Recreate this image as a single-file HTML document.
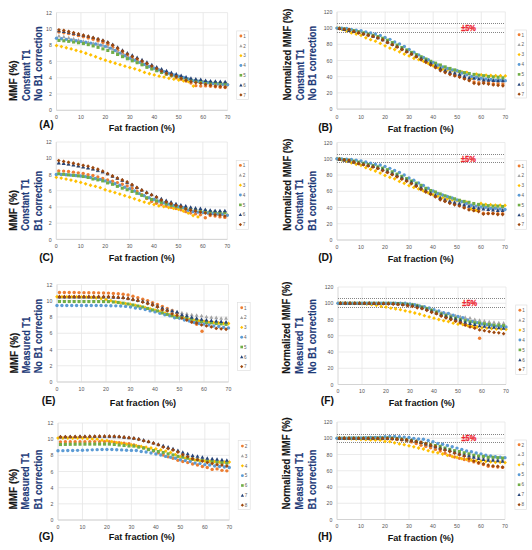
<!DOCTYPE html>
<html><head><meta charset="utf-8"><style>
html,body{margin:0;padding:0;background:#fff;}
body{width:532px;height:550px;position:relative;overflow:hidden;font-family:"Liberation Sans",sans-serif;}
svg{position:absolute;left:0;top:0;}
svg text{font-family:"Liberation Sans",sans-serif;}
.yt,.lab,.ff{position:absolute;left:0;top:0;white-space:nowrap;font-weight:bold;transform-origin:0 0;}
.yt{font-size:10.2px;line-height:10.2px;-webkit-text-stroke:0.15px currentColor;}
.lab{font-size:10.9px;line-height:10.9px;color:#111;}
.ff{font-size:9.4px;line-height:9.4px;color:#111;}
</style></head><body>
<svg width="532" height="550" viewBox="0 0 532 550"><g stroke="#e6e6e6" stroke-width="0.8"><line x1="56.50" y1="12.60" x2="56.50" y2="110.30"/><line x1="80.94" y1="12.60" x2="80.94" y2="110.30"/><line x1="105.39" y1="12.60" x2="105.39" y2="110.30"/><line x1="129.83" y1="12.60" x2="129.83" y2="110.30"/><line x1="154.27" y1="12.60" x2="154.27" y2="110.30"/><line x1="178.71" y1="12.60" x2="178.71" y2="110.30"/><line x1="203.16" y1="12.60" x2="203.16" y2="110.30"/><line x1="227.60" y1="12.60" x2="227.60" y2="110.30"/><line x1="56.50" y1="110.30" x2="227.60" y2="110.30"/><line x1="56.50" y1="94.02" x2="227.60" y2="94.02"/><line x1="56.50" y1="77.73" x2="227.60" y2="77.73"/><line x1="56.50" y1="61.45" x2="227.60" y2="61.45"/><line x1="56.50" y1="45.17" x2="227.60" y2="45.17"/><line x1="56.50" y1="28.88" x2="227.60" y2="28.88"/><line x1="56.50" y1="12.60" x2="227.60" y2="12.60"/></g><line x1="56.50" y1="110.30" x2="227.60" y2="110.30" stroke="#d0d0d0" stroke-width="0.9"/><line x1="56.50" y1="12.60" x2="56.50" y2="110.30" stroke="#dadada" stroke-width="0.8"/><g font-size="5.2" fill="#555"><text x="51.90" y="112.40" text-anchor="end">0</text><text x="51.90" y="96.12" text-anchor="end">2</text><text x="51.90" y="79.83" text-anchor="end">4</text><text x="51.90" y="63.55" text-anchor="end">6</text><text x="51.90" y="47.27" text-anchor="end">8</text><text x="51.90" y="30.98" text-anchor="end">10</text><text x="51.90" y="14.70" text-anchor="end">12</text><text x="56.50" y="118.80" text-anchor="middle">0</text><text x="80.94" y="118.80" text-anchor="middle">10</text><text x="105.39" y="118.80" text-anchor="middle">20</text><text x="129.83" y="118.80" text-anchor="middle">30</text><text x="154.27" y="118.80" text-anchor="middle">40</text><text x="178.71" y="118.80" text-anchor="middle">50</text><text x="203.16" y="118.80" text-anchor="middle">60</text><text x="227.60" y="118.80" text-anchor="middle">70</text></g><g><circle cx="58.94" cy="32.06" r="1.70" fill="#ED7D31"/><circle cx="63.83" cy="32.80" r="1.70" fill="#ED7D31"/><circle cx="68.72" cy="33.66" r="1.70" fill="#ED7D31"/><circle cx="73.61" cy="34.62" r="1.70" fill="#ED7D31"/><circle cx="78.50" cy="35.66" r="1.70" fill="#ED7D31"/><circle cx="83.39" cy="36.78" r="1.70" fill="#ED7D31"/><circle cx="88.28" cy="38.01" r="1.70" fill="#ED7D31"/><circle cx="93.16" cy="39.37" r="1.70" fill="#ED7D31"/><circle cx="98.05" cy="40.90" r="1.70" fill="#ED7D31"/><circle cx="102.94" cy="42.61" r="1.70" fill="#ED7D31"/><circle cx="107.83" cy="44.60" r="1.70" fill="#ED7D31"/><circle cx="112.72" cy="47.19" r="1.70" fill="#ED7D31"/><circle cx="117.61" cy="50.18" r="1.70" fill="#ED7D31"/><circle cx="122.50" cy="53.26" r="1.70" fill="#ED7D31"/><circle cx="127.38" cy="56.12" r="1.70" fill="#ED7D31"/><circle cx="132.27" cy="58.50" r="1.70" fill="#ED7D31"/><circle cx="137.16" cy="60.56" r="1.70" fill="#ED7D31"/><circle cx="142.05" cy="62.67" r="1.70" fill="#ED7D31"/><circle cx="146.94" cy="65.07" r="1.70" fill="#ED7D31"/><circle cx="151.83" cy="67.56" r="1.70" fill="#ED7D31"/><circle cx="156.72" cy="70.09" r="1.70" fill="#ED7D31"/><circle cx="161.60" cy="72.44" r="1.70" fill="#ED7D31"/><circle cx="166.49" cy="74.37" r="1.70" fill="#ED7D31"/><circle cx="171.38" cy="76.10" r="1.70" fill="#ED7D31"/><circle cx="176.27" cy="77.73" r="1.70" fill="#ED7D31"/><circle cx="181.16" cy="79.36" r="1.70" fill="#ED7D31"/><circle cx="186.05" cy="81.08" r="1.70" fill="#ED7D31"/><circle cx="190.94" cy="83.03" r="1.70" fill="#ED7D31"/><circle cx="195.82" cy="85.63" r="1.70" fill="#ED7D31"/><circle cx="200.71" cy="86.12" r="1.70" fill="#ED7D31"/><circle cx="205.60" cy="85.88" r="1.70" fill="#ED7D31"/><circle cx="210.49" cy="86.18" r="1.70" fill="#ED7D31"/><circle cx="215.38" cy="86.69" r="1.70" fill="#ED7D31"/><circle cx="220.27" cy="87.20" r="1.70" fill="#ED7D31"/><circle cx="225.16" cy="87.50" r="1.70" fill="#ED7D31"/><path d="M58.94 34.11L60.89 37.62L56.99 37.62Z" fill="#A5A5A5"/><path d="M63.83 34.80L65.78 38.31L61.88 38.31Z" fill="#A5A5A5"/><path d="M68.72 35.69L70.67 39.20L66.77 39.20Z" fill="#A5A5A5"/><path d="M73.61 36.70L75.56 40.21L71.66 40.21Z" fill="#A5A5A5"/><path d="M78.50 38.06L80.45 41.57L76.55 41.57Z" fill="#A5A5A5"/><path d="M83.39 39.31L85.34 42.82L81.44 42.82Z" fill="#A5A5A5"/><path d="M88.28 40.32L90.23 43.83L86.33 43.83Z" fill="#A5A5A5"/><path d="M93.16 41.23L95.11 44.74L91.21 44.74Z" fill="#A5A5A5"/><path d="M98.05 42.20L100.00 45.71L96.10 45.71Z" fill="#A5A5A5"/><path d="M102.94 43.35L104.89 46.86L100.99 46.86Z" fill="#A5A5A5"/><path d="M107.83 44.85L109.78 48.36L105.88 48.36Z" fill="#A5A5A5"/><path d="M112.72 46.92L114.67 50.43L110.77 50.43Z" fill="#A5A5A5"/><path d="M117.61 49.39L119.56 52.90L115.66 52.90Z" fill="#A5A5A5"/><path d="M122.50 52.03L124.45 55.54L120.55 55.54Z" fill="#A5A5A5"/><path d="M127.38 54.63L129.33 58.14L125.43 58.14Z" fill="#A5A5A5"/><path d="M132.27 57.01L134.22 60.52L130.32 60.52Z" fill="#A5A5A5"/><path d="M137.16 59.36L139.11 62.87L135.21 62.87Z" fill="#A5A5A5"/><path d="M142.05 61.66L144.00 65.17L140.10 65.17Z" fill="#A5A5A5"/><path d="M146.94 63.83L148.89 67.34L144.99 67.34Z" fill="#A5A5A5"/><path d="M151.83 65.88L153.78 69.39L149.88 69.39Z" fill="#A5A5A5"/><path d="M156.72 67.70L158.67 71.21L154.77 71.21Z" fill="#A5A5A5"/><path d="M161.60 69.31L163.55 72.82L159.65 72.82Z" fill="#A5A5A5"/><path d="M166.49 70.85L168.44 74.36L164.54 74.36Z" fill="#A5A5A5"/><path d="M171.38 72.35L173.33 75.86L169.43 75.86Z" fill="#A5A5A5"/><path d="M176.27 73.82L178.22 77.33L174.32 77.33Z" fill="#A5A5A5"/><path d="M181.16 75.35L183.11 78.86L179.21 78.86Z" fill="#A5A5A5"/><path d="M186.05 77.04L188.00 80.55L184.10 80.55Z" fill="#A5A5A5"/><path d="M190.94 78.52L192.89 82.03L188.99 82.03Z" fill="#A5A5A5"/><path d="M195.82 79.42L197.77 82.93L193.87 82.93Z" fill="#A5A5A5"/><path d="M200.71 79.99L202.66 83.50L198.76 83.50Z" fill="#A5A5A5"/><path d="M205.60 80.53L207.55 84.04L203.65 84.04Z" fill="#A5A5A5"/><path d="M210.49 81.07L212.44 84.58L208.54 84.58Z" fill="#A5A5A5"/><path d="M215.38 81.58L217.33 85.09L213.43 85.09Z" fill="#A5A5A5"/><path d="M220.27 82.05L222.22 85.56L218.32 85.56Z" fill="#A5A5A5"/><path d="M225.16 82.50L227.11 86.01L223.21 86.01Z" fill="#A5A5A5"/><path d="M56.50 43.67L58.40 45.57L56.50 47.47L54.60 45.57Z" fill="#FFC000"/><path d="M61.39 44.71L63.29 46.61L61.39 48.51L59.49 46.61Z" fill="#FFC000"/><path d="M66.28 45.84L68.18 47.74L66.28 49.64L64.38 47.74Z" fill="#FFC000"/><path d="M71.17 47.07L73.07 48.97L71.17 50.87L69.27 48.97Z" fill="#FFC000"/><path d="M76.05 48.39L77.95 50.29L76.05 52.19L74.15 50.29Z" fill="#FFC000"/><path d="M80.94 49.78L82.84 51.68L80.94 53.58L79.04 51.68Z" fill="#FFC000"/><path d="M85.83 51.33L87.73 53.23L85.83 55.13L83.93 53.23Z" fill="#FFC000"/><path d="M90.72 53.06L92.62 54.96L90.72 56.86L88.82 54.96Z" fill="#FFC000"/><path d="M95.61 54.87L97.51 56.77L95.61 58.67L93.71 56.77Z" fill="#FFC000"/><path d="M100.50 56.66L102.40 58.56L100.50 60.46L98.60 58.56Z" fill="#FFC000"/><path d="M105.39 58.33L107.29 60.23L105.39 62.13L103.49 60.23Z" fill="#FFC000"/><path d="M110.27 59.87L112.17 61.77L110.27 63.67L108.37 61.77Z" fill="#FFC000"/><path d="M115.16 61.36L117.06 63.26L115.16 65.16L113.26 63.26Z" fill="#FFC000"/><path d="M120.05 62.81L121.95 64.71L120.05 66.61L118.15 64.71Z" fill="#FFC000"/><path d="M124.94 64.24L126.84 66.14L124.94 68.04L123.04 66.14Z" fill="#FFC000"/><path d="M129.83 65.66L131.73 67.56L129.83 69.46L127.93 67.56Z" fill="#FFC000"/><path d="M134.72 66.97L136.62 68.87L134.72 70.77L132.82 68.87Z" fill="#FFC000"/><path d="M139.61 68.42L141.51 70.32L139.61 72.22L137.71 70.32Z" fill="#FFC000"/><path d="M144.49 70.54L146.39 72.44L144.49 74.34L142.59 72.44Z" fill="#FFC000"/><path d="M149.38 71.84L151.28 73.74L149.38 75.64L147.48 73.74Z" fill="#FFC000"/><path d="M154.27 73.07L156.17 74.97L154.27 76.87L152.37 74.97Z" fill="#FFC000"/><path d="M159.16 74.29L161.06 76.19L159.16 78.09L157.26 76.19Z" fill="#FFC000"/><path d="M164.05 75.18L165.95 77.08L164.05 78.98L162.15 77.08Z" fill="#FFC000"/><path d="M168.94 76.40L170.84 78.30L168.94 80.20L167.04 78.30Z" fill="#FFC000"/><path d="M173.83 77.30L175.73 79.20L173.83 81.10L171.93 79.20Z" fill="#FFC000"/><path d="M178.71 78.11L180.61 80.01L178.71 81.91L176.81 80.01Z" fill="#FFC000"/><path d="M183.60 79.01L185.50 80.91L183.60 82.81L181.70 80.91Z" fill="#FFC000"/><path d="M188.49 79.74L190.39 81.64L188.49 83.54L186.59 81.64Z" fill="#FFC000"/><path d="M193.38 84.22L195.28 86.12L193.38 88.02L191.48 86.12Z" fill="#FFC000"/><path d="M198.27 79.90L200.17 81.80L198.27 83.70L196.37 81.80Z" fill="#FFC000"/><path d="M203.16 80.31L205.06 82.21L203.16 84.11L201.26 82.21Z" fill="#FFC000"/><path d="M208.05 80.91L209.95 82.81L208.05 84.71L206.15 82.81Z" fill="#FFC000"/><path d="M212.93 81.53L214.83 83.43L212.93 85.33L211.03 83.43Z" fill="#FFC000"/><path d="M217.82 82.03L219.72 83.93L217.82 85.83L215.92 83.93Z" fill="#FFC000"/><path d="M222.71 82.47L224.61 84.37L222.71 86.27L220.81 84.37Z" fill="#FFC000"/><path d="M227.60 82.84L229.50 84.74L227.60 86.64L225.70 84.74Z" fill="#FFC000"/><circle cx="56.50" cy="38.25" r="1.70" fill="#5B9BD5"/><circle cx="61.39" cy="38.77" r="1.70" fill="#5B9BD5"/><circle cx="66.28" cy="39.37" r="1.70" fill="#5B9BD5"/><circle cx="71.17" cy="40.03" r="1.70" fill="#5B9BD5"/><circle cx="76.05" cy="40.74" r="1.70" fill="#5B9BD5"/><circle cx="80.94" cy="41.50" r="1.70" fill="#5B9BD5"/><circle cx="85.83" cy="42.29" r="1.70" fill="#5B9BD5"/><circle cx="90.72" cy="43.12" r="1.70" fill="#5B9BD5"/><circle cx="95.61" cy="44.05" r="1.70" fill="#5B9BD5"/><circle cx="100.50" cy="45.12" r="1.70" fill="#5B9BD5"/><circle cx="105.39" cy="46.39" r="1.70" fill="#5B9BD5"/><circle cx="110.27" cy="48.15" r="1.70" fill="#5B9BD5"/><circle cx="115.16" cy="50.49" r="1.70" fill="#5B9BD5"/><circle cx="120.05" cy="53.12" r="1.70" fill="#5B9BD5"/><circle cx="124.94" cy="55.79" r="1.70" fill="#5B9BD5"/><circle cx="129.83" cy="58.19" r="1.70" fill="#5B9BD5"/><circle cx="134.72" cy="60.31" r="1.70" fill="#5B9BD5"/><circle cx="139.61" cy="62.33" r="1.70" fill="#5B9BD5"/><circle cx="144.49" cy="64.38" r="1.70" fill="#5B9BD5"/><circle cx="149.38" cy="66.50" r="1.70" fill="#5B9BD5"/><circle cx="154.27" cy="68.21" r="1.70" fill="#5B9BD5"/><circle cx="159.16" cy="69.92" r="1.70" fill="#5B9BD5"/><circle cx="164.05" cy="71.63" r="1.70" fill="#5B9BD5"/><circle cx="168.94" cy="73.34" r="1.70" fill="#5B9BD5"/><circle cx="173.83" cy="74.97" r="1.70" fill="#5B9BD5"/><circle cx="178.71" cy="76.19" r="1.70" fill="#5B9BD5"/><circle cx="183.60" cy="77.49" r="1.70" fill="#5B9BD5"/><circle cx="188.49" cy="79.04" r="1.70" fill="#5B9BD5"/><circle cx="193.38" cy="80.83" r="1.70" fill="#5B9BD5"/><circle cx="198.27" cy="81.23" r="1.70" fill="#5B9BD5"/><circle cx="203.16" cy="82.13" r="1.70" fill="#5B9BD5"/><circle cx="208.05" cy="82.54" r="1.70" fill="#5B9BD5"/><circle cx="212.93" cy="83.43" r="1.70" fill="#5B9BD5"/><circle cx="217.82" cy="83.92" r="1.70" fill="#5B9BD5"/><circle cx="222.71" cy="84.33" r="1.70" fill="#5B9BD5"/><circle cx="227.60" cy="84.74" r="1.70" fill="#5B9BD5"/><rect x="57.39" y="38.86" width="3.10" height="3.10" fill="#70AD47"/><rect x="62.28" y="39.25" width="3.10" height="3.10" fill="#70AD47"/><rect x="67.17" y="39.79" width="3.10" height="3.10" fill="#70AD47"/><rect x="72.06" y="40.45" width="3.10" height="3.10" fill="#70AD47"/><rect x="76.95" y="41.19" width="3.10" height="3.10" fill="#70AD47"/><rect x="81.84" y="42.01" width="3.10" height="3.10" fill="#70AD47"/><rect x="86.73" y="43.07" width="3.10" height="3.10" fill="#70AD47"/><rect x="91.61" y="44.34" width="3.10" height="3.10" fill="#70AD47"/><rect x="96.50" y="45.77" width="3.10" height="3.10" fill="#70AD47"/><rect x="101.39" y="47.30" width="3.10" height="3.10" fill="#70AD47"/><rect x="106.28" y="48.93" width="3.10" height="3.10" fill="#70AD47"/><rect x="111.17" y="50.83" width="3.10" height="3.10" fill="#70AD47"/><rect x="116.06" y="52.92" width="3.10" height="3.10" fill="#70AD47"/><rect x="120.95" y="55.10" width="3.10" height="3.10" fill="#70AD47"/><rect x="125.83" y="57.24" width="3.10" height="3.10" fill="#70AD47"/><rect x="130.72" y="59.25" width="3.10" height="3.10" fill="#70AD47"/><rect x="135.61" y="61.16" width="3.10" height="3.10" fill="#70AD47"/><rect x="140.50" y="63.24" width="3.10" height="3.10" fill="#70AD47"/><rect x="145.39" y="65.76" width="3.10" height="3.10" fill="#70AD47"/><rect x="150.28" y="67.47" width="3.10" height="3.10" fill="#70AD47"/><rect x="155.17" y="69.18" width="3.10" height="3.10" fill="#70AD47"/><rect x="160.05" y="70.89" width="3.10" height="3.10" fill="#70AD47"/><rect x="164.94" y="72.52" width="3.10" height="3.10" fill="#70AD47"/><rect x="169.83" y="73.82" width="3.10" height="3.10" fill="#70AD47"/><rect x="174.72" y="75.04" width="3.10" height="3.10" fill="#70AD47"/><rect x="179.61" y="76.35" width="3.10" height="3.10" fill="#70AD47"/><rect x="184.50" y="77.59" width="3.10" height="3.10" fill="#70AD47"/><rect x="189.39" y="78.63" width="3.10" height="3.10" fill="#70AD47"/><rect x="194.27" y="79.29" width="3.10" height="3.10" fill="#70AD47"/><rect x="199.16" y="79.85" width="3.10" height="3.10" fill="#70AD47"/><rect x="204.05" y="80.43" width="3.10" height="3.10" fill="#70AD47"/><rect x="208.94" y="80.91" width="3.10" height="3.10" fill="#70AD47"/><rect x="213.83" y="81.21" width="3.10" height="3.10" fill="#70AD47"/><rect x="218.72" y="81.48" width="3.10" height="3.10" fill="#70AD47"/><rect x="223.61" y="81.75" width="3.10" height="3.10" fill="#70AD47"/><path d="M58.94 28.86L60.89 32.37L56.99 32.37Z" fill="#264478"/><path d="M63.83 29.54L65.78 33.05L61.88 33.05Z" fill="#264478"/><path d="M68.72 30.33L70.67 33.84L66.77 33.84Z" fill="#264478"/><path d="M73.61 31.20L75.56 34.71L71.66 34.71Z" fill="#264478"/><path d="M78.50 32.14L80.45 35.65L76.55 35.65Z" fill="#264478"/><path d="M83.39 33.14L85.34 36.65L81.44 36.65Z" fill="#264478"/><path d="M88.28 34.23L90.23 37.74L86.33 37.74Z" fill="#264478"/><path d="M93.16 35.43L95.11 38.94L91.21 38.94Z" fill="#264478"/><path d="M98.05 36.78L100.00 40.29L96.10 40.29Z" fill="#264478"/><path d="M102.94 38.31L104.89 41.82L100.99 41.82Z" fill="#264478"/><path d="M107.83 40.11L109.78 43.62L105.88 43.62Z" fill="#264478"/><path d="M112.72 42.48L114.67 45.99L110.77 45.99Z" fill="#264478"/><path d="M117.61 45.24L119.56 48.75L115.66 48.75Z" fill="#264478"/><path d="M122.50 48.13L124.45 51.64L120.55 51.64Z" fill="#264478"/><path d="M127.38 50.91L129.33 54.42L125.43 54.42Z" fill="#264478"/><path d="M132.27 53.35L134.22 56.86L130.32 56.86Z" fill="#264478"/><path d="M137.16 55.59L139.11 59.10L135.21 59.10Z" fill="#264478"/><path d="M142.05 57.87L144.00 61.38L140.10 61.38Z" fill="#264478"/><path d="M146.94 60.33L148.89 63.84L144.99 63.84Z" fill="#264478"/><path d="M151.83 62.76L153.78 66.27L149.88 66.27Z" fill="#264478"/><path d="M156.72 65.01L158.67 68.52L154.77 68.52Z" fill="#264478"/><path d="M161.60 67.07L163.55 70.58L159.65 70.58Z" fill="#264478"/><path d="M166.49 68.86L168.44 72.37L164.54 72.37Z" fill="#264478"/><path d="M171.38 70.49L173.33 74.00L169.43 74.00Z" fill="#264478"/><path d="M176.27 71.98L178.22 75.49L174.32 75.49Z" fill="#264478"/><path d="M181.16 73.42L183.11 76.93L179.21 76.93Z" fill="#264478"/><path d="M186.05 74.89L188.00 78.40L184.10 78.40Z" fill="#264478"/><path d="M190.94 76.19L192.89 79.70L188.99 79.70Z" fill="#264478"/><path d="M195.82 77.09L197.77 80.60L193.87 80.60Z" fill="#264478"/><path d="M200.71 77.49L202.66 81.00L198.76 81.00Z" fill="#264478"/><path d="M205.60 78.39L207.55 81.90L203.65 81.90Z" fill="#264478"/><path d="M210.49 78.88L212.44 82.39L208.54 82.39Z" fill="#264478"/><path d="M215.38 79.28L217.33 82.79L213.43 82.79Z" fill="#264478"/><path d="M220.27 79.45L222.22 82.96L218.32 82.96Z" fill="#264478"/><path d="M225.16 79.69L227.11 83.20L223.21 83.20Z" fill="#264478"/><path d="M58.94 27.96L60.84 29.86L58.94 31.76L57.04 29.86Z" fill="#9E480E"/><path d="M63.83 28.61L65.73 30.51L63.83 32.41L61.93 30.51Z" fill="#9E480E"/><path d="M68.72 29.61L70.62 31.51L68.72 33.41L66.82 31.51Z" fill="#9E480E"/><path d="M73.61 30.81L75.51 32.71L73.61 34.61L71.71 32.71Z" fill="#9E480E"/><path d="M78.50 32.07L80.40 33.97L78.50 35.87L76.60 33.97Z" fill="#9E480E"/><path d="M83.39 33.28L85.29 35.18L83.39 37.08L81.49 35.18Z" fill="#9E480E"/><path d="M88.28 34.47L90.18 36.37L88.28 38.27L86.38 36.37Z" fill="#9E480E"/><path d="M93.16 35.73L95.06 37.63L93.16 39.53L91.26 37.63Z" fill="#9E480E"/><path d="M98.05 37.13L99.95 39.03L98.05 40.93L96.15 39.03Z" fill="#9E480E"/><path d="M102.94 38.72L104.84 40.62L102.94 42.52L101.04 40.62Z" fill="#9E480E"/><path d="M107.83 40.63L109.73 42.53L107.83 44.43L105.93 42.53Z" fill="#9E480E"/><path d="M112.72 43.17L114.62 45.07L112.72 46.97L110.82 45.07Z" fill="#9E480E"/><path d="M117.61 46.13L119.51 48.03L117.61 49.93L115.71 48.03Z" fill="#9E480E"/><path d="M122.50 49.22L124.40 51.12L122.50 53.02L120.60 51.12Z" fill="#9E480E"/><path d="M127.38 52.14L129.28 54.04L127.38 55.94L125.48 54.04Z" fill="#9E480E"/><path d="M132.27 54.64L134.17 56.54L132.27 58.44L130.37 56.54Z" fill="#9E480E"/><path d="M137.16 56.88L139.06 58.78L137.16 60.68L135.26 58.78Z" fill="#9E480E"/><path d="M142.05 59.14L143.95 61.04L142.05 62.94L140.15 61.04Z" fill="#9E480E"/><path d="M146.94 61.59L148.84 63.49L146.94 65.39L145.04 63.49Z" fill="#9E480E"/><path d="M151.83 64.19L153.73 66.09L151.83 67.99L149.93 66.09Z" fill="#9E480E"/><path d="M156.72 66.71L158.62 68.61L156.72 70.51L154.82 68.61Z" fill="#9E480E"/><path d="M161.60 69.32L163.50 71.22L161.60 73.12L159.70 71.22Z" fill="#9E480E"/><path d="M166.49 71.44L168.39 73.34L166.49 75.24L164.59 73.34Z" fill="#9E480E"/><path d="M171.38 73.07L173.28 74.97L171.38 76.87L169.48 74.97Z" fill="#9E480E"/><path d="M176.27 74.69L178.17 76.59L176.27 78.49L174.37 76.59Z" fill="#9E480E"/><path d="M181.16 76.40L183.06 78.30L181.16 80.20L179.26 78.30Z" fill="#9E480E"/><path d="M186.05 78.44L187.95 80.34L186.05 82.24L184.15 80.34Z" fill="#9E480E"/><path d="M190.94 79.74L192.84 81.64L190.94 83.54L189.04 81.64Z" fill="#9E480E"/><path d="M195.82 80.64L197.72 82.54L195.82 84.44L193.92 82.54Z" fill="#9E480E"/><path d="M200.71 81.53L202.61 83.43L200.71 85.33L198.81 83.43Z" fill="#9E480E"/><path d="M205.60 82.43L207.50 84.33L205.60 86.23L203.70 84.33Z" fill="#9E480E"/><path d="M210.49 83.32L212.39 85.22L210.49 87.12L208.59 85.22Z" fill="#9E480E"/><path d="M215.38 84.22L217.28 86.12L215.38 88.02L213.48 86.12Z" fill="#9E480E"/><path d="M220.27 84.38L222.17 86.28L220.27 88.18L218.37 86.28Z" fill="#9E480E"/><path d="M225.16 85.11L227.06 87.01L225.16 88.91L223.26 87.01Z" fill="#9E480E"/></g><rect x="236.70" y="30.90" width="11.70" height="68.50" fill="none" stroke="#e0e0e0" stroke-width="0.7"/><circle cx="240.90" cy="36.00" r="1.44" fill="#ED7D31"/><text x="243.20" y="37.70" font-size="4.6" fill="#5e5e5e">1</text><path d="M240.90 44.16L242.56 47.14L239.24 47.14Z" fill="#A5A5A5"/><text x="243.20" y="47.52" font-size="4.6" fill="#5e5e5e">2</text><path d="M240.90 54.02L242.51 55.63L240.90 57.25L239.28 55.63Z" fill="#FFC000"/><text x="243.20" y="57.33" font-size="4.6" fill="#5e5e5e">3</text><circle cx="240.90" cy="65.45" r="1.44" fill="#5B9BD5"/><text x="243.20" y="67.15" font-size="4.6" fill="#5e5e5e">4</text><rect x="239.58" y="73.95" width="2.63" height="2.63" fill="#70AD47"/><text x="243.20" y="76.97" font-size="4.6" fill="#5e5e5e">5</text><path d="M240.90 83.43L242.56 86.41L239.24 86.41Z" fill="#264478"/><text x="243.20" y="86.78" font-size="4.6" fill="#5e5e5e">6</text><path d="M240.90 93.29L242.51 94.90L240.90 96.52L239.28 94.90Z" fill="#9E480E"/><text x="243.20" y="96.60" font-size="4.6" fill="#5e5e5e">7</text><g stroke="#e6e6e6" stroke-width="0.8"><line x1="56.30" y1="142.00" x2="56.30" y2="239.40"/><line x1="80.73" y1="142.00" x2="80.73" y2="239.40"/><line x1="105.16" y1="142.00" x2="105.16" y2="239.40"/><line x1="129.59" y1="142.00" x2="129.59" y2="239.40"/><line x1="154.01" y1="142.00" x2="154.01" y2="239.40"/><line x1="178.44" y1="142.00" x2="178.44" y2="239.40"/><line x1="202.87" y1="142.00" x2="202.87" y2="239.40"/><line x1="227.30" y1="142.00" x2="227.30" y2="239.40"/><line x1="56.30" y1="239.40" x2="227.30" y2="239.40"/><line x1="56.30" y1="223.17" x2="227.30" y2="223.17"/><line x1="56.30" y1="206.93" x2="227.30" y2="206.93"/><line x1="56.30" y1="190.70" x2="227.30" y2="190.70"/><line x1="56.30" y1="174.47" x2="227.30" y2="174.47"/><line x1="56.30" y1="158.23" x2="227.30" y2="158.23"/><line x1="56.30" y1="142.00" x2="227.30" y2="142.00"/></g><line x1="56.30" y1="239.40" x2="227.30" y2="239.40" stroke="#d0d0d0" stroke-width="0.9"/><line x1="56.30" y1="142.00" x2="56.30" y2="239.40" stroke="#dadada" stroke-width="0.8"/><g font-size="5.2" fill="#555"><text x="51.70" y="241.50" text-anchor="end">0</text><text x="51.70" y="225.27" text-anchor="end">2</text><text x="51.70" y="209.03" text-anchor="end">4</text><text x="51.70" y="192.80" text-anchor="end">6</text><text x="51.70" y="176.57" text-anchor="end">8</text><text x="51.70" y="160.33" text-anchor="end">10</text><text x="51.70" y="144.10" text-anchor="end">12</text><text x="56.30" y="248.00" text-anchor="middle">0</text><text x="80.73" y="248.00" text-anchor="middle">10</text><text x="105.16" y="248.00" text-anchor="middle">20</text><text x="129.59" y="248.00" text-anchor="middle">30</text><text x="154.01" y="248.00" text-anchor="middle">40</text><text x="178.44" y="248.00" text-anchor="middle">50</text><text x="202.87" y="248.00" text-anchor="middle">60</text><text x="227.30" y="248.00" text-anchor="middle">70</text></g><g><circle cx="58.74" cy="170.86" r="1.70" fill="#ED7D31"/><circle cx="63.63" cy="171.12" r="1.70" fill="#ED7D31"/><circle cx="68.51" cy="171.57" r="1.70" fill="#ED7D31"/><circle cx="73.40" cy="172.16" r="1.70" fill="#ED7D31"/><circle cx="78.29" cy="172.84" r="1.70" fill="#ED7D31"/><circle cx="83.17" cy="173.57" r="1.70" fill="#ED7D31"/><circle cx="88.06" cy="174.63" r="1.70" fill="#ED7D31"/><circle cx="92.94" cy="175.52" r="1.70" fill="#ED7D31"/><circle cx="97.83" cy="176.98" r="1.70" fill="#ED7D31"/><circle cx="102.71" cy="178.53" r="1.70" fill="#ED7D31"/><circle cx="107.60" cy="179.90" r="1.70" fill="#ED7D31"/><circle cx="112.49" cy="181.20" r="1.70" fill="#ED7D31"/><circle cx="117.37" cy="182.58" r="1.70" fill="#ED7D31"/><circle cx="122.26" cy="184.20" r="1.70" fill="#ED7D31"/><circle cx="127.14" cy="186.05" r="1.70" fill="#ED7D31"/><circle cx="132.03" cy="188.27" r="1.70" fill="#ED7D31"/><circle cx="136.91" cy="191.29" r="1.70" fill="#ED7D31"/><circle cx="141.80" cy="194.76" r="1.70" fill="#ED7D31"/><circle cx="146.69" cy="198.48" r="1.70" fill="#ED7D31"/><circle cx="151.57" cy="201.58" r="1.70" fill="#ED7D31"/><circle cx="156.46" cy="203.24" r="1.70" fill="#ED7D31"/><circle cx="161.34" cy="204.58" r="1.70" fill="#ED7D31"/><circle cx="166.23" cy="206.00" r="1.70" fill="#ED7D31"/><circle cx="171.11" cy="207.34" r="1.70" fill="#ED7D31"/><circle cx="176.00" cy="208.50" r="1.70" fill="#ED7D31"/><circle cx="180.89" cy="209.77" r="1.70" fill="#ED7D31"/><circle cx="185.77" cy="211.64" r="1.70" fill="#ED7D31"/><circle cx="190.66" cy="213.02" r="1.70" fill="#ED7D31"/><circle cx="195.54" cy="213.91" r="1.70" fill="#ED7D31"/><circle cx="200.43" cy="214.73" r="1.70" fill="#ED7D31"/><circle cx="205.31" cy="217.81" r="1.70" fill="#ED7D31"/><circle cx="210.20" cy="215.62" r="1.70" fill="#ED7D31"/><circle cx="215.09" cy="216.11" r="1.70" fill="#ED7D31"/><circle cx="219.97" cy="216.92" r="1.70" fill="#ED7D31"/><circle cx="224.86" cy="217.40" r="1.70" fill="#ED7D31"/><path d="M58.74 160.70L60.69 164.21L56.79 164.21Z" fill="#A5A5A5"/><path d="M63.63 161.47L65.58 164.98L61.68 164.98Z" fill="#A5A5A5"/><path d="M68.51 162.32L70.46 165.83L66.56 165.83Z" fill="#A5A5A5"/><path d="M73.40 163.23L75.35 166.74L71.45 166.74Z" fill="#A5A5A5"/><path d="M78.29 164.20L80.24 167.71L76.34 167.71Z" fill="#A5A5A5"/><path d="M83.17 165.21L85.12 168.72L81.22 168.72Z" fill="#A5A5A5"/><path d="M88.06 166.27L90.01 169.78L86.11 169.78Z" fill="#A5A5A5"/><path d="M92.94 167.40L94.89 170.91L90.99 170.91Z" fill="#A5A5A5"/><path d="M97.83 168.65L99.78 172.16L95.88 172.16Z" fill="#A5A5A5"/><path d="M102.71 170.08L104.66 173.59L100.76 173.59Z" fill="#A5A5A5"/><path d="M107.60 171.80L109.55 175.31L105.65 175.31Z" fill="#A5A5A5"/><path d="M112.49 173.81L114.44 177.32L110.54 177.32Z" fill="#A5A5A5"/><path d="M117.37 176.03L119.32 179.54L115.42 179.54Z" fill="#A5A5A5"/><path d="M122.26 178.33L124.21 181.84L120.31 181.84Z" fill="#A5A5A5"/><path d="M127.14 180.63L129.09 184.14L125.19 184.14Z" fill="#A5A5A5"/><path d="M132.03 182.99L133.98 186.50L130.08 186.50Z" fill="#A5A5A5"/><path d="M136.91 185.49L138.86 189.00L134.96 189.00Z" fill="#A5A5A5"/><path d="M141.80 188.02L143.75 191.53L139.85 191.53Z" fill="#A5A5A5"/><path d="M146.69 190.49L148.64 194.00L144.74 194.00Z" fill="#A5A5A5"/><path d="M151.57 192.81L153.52 196.32L149.62 196.32Z" fill="#A5A5A5"/><path d="M156.46 195.03L158.41 198.54L154.51 198.54Z" fill="#A5A5A5"/><path d="M161.34 197.21L163.29 200.72L159.39 200.72Z" fill="#A5A5A5"/><path d="M166.23 199.21L168.18 202.72L164.28 202.72Z" fill="#A5A5A5"/><path d="M171.11 200.93L173.06 204.44L169.16 204.44Z" fill="#A5A5A5"/><path d="M176.00 202.37L177.95 205.88L174.05 205.88Z" fill="#A5A5A5"/><path d="M180.89 203.67L182.84 207.18L178.94 207.18Z" fill="#A5A5A5"/><path d="M185.77 204.81L187.72 208.32L183.82 208.32Z" fill="#A5A5A5"/><path d="M190.66 205.80L192.61 209.31L188.71 209.31Z" fill="#A5A5A5"/><path d="M195.54 206.68L197.49 210.19L193.59 210.19Z" fill="#A5A5A5"/><path d="M200.43 207.49L202.38 211.00L198.48 211.00Z" fill="#A5A5A5"/><path d="M205.31 208.17L207.26 211.68L203.36 211.68Z" fill="#A5A5A5"/><path d="M210.20 208.64L212.15 212.15L208.25 212.15Z" fill="#A5A5A5"/><path d="M215.09 208.97L217.04 212.48L213.14 212.48Z" fill="#A5A5A5"/><path d="M219.97 209.25L221.92 212.76L218.02 212.76Z" fill="#A5A5A5"/><path d="M224.86 209.42L226.81 212.93L222.91 212.93Z" fill="#A5A5A5"/><path d="M56.30 175.41L58.20 177.31L56.30 179.21L54.40 177.31Z" fill="#FFC000"/><path d="M61.19 176.21L63.09 178.11L61.19 180.01L59.29 178.11Z" fill="#FFC000"/><path d="M66.07 177.15L67.97 179.05L66.07 180.95L64.17 179.05Z" fill="#FFC000"/><path d="M70.96 178.19L72.86 180.09L70.96 181.99L69.06 180.09Z" fill="#FFC000"/><path d="M75.84 179.33L77.74 181.23L75.84 183.13L73.94 181.23Z" fill="#FFC000"/><path d="M80.73 180.52L82.63 182.42L80.73 184.32L78.83 182.42Z" fill="#FFC000"/><path d="M85.61 181.90L87.51 183.80L85.61 185.70L83.71 183.80Z" fill="#FFC000"/><path d="M90.50 183.36L92.40 185.26L90.50 187.16L88.60 185.26Z" fill="#FFC000"/><path d="M95.39 184.42L97.29 186.32L95.39 188.22L93.49 186.32Z" fill="#FFC000"/><path d="M100.27 185.80L102.17 187.70L100.27 189.60L98.37 187.70Z" fill="#FFC000"/><path d="M105.16 187.83L107.06 189.73L105.16 191.63L103.26 189.73Z" fill="#FFC000"/><path d="M110.04 189.29L111.94 191.19L110.04 193.09L108.14 191.19Z" fill="#FFC000"/><path d="M114.93 190.67L116.83 192.57L114.93 194.47L113.03 192.57Z" fill="#FFC000"/><path d="M119.81 192.21L121.71 194.11L119.81 196.01L117.91 194.11Z" fill="#FFC000"/><path d="M124.70 193.74L126.60 195.64L124.70 197.54L122.80 195.64Z" fill="#FFC000"/><path d="M129.59 195.29L131.49 197.19L129.59 199.09L127.69 197.19Z" fill="#FFC000"/><path d="M134.47 196.91L136.37 198.81L134.47 200.71L132.57 198.81Z" fill="#FFC000"/><path d="M139.36 198.54L141.26 200.44L139.36 202.34L137.46 200.44Z" fill="#FFC000"/><path d="M144.24 200.16L146.14 202.06L144.24 203.96L142.34 202.06Z" fill="#FFC000"/><path d="M149.13 201.38L151.03 203.28L149.13 205.18L147.23 203.28Z" fill="#FFC000"/><path d="M154.01 202.68L155.91 204.58L154.01 206.48L152.11 204.58Z" fill="#FFC000"/><path d="M158.90 203.98L160.80 205.88L158.90 207.78L157.00 205.88Z" fill="#FFC000"/><path d="M163.79 204.79L165.69 206.69L163.79 208.59L161.89 206.69Z" fill="#FFC000"/><path d="M168.67 205.68L170.57 207.58L168.67 209.48L166.77 207.58Z" fill="#FFC000"/><path d="M173.56 206.49L175.46 208.39L173.56 210.29L171.66 208.39Z" fill="#FFC000"/><path d="M178.44 207.39L180.34 209.29L178.44 211.19L176.54 209.29Z" fill="#FFC000"/><path d="M183.33 209.09L185.23 210.99L183.33 212.89L181.43 210.99Z" fill="#FFC000"/><path d="M188.21 211.12L190.11 213.02L188.21 214.92L186.31 213.02Z" fill="#FFC000"/><path d="M193.10 213.72L195.00 215.62L193.10 217.52L191.20 215.62Z" fill="#FFC000"/><path d="M197.99 215.02L199.89 216.92L197.99 218.82L196.09 216.92Z" fill="#FFC000"/><path d="M202.87 210.72L204.77 212.62L202.87 214.52L200.97 212.62Z" fill="#FFC000"/><path d="M207.76 211.01L209.66 212.91L207.76 214.81L205.86 212.91Z" fill="#FFC000"/><path d="M212.64 211.53L214.54 213.43L212.64 215.33L210.74 213.43Z" fill="#FFC000"/><path d="M217.53 212.01L219.43 213.91L217.53 215.81L215.63 213.91Z" fill="#FFC000"/><path d="M222.41 212.55L224.31 214.45L222.41 216.35L220.51 214.45Z" fill="#FFC000"/><path d="M227.30 213.15L229.20 215.05L227.30 216.95L225.40 215.05Z" fill="#FFC000"/><circle cx="56.30" cy="174.47" r="1.70" fill="#5B9BD5"/><circle cx="61.19" cy="174.56" r="1.70" fill="#5B9BD5"/><circle cx="66.07" cy="174.79" r="1.70" fill="#5B9BD5"/><circle cx="70.96" cy="175.14" r="1.70" fill="#5B9BD5"/><circle cx="75.84" cy="175.55" r="1.70" fill="#5B9BD5"/><circle cx="80.73" cy="176.01" r="1.70" fill="#5B9BD5"/><circle cx="85.61" cy="176.63" r="1.70" fill="#5B9BD5"/><circle cx="90.50" cy="177.47" r="1.70" fill="#5B9BD5"/><circle cx="95.39" cy="178.53" r="1.70" fill="#5B9BD5"/><circle cx="100.27" cy="179.42" r="1.70" fill="#5B9BD5"/><circle cx="105.16" cy="180.88" r="1.70" fill="#5B9BD5"/><circle cx="110.04" cy="181.93" r="1.70" fill="#5B9BD5"/><circle cx="114.93" cy="183.80" r="1.70" fill="#5B9BD5"/><circle cx="119.81" cy="185.26" r="1.70" fill="#5B9BD5"/><circle cx="124.70" cy="187.29" r="1.70" fill="#5B9BD5"/><circle cx="129.59" cy="188.67" r="1.70" fill="#5B9BD5"/><circle cx="134.47" cy="191.01" r="1.70" fill="#5B9BD5"/><circle cx="139.36" cy="193.62" r="1.70" fill="#5B9BD5"/><circle cx="144.24" cy="195.73" r="1.70" fill="#5B9BD5"/><circle cx="149.13" cy="197.76" r="1.70" fill="#5B9BD5"/><circle cx="154.01" cy="199.47" r="1.70" fill="#5B9BD5"/><circle cx="158.90" cy="201.17" r="1.70" fill="#5B9BD5"/><circle cx="163.79" cy="202.88" r="1.70" fill="#5B9BD5"/><circle cx="168.67" cy="204.17" r="1.70" fill="#5B9BD5"/><circle cx="173.56" cy="205.47" r="1.70" fill="#5B9BD5"/><circle cx="178.44" cy="206.69" r="1.70" fill="#5B9BD5"/><circle cx="183.33" cy="207.58" r="1.70" fill="#5B9BD5"/><circle cx="188.21" cy="210.26" r="1.70" fill="#5B9BD5"/><circle cx="193.10" cy="211.64" r="1.70" fill="#5B9BD5"/><circle cx="197.99" cy="212.13" r="1.70" fill="#5B9BD5"/><circle cx="202.87" cy="212.53" r="1.70" fill="#5B9BD5"/><circle cx="207.76" cy="213.02" r="1.70" fill="#5B9BD5"/><circle cx="212.64" cy="213.43" r="1.70" fill="#5B9BD5"/><circle cx="217.53" cy="213.91" r="1.70" fill="#5B9BD5"/><circle cx="222.41" cy="214.32" r="1.70" fill="#5B9BD5"/><circle cx="227.30" cy="215.21" r="1.70" fill="#5B9BD5"/><rect x="57.19" y="172.22" width="3.10" height="3.10" fill="#70AD47"/><rect x="62.08" y="172.77" width="3.10" height="3.10" fill="#70AD47"/><rect x="66.96" y="173.32" width="3.10" height="3.10" fill="#70AD47"/><rect x="71.85" y="173.82" width="3.10" height="3.10" fill="#70AD47"/><rect x="76.74" y="174.32" width="3.10" height="3.10" fill="#70AD47"/><rect x="81.62" y="174.95" width="3.10" height="3.10" fill="#70AD47"/><rect x="86.51" y="175.92" width="3.10" height="3.10" fill="#70AD47"/><rect x="91.39" y="177.46" width="3.10" height="3.10" fill="#70AD47"/><rect x="96.28" y="178.35" width="3.10" height="3.10" fill="#70AD47"/><rect x="101.16" y="179.33" width="3.10" height="3.10" fill="#70AD47"/><rect x="106.05" y="181.36" width="3.10" height="3.10" fill="#70AD47"/><rect x="110.94" y="182.74" width="3.10" height="3.10" fill="#70AD47"/><rect x="115.82" y="184.77" width="3.10" height="3.10" fill="#70AD47"/><rect x="120.71" y="186.63" width="3.10" height="3.10" fill="#70AD47"/><rect x="125.59" y="188.18" width="3.10" height="3.10" fill="#70AD47"/><rect x="130.48" y="189.89" width="3.10" height="3.10" fill="#70AD47"/><rect x="135.36" y="191.73" width="3.10" height="3.10" fill="#70AD47"/><rect x="140.25" y="193.78" width="3.10" height="3.10" fill="#70AD47"/><rect x="145.14" y="196.21" width="3.10" height="3.10" fill="#70AD47"/><rect x="150.02" y="197.92" width="3.10" height="3.10" fill="#70AD47"/><rect x="154.91" y="199.30" width="3.10" height="3.10" fill="#70AD47"/><rect x="159.79" y="200.81" width="3.10" height="3.10" fill="#70AD47"/><rect x="164.68" y="202.36" width="3.10" height="3.10" fill="#70AD47"/><rect x="169.56" y="203.76" width="3.10" height="3.10" fill="#70AD47"/><rect x="174.45" y="204.98" width="3.10" height="3.10" fill="#70AD47"/><rect x="179.34" y="206.08" width="3.10" height="3.10" fill="#70AD47"/><rect x="184.22" y="207.01" width="3.10" height="3.10" fill="#70AD47"/><rect x="189.11" y="207.77" width="3.10" height="3.10" fill="#70AD47"/><rect x="193.99" y="208.44" width="3.10" height="3.10" fill="#70AD47"/><rect x="198.88" y="209.04" width="3.10" height="3.10" fill="#70AD47"/><rect x="203.76" y="209.60" width="3.10" height="3.10" fill="#70AD47"/><rect x="208.65" y="210.16" width="3.10" height="3.10" fill="#70AD47"/><rect x="213.54" y="210.58" width="3.10" height="3.10" fill="#70AD47"/><rect x="218.42" y="210.85" width="3.10" height="3.10" fill="#70AD47"/><rect x="223.31" y="210.98" width="3.10" height="3.10" fill="#70AD47"/><path d="M58.74 160.91L60.69 164.42L56.79 164.42Z" fill="#264478"/><path d="M63.63 161.37L65.58 164.88L61.68 164.88Z" fill="#264478"/><path d="M68.51 161.97L70.46 165.47L66.56 165.47Z" fill="#264478"/><path d="M73.40 162.77L75.35 166.28L71.45 166.28Z" fill="#264478"/><path d="M78.29 163.77L80.24 167.28L76.34 167.28Z" fill="#264478"/><path d="M83.17 164.81L85.12 168.32L81.22 168.32Z" fill="#264478"/><path d="M88.06 165.77L90.01 169.28L86.11 169.28Z" fill="#264478"/><path d="M92.94 166.84L94.89 170.35L90.99 170.35Z" fill="#264478"/><path d="M97.83 168.12L99.78 171.63L95.88 171.63Z" fill="#264478"/><path d="M102.71 169.68L104.66 173.19L100.76 173.19Z" fill="#264478"/><path d="M107.60 171.81L109.55 175.32L105.65 175.32Z" fill="#264478"/><path d="M112.49 174.14L114.44 177.65L110.54 177.65Z" fill="#264478"/><path d="M117.37 176.16L119.32 179.67L115.42 179.67Z" fill="#264478"/><path d="M122.26 178.12L124.21 181.63L120.31 181.63Z" fill="#264478"/><path d="M127.14 180.23L129.09 183.74L125.19 183.74Z" fill="#264478"/><path d="M132.03 182.71L133.98 186.22L130.08 186.22Z" fill="#264478"/><path d="M136.91 185.39L138.86 188.90L134.96 188.90Z" fill="#264478"/><path d="M141.80 187.94L143.75 191.45L139.85 191.45Z" fill="#264478"/><path d="M146.69 190.21L148.64 193.72L144.74 193.72Z" fill="#264478"/><path d="M151.57 192.40L153.52 195.91L149.62 195.91Z" fill="#264478"/><path d="M156.46 194.67L158.41 198.18L154.51 198.18Z" fill="#264478"/><path d="M161.34 196.79L163.29 200.30L159.39 200.30Z" fill="#264478"/><path d="M166.23 198.53L168.18 202.04L164.28 202.04Z" fill="#264478"/><path d="M171.11 200.11L173.06 203.62L169.16 203.62Z" fill="#264478"/><path d="M176.00 201.69L177.95 205.20L174.05 205.20Z" fill="#264478"/><path d="M180.89 203.04L182.84 206.55L178.94 206.55Z" fill="#264478"/><path d="M185.77 203.93L187.72 207.44L183.82 207.44Z" fill="#264478"/><path d="M190.66 205.23L192.61 208.74L188.71 208.74Z" fill="#264478"/><path d="M195.54 206.12L197.49 209.63L193.59 209.63Z" fill="#264478"/><path d="M200.43 206.61L202.38 210.12L198.48 210.12Z" fill="#264478"/><path d="M205.31 207.42L207.26 210.93L203.36 210.93Z" fill="#264478"/><path d="M210.20 208.31L212.15 211.82L208.25 211.82Z" fill="#264478"/><path d="M215.09 208.80L217.04 212.31L213.14 212.31Z" fill="#264478"/><path d="M219.97 208.80L221.92 212.31L218.02 212.31Z" fill="#264478"/><path d="M224.86 208.80L226.81 212.31L222.91 212.31Z" fill="#264478"/><path d="M58.74 158.68L60.64 160.58L58.74 162.48L56.84 160.58Z" fill="#9E480E"/><path d="M63.63 159.51L65.53 161.41L63.63 163.31L61.73 161.41Z" fill="#9E480E"/><path d="M68.51 160.39L70.41 162.29L68.51 164.19L66.61 162.29Z" fill="#9E480E"/><path d="M73.40 161.37L75.30 163.27L73.40 165.17L71.50 163.27Z" fill="#9E480E"/><path d="M78.29 162.40L80.19 164.30L78.29 166.20L76.39 164.30Z" fill="#9E480E"/><path d="M83.17 163.39L85.07 165.29L83.17 167.19L81.27 165.29Z" fill="#9E480E"/><path d="M88.06 164.29L89.96 166.19L88.06 168.09L86.16 166.19Z" fill="#9E480E"/><path d="M92.94 165.83L94.84 167.73L92.94 169.63L91.04 167.73Z" fill="#9E480E"/><path d="M97.83 167.29L99.73 169.19L97.83 171.09L95.93 169.19Z" fill="#9E480E"/><path d="M102.71 169.24L104.61 171.14L102.71 173.04L100.81 171.14Z" fill="#9E480E"/><path d="M107.60 171.67L109.50 173.57L107.60 175.47L105.70 173.57Z" fill="#9E480E"/><path d="M112.49 174.11L114.39 176.01L112.49 177.91L110.59 176.01Z" fill="#9E480E"/><path d="M117.37 176.14L119.27 178.04L117.37 179.94L115.47 178.04Z" fill="#9E480E"/><path d="M122.26 178.00L124.16 179.90L122.26 181.80L120.36 179.90Z" fill="#9E480E"/><path d="M127.14 180.03L129.04 181.93L127.14 183.83L125.24 181.93Z" fill="#9E480E"/><path d="M132.03 182.87L133.93 184.77L132.03 186.67L130.13 184.77Z" fill="#9E480E"/><path d="M136.91 185.63L138.81 187.53L136.91 189.43L135.01 187.53Z" fill="#9E480E"/><path d="M141.80 188.31L143.70 190.21L141.80 192.11L139.90 190.21Z" fill="#9E480E"/><path d="M146.69 190.91L148.59 192.81L146.69 194.71L144.79 192.81Z" fill="#9E480E"/><path d="M151.57 193.02L153.47 194.92L151.57 196.82L149.67 194.92Z" fill="#9E480E"/><path d="M156.46 195.13L158.36 197.03L156.46 198.93L154.56 197.03Z" fill="#9E480E"/><path d="M161.34 198.13L163.24 200.03L161.34 201.93L159.44 200.03Z" fill="#9E480E"/><path d="M166.23 200.16L168.13 202.06L166.23 203.96L164.33 202.06Z" fill="#9E480E"/><path d="M171.11 201.87L173.01 203.77L171.11 205.67L169.21 203.77Z" fill="#9E480E"/><path d="M176.00 203.57L177.90 205.47L176.00 207.37L174.10 205.47Z" fill="#9E480E"/><path d="M180.89 204.79L182.79 206.69L180.89 208.59L178.99 206.69Z" fill="#9E480E"/><path d="M185.77 207.06L187.67 208.96L185.77 210.86L183.87 208.96Z" fill="#9E480E"/><path d="M190.66 208.36L192.56 210.26L190.66 212.16L188.76 210.26Z" fill="#9E480E"/><path d="M195.54 209.25L197.44 211.15L195.54 213.05L193.64 211.15Z" fill="#9E480E"/><path d="M200.43 210.23L202.33 212.13L200.43 214.03L198.53 212.13Z" fill="#9E480E"/><path d="M205.31 211.12L207.21 213.02L205.31 214.92L203.41 213.02Z" fill="#9E480E"/><path d="M210.20 212.42L212.10 214.32L210.20 216.22L208.30 214.32Z" fill="#9E480E"/><path d="M215.09 212.83L216.99 214.73L215.09 216.63L213.19 214.73Z" fill="#9E480E"/><path d="M219.97 213.31L221.87 215.21L219.97 217.11L218.07 215.21Z" fill="#9E480E"/><path d="M224.86 214.21L226.76 216.11L224.86 218.01L222.96 216.11Z" fill="#9E480E"/></g><rect x="236.20" y="160.50" width="12.20" height="68.80" fill="none" stroke="#e0e0e0" stroke-width="0.7"/><circle cx="240.40" cy="165.40" r="1.44" fill="#ED7D31"/><text x="242.70" y="167.10" font-size="4.6" fill="#5e5e5e">1</text><path d="M240.40 173.61L242.06 176.59L238.74 176.59Z" fill="#A5A5A5"/><text x="242.70" y="176.97" font-size="4.6" fill="#5e5e5e">2</text><path d="M240.40 183.52L242.01 185.13L240.40 186.75L238.78 185.13Z" fill="#FFC000"/><text x="242.70" y="186.83" font-size="4.6" fill="#5e5e5e">3</text><circle cx="240.40" cy="195.00" r="1.44" fill="#5B9BD5"/><text x="242.70" y="196.70" font-size="4.6" fill="#5e5e5e">4</text><rect x="239.08" y="203.55" width="2.63" height="2.63" fill="#70AD47"/><text x="242.70" y="206.57" font-size="4.6" fill="#5e5e5e">5</text><path d="M240.40 213.08L242.06 216.06L238.74 216.06Z" fill="#264478"/><text x="242.70" y="216.43" font-size="4.6" fill="#5e5e5e">6</text><path d="M240.40 222.98L242.01 224.60L240.40 226.22L238.78 224.60Z" fill="#9E480E"/><text x="242.70" y="226.30" font-size="4.6" fill="#5e5e5e">7</text><g stroke="#e6e6e6" stroke-width="0.8"><line x1="57.00" y1="284.50" x2="57.00" y2="382.00"/><line x1="81.50" y1="284.50" x2="81.50" y2="382.00"/><line x1="106.00" y1="284.50" x2="106.00" y2="382.00"/><line x1="130.50" y1="284.50" x2="130.50" y2="382.00"/><line x1="155.00" y1="284.50" x2="155.00" y2="382.00"/><line x1="179.50" y1="284.50" x2="179.50" y2="382.00"/><line x1="204.00" y1="284.50" x2="204.00" y2="382.00"/><line x1="228.50" y1="284.50" x2="228.50" y2="382.00"/><line x1="57.00" y1="382.00" x2="228.50" y2="382.00"/><line x1="57.00" y1="365.75" x2="228.50" y2="365.75"/><line x1="57.00" y1="349.50" x2="228.50" y2="349.50"/><line x1="57.00" y1="333.25" x2="228.50" y2="333.25"/><line x1="57.00" y1="317.00" x2="228.50" y2="317.00"/><line x1="57.00" y1="300.75" x2="228.50" y2="300.75"/><line x1="57.00" y1="284.50" x2="228.50" y2="284.50"/></g><line x1="57.00" y1="382.00" x2="228.50" y2="382.00" stroke="#d0d0d0" stroke-width="0.9"/><line x1="57.00" y1="284.50" x2="57.00" y2="382.00" stroke="#dadada" stroke-width="0.8"/><g font-size="5.2" fill="#555"><text x="52.40" y="384.10" text-anchor="end">0</text><text x="52.40" y="367.85" text-anchor="end">2</text><text x="52.40" y="351.60" text-anchor="end">4</text><text x="52.40" y="335.35" text-anchor="end">6</text><text x="52.40" y="319.10" text-anchor="end">8</text><text x="52.40" y="302.85" text-anchor="end">10</text><text x="52.40" y="286.60" text-anchor="end">12</text><text x="57.00" y="390.95" text-anchor="middle">0</text><text x="81.50" y="390.95" text-anchor="middle">10</text><text x="106.00" y="390.95" text-anchor="middle">20</text><text x="130.50" y="390.95" text-anchor="middle">30</text><text x="155.00" y="390.95" text-anchor="middle">40</text><text x="179.50" y="390.95" text-anchor="middle">50</text><text x="204.00" y="390.95" text-anchor="middle">60</text><text x="228.50" y="390.95" text-anchor="middle">70</text></g><g><circle cx="59.45" cy="292.47" r="1.70" fill="#ED7D31"/><circle cx="64.35" cy="292.49" r="1.70" fill="#ED7D31"/><circle cx="69.25" cy="292.52" r="1.70" fill="#ED7D31"/><circle cx="74.15" cy="292.56" r="1.70" fill="#ED7D31"/><circle cx="79.05" cy="292.60" r="1.70" fill="#ED7D31"/><circle cx="83.95" cy="292.65" r="1.70" fill="#ED7D31"/><circle cx="88.85" cy="292.70" r="1.70" fill="#ED7D31"/><circle cx="93.75" cy="292.77" r="1.70" fill="#ED7D31"/><circle cx="98.65" cy="292.86" r="1.70" fill="#ED7D31"/><circle cx="103.55" cy="292.97" r="1.70" fill="#ED7D31"/><circle cx="108.45" cy="293.12" r="1.70" fill="#ED7D31"/><circle cx="113.35" cy="293.38" r="1.70" fill="#ED7D31"/><circle cx="118.25" cy="293.76" r="1.70" fill="#ED7D31"/><circle cx="123.15" cy="294.25" r="1.70" fill="#ED7D31"/><circle cx="128.05" cy="295.06" r="1.70" fill="#ED7D31"/><circle cx="132.95" cy="296.20" r="1.70" fill="#ED7D31"/><circle cx="137.85" cy="297.66" r="1.70" fill="#ED7D31"/><circle cx="142.75" cy="299.21" r="1.70" fill="#ED7D31"/><circle cx="147.65" cy="300.59" r="1.70" fill="#ED7D31"/><circle cx="152.55" cy="302.62" r="1.70" fill="#ED7D31"/><circle cx="157.45" cy="304.57" r="1.70" fill="#ED7D31"/><circle cx="162.35" cy="306.52" r="1.70" fill="#ED7D31"/><circle cx="167.25" cy="308.42" r="1.70" fill="#ED7D31"/><circle cx="172.15" cy="310.50" r="1.70" fill="#ED7D31"/><circle cx="177.05" cy="313.22" r="1.70" fill="#ED7D31"/><circle cx="181.95" cy="316.19" r="1.70" fill="#ED7D31"/><circle cx="186.85" cy="319.09" r="1.70" fill="#ED7D31"/><circle cx="191.75" cy="321.88" r="1.70" fill="#ED7D31"/><circle cx="196.65" cy="324.31" r="1.70" fill="#ED7D31"/><path d="M59.45 295.14L61.40 298.65L57.50 298.65Z" fill="#A5A5A5"/><path d="M64.35 295.14L66.30 298.65L62.40 298.65Z" fill="#A5A5A5"/><path d="M69.25 295.14L71.20 298.65L67.30 298.65Z" fill="#A5A5A5"/><path d="M74.15 295.14L76.10 298.65L72.20 298.65Z" fill="#A5A5A5"/><path d="M79.05 295.14L81.00 298.65L77.10 298.65Z" fill="#A5A5A5"/><path d="M83.95 295.14L85.90 298.65L82.00 298.65Z" fill="#A5A5A5"/><path d="M88.85 295.14L90.80 298.65L86.90 298.65Z" fill="#A5A5A5"/><path d="M93.75 295.14L95.70 298.65L91.80 298.65Z" fill="#A5A5A5"/><path d="M98.65 295.14L100.60 298.65L96.70 298.65Z" fill="#A5A5A5"/><path d="M103.55 295.14L105.50 298.65L101.60 298.65Z" fill="#A5A5A5"/><path d="M108.45 295.15L110.40 298.66L106.50 298.66Z" fill="#A5A5A5"/><path d="M113.35 295.22L115.30 298.73L111.40 298.73Z" fill="#A5A5A5"/><path d="M118.25 295.36L120.20 298.87L116.30 298.87Z" fill="#A5A5A5"/><path d="M123.15 295.55L125.10 299.06L121.20 299.06Z" fill="#A5A5A5"/><path d="M128.05 296.17L130.00 299.68L126.10 299.68Z" fill="#A5A5A5"/><path d="M132.95 297.18L134.90 300.69L131.00 300.69Z" fill="#A5A5A5"/><path d="M137.85 298.29L139.80 301.80L135.90 301.80Z" fill="#A5A5A5"/><path d="M142.75 299.61L144.70 303.12L140.80 303.12Z" fill="#A5A5A5"/><path d="M147.65 301.18L149.60 304.69L145.70 304.69Z" fill="#A5A5A5"/><path d="M152.55 302.86L154.50 306.37L150.60 306.37Z" fill="#A5A5A5"/><path d="M157.45 304.55L159.40 308.06L155.50 308.06Z" fill="#A5A5A5"/><path d="M162.35 306.11L164.30 309.62L160.40 309.62Z" fill="#A5A5A5"/><path d="M167.25 307.39L169.20 310.90L165.30 310.90Z" fill="#A5A5A5"/><path d="M172.15 308.55L174.10 312.06L170.20 312.06Z" fill="#A5A5A5"/><path d="M177.05 309.68L179.00 313.19L175.10 313.19Z" fill="#A5A5A5"/><path d="M181.95 310.74L183.90 314.25L180.00 314.25Z" fill="#A5A5A5"/><path d="M186.85 311.72L188.80 315.23L184.90 315.23Z" fill="#A5A5A5"/><path d="M191.75 312.78L193.70 316.29L189.80 316.29Z" fill="#A5A5A5"/><path d="M196.65 313.26L198.60 316.77L194.70 316.77Z" fill="#A5A5A5"/><path d="M201.55 313.67L203.50 317.18L199.60 317.18Z" fill="#A5A5A5"/><path d="M206.45 314.64L208.40 318.15L204.50 318.15Z" fill="#A5A5A5"/><path d="M211.35 315.13L213.30 318.64L209.40 318.64Z" fill="#A5A5A5"/><path d="M216.25 315.62L218.20 319.13L214.30 319.13Z" fill="#A5A5A5"/><path d="M221.15 316.19L223.10 319.70L219.20 319.70Z" fill="#A5A5A5"/><path d="M226.05 316.19L228.00 319.70L224.10 319.70Z" fill="#A5A5A5"/><path d="M57.00 294.87L58.90 296.77L57.00 298.67L55.10 296.77Z" fill="#FFC000"/><path d="M61.90 294.88L63.80 296.78L61.90 298.68L60.00 296.78Z" fill="#FFC000"/><path d="M66.80 294.90L68.70 296.80L66.80 298.70L64.90 296.80Z" fill="#FFC000"/><path d="M71.70 294.93L73.60 296.83L71.70 298.73L69.80 296.83Z" fill="#FFC000"/><path d="M76.60 294.97L78.50 296.87L76.60 298.77L74.70 296.87Z" fill="#FFC000"/><path d="M81.50 295.03L83.40 296.93L81.50 298.83L79.60 296.93Z" fill="#FFC000"/><path d="M86.40 295.21L88.30 297.11L86.40 299.01L84.50 297.11Z" fill="#FFC000"/><path d="M91.30 295.56L93.20 297.46L91.30 299.36L89.40 297.46Z" fill="#FFC000"/><path d="M96.20 296.01L98.10 297.91L96.20 299.81L94.30 297.91Z" fill="#FFC000"/><path d="M101.10 296.66L103.00 298.56L101.10 300.46L99.20 298.56Z" fill="#FFC000"/><path d="M106.00 297.55L107.90 299.45L106.00 301.35L104.10 299.45Z" fill="#FFC000"/><path d="M110.90 298.80L112.80 300.70L110.90 302.60L109.00 300.70Z" fill="#FFC000"/><path d="M115.80 300.07L117.70 301.97L115.80 303.87L113.90 301.97Z" fill="#FFC000"/><path d="M120.70 300.93L122.60 302.83L120.70 304.73L118.80 302.83Z" fill="#FFC000"/><path d="M125.60 301.69L127.50 303.59L125.60 305.49L123.70 303.59Z" fill="#FFC000"/><path d="M130.50 302.51L132.40 304.41L130.50 306.31L128.60 304.41Z" fill="#FFC000"/><path d="M135.40 303.47L137.30 305.37L135.40 307.27L133.50 305.37Z" fill="#FFC000"/><path d="M140.30 304.54L142.20 306.44L140.30 308.34L138.40 306.44Z" fill="#FFC000"/><path d="M145.20 305.68L147.10 307.58L145.20 309.48L143.30 307.58Z" fill="#FFC000"/><path d="M150.10 306.89L152.00 308.79L150.10 310.69L148.20 308.79Z" fill="#FFC000"/><path d="M155.00 308.19L156.90 310.09L155.00 311.99L153.10 310.09Z" fill="#FFC000"/><path d="M159.90 309.63L161.80 311.53L159.90 313.43L158.00 311.53Z" fill="#FFC000"/><path d="M164.80 311.16L166.70 313.06L164.80 314.96L162.90 313.06Z" fill="#FFC000"/><path d="M169.70 312.66L171.60 314.56L169.70 316.46L167.80 314.56Z" fill="#FFC000"/><path d="M174.60 314.15L176.50 316.05L174.60 317.95L172.70 316.05Z" fill="#FFC000"/><path d="M179.50 315.51L181.40 317.41L179.50 319.31L177.60 317.41Z" fill="#FFC000"/><path d="M184.40 316.60L186.30 318.50L184.40 320.40L182.50 318.50Z" fill="#FFC000"/><path d="M189.30 317.54L191.20 319.44L189.30 321.34L187.40 319.44Z" fill="#FFC000"/><path d="M194.20 318.38L196.10 320.28L194.20 322.18L192.30 320.28Z" fill="#FFC000"/><path d="M199.10 319.08L201.00 320.98L199.10 322.88L197.20 320.98Z" fill="#FFC000"/><path d="M204.00 319.57L205.90 321.47L204.00 323.37L202.10 321.47Z" fill="#FFC000"/><path d="M208.90 320.54L210.80 322.44L208.90 324.34L207.00 322.44Z" fill="#FFC000"/><path d="M213.80 320.79L215.70 322.69L213.80 324.59L211.90 322.69Z" fill="#FFC000"/><path d="M218.70 321.11L220.60 323.01L218.70 324.91L216.80 323.01Z" fill="#FFC000"/><path d="M223.60 321.60L225.50 323.50L223.60 325.40L221.70 323.50Z" fill="#FFC000"/><path d="M228.50 321.60L230.40 323.50L228.50 325.40L226.60 323.50Z" fill="#FFC000"/><circle cx="57.00" cy="305.46" r="1.70" fill="#5B9BD5"/><circle cx="61.90" cy="305.46" r="1.70" fill="#5B9BD5"/><circle cx="66.80" cy="305.46" r="1.70" fill="#5B9BD5"/><circle cx="71.70" cy="305.46" r="1.70" fill="#5B9BD5"/><circle cx="76.60" cy="305.46" r="1.70" fill="#5B9BD5"/><circle cx="81.50" cy="305.46" r="1.70" fill="#5B9BD5"/><circle cx="86.40" cy="305.47" r="1.70" fill="#5B9BD5"/><circle cx="91.30" cy="305.49" r="1.70" fill="#5B9BD5"/><circle cx="96.20" cy="305.53" r="1.70" fill="#5B9BD5"/><circle cx="101.10" cy="305.57" r="1.70" fill="#5B9BD5"/><circle cx="106.00" cy="305.62" r="1.70" fill="#5B9BD5"/><circle cx="110.90" cy="305.71" r="1.70" fill="#5B9BD5"/><circle cx="115.80" cy="305.84" r="1.70" fill="#5B9BD5"/><circle cx="120.70" cy="306.03" r="1.70" fill="#5B9BD5"/><circle cx="125.60" cy="306.41" r="1.70" fill="#5B9BD5"/><circle cx="130.50" cy="307.01" r="1.70" fill="#5B9BD5"/><circle cx="135.40" cy="307.98" r="1.70" fill="#5B9BD5"/><circle cx="140.30" cy="308.47" r="1.70" fill="#5B9BD5"/><circle cx="145.20" cy="309.44" r="1.70" fill="#5B9BD5"/><circle cx="150.10" cy="310.91" r="1.70" fill="#5B9BD5"/><circle cx="155.00" cy="311.88" r="1.70" fill="#5B9BD5"/><circle cx="159.90" cy="313.34" r="1.70" fill="#5B9BD5"/><circle cx="164.80" cy="314.81" r="1.70" fill="#5B9BD5"/><circle cx="169.70" cy="315.78" r="1.70" fill="#5B9BD5"/><circle cx="174.60" cy="317.73" r="1.70" fill="#5B9BD5"/><circle cx="179.50" cy="318.22" r="1.70" fill="#5B9BD5"/><circle cx="184.40" cy="320.01" r="1.70" fill="#5B9BD5"/><circle cx="189.30" cy="320.98" r="1.70" fill="#5B9BD5"/><circle cx="194.20" cy="322.44" r="1.70" fill="#5B9BD5"/><circle cx="199.10" cy="323.50" r="1.70" fill="#5B9BD5"/><circle cx="204.00" cy="323.99" r="1.70" fill="#5B9BD5"/><circle cx="208.90" cy="324.88" r="1.70" fill="#5B9BD5"/><circle cx="213.80" cy="325.94" r="1.70" fill="#5B9BD5"/><circle cx="218.70" cy="326.43" r="1.70" fill="#5B9BD5"/><circle cx="223.60" cy="327.40" r="1.70" fill="#5B9BD5"/><circle cx="228.50" cy="327.89" r="1.70" fill="#5B9BD5"/><rect x="57.90" y="299.94" width="3.10" height="3.10" fill="#70AD47"/><rect x="62.80" y="299.97" width="3.10" height="3.10" fill="#70AD47"/><rect x="67.70" y="299.99" width="3.10" height="3.10" fill="#70AD47"/><rect x="72.60" y="300.00" width="3.10" height="3.10" fill="#70AD47"/><rect x="77.50" y="300.01" width="3.10" height="3.10" fill="#70AD47"/><rect x="82.40" y="300.01" width="3.10" height="3.10" fill="#70AD47"/><rect x="87.30" y="300.01" width="3.10" height="3.10" fill="#70AD47"/><rect x="92.20" y="300.01" width="3.10" height="3.10" fill="#70AD47"/><rect x="97.10" y="300.01" width="3.10" height="3.10" fill="#70AD47"/><rect x="102.00" y="300.01" width="3.10" height="3.10" fill="#70AD47"/><rect x="106.90" y="300.06" width="3.10" height="3.10" fill="#70AD47"/><rect x="111.80" y="300.42" width="3.10" height="3.10" fill="#70AD47"/><rect x="116.70" y="300.99" width="3.10" height="3.10" fill="#70AD47"/><rect x="121.60" y="301.64" width="3.10" height="3.10" fill="#70AD47"/><rect x="126.50" y="302.44" width="3.10" height="3.10" fill="#70AD47"/><rect x="131.40" y="303.43" width="3.10" height="3.10" fill="#70AD47"/><rect x="136.30" y="304.48" width="3.10" height="3.10" fill="#70AD47"/><rect x="141.20" y="305.46" width="3.10" height="3.10" fill="#70AD47"/><rect x="146.10" y="306.92" width="3.10" height="3.10" fill="#70AD47"/><rect x="151.00" y="308.38" width="3.10" height="3.10" fill="#70AD47"/><rect x="155.90" y="309.36" width="3.10" height="3.10" fill="#70AD47"/><rect x="160.80" y="311.39" width="3.10" height="3.10" fill="#70AD47"/><rect x="165.70" y="312.77" width="3.10" height="3.10" fill="#70AD47"/><rect x="170.60" y="314.23" width="3.10" height="3.10" fill="#70AD47"/><rect x="175.50" y="315.77" width="3.10" height="3.10" fill="#70AD47"/><rect x="180.40" y="316.02" width="3.10" height="3.10" fill="#70AD47"/><rect x="185.30" y="316.26" width="3.10" height="3.10" fill="#70AD47"/><rect x="190.20" y="317.56" width="3.10" height="3.10" fill="#70AD47"/><rect x="195.10" y="318.70" width="3.10" height="3.10" fill="#70AD47"/><rect x="200.00" y="319.92" width="3.10" height="3.10" fill="#70AD47"/><rect x="204.90" y="320.89" width="3.10" height="3.10" fill="#70AD47"/><rect x="209.80" y="321.30" width="3.10" height="3.10" fill="#70AD47"/><rect x="214.70" y="321.95" width="3.10" height="3.10" fill="#70AD47"/><rect x="219.60" y="322.36" width="3.10" height="3.10" fill="#70AD47"/><rect x="224.50" y="322.84" width="3.10" height="3.10" fill="#70AD47"/><path d="M59.45 294.82L61.40 298.33L57.50 298.33Z" fill="#264478"/><path d="M64.35 294.82L66.30 298.33L62.40 298.33Z" fill="#264478"/><path d="M69.25 294.82L71.20 298.33L67.30 298.33Z" fill="#264478"/><path d="M74.15 294.82L76.10 298.33L72.20 298.33Z" fill="#264478"/><path d="M79.05 294.82L81.00 298.33L77.10 298.33Z" fill="#264478"/><path d="M83.95 294.82L85.90 298.33L82.00 298.33Z" fill="#264478"/><path d="M88.85 294.80L90.80 298.31L86.90 298.31Z" fill="#264478"/><path d="M93.75 294.78L95.70 298.29L91.80 298.29Z" fill="#264478"/><path d="M98.65 294.76L100.60 298.27L96.70 298.27Z" fill="#264478"/><path d="M103.55 294.74L105.50 298.25L101.60 298.25Z" fill="#264478"/><path d="M108.45 294.76L110.40 298.27L106.50 298.27Z" fill="#264478"/><path d="M113.35 294.92L115.30 298.43L111.40 298.43Z" fill="#264478"/><path d="M118.25 295.19L120.20 298.70L116.30 298.70Z" fill="#264478"/><path d="M123.15 295.55L125.10 299.06L121.20 299.06Z" fill="#264478"/><path d="M128.05 296.23L130.00 299.74L126.10 299.74Z" fill="#264478"/><path d="M132.95 297.18L134.90 300.69L131.00 300.69Z" fill="#264478"/><path d="M137.85 298.12L139.80 301.63L135.90 301.63Z" fill="#264478"/><path d="M142.75 299.21L144.70 302.72L140.80 302.72Z" fill="#264478"/><path d="M147.65 300.51L149.60 304.02L145.70 304.02Z" fill="#264478"/><path d="M152.55 302.05L154.50 305.56L150.60 305.56Z" fill="#264478"/><path d="M157.45 304.08L159.40 307.59L155.50 307.59Z" fill="#264478"/><path d="M162.35 306.11L164.30 309.62L160.40 309.62Z" fill="#264478"/><path d="M167.25 307.67L169.20 311.18L165.30 311.18Z" fill="#264478"/><path d="M172.15 308.96L174.10 312.47L170.20 312.47Z" fill="#264478"/><path d="M177.05 309.93L179.00 313.44L175.10 313.44Z" fill="#264478"/><path d="M181.95 312.78L183.90 316.29L180.00 316.29Z" fill="#264478"/><path d="M186.85 313.67L188.80 317.18L184.90 317.18Z" fill="#264478"/><path d="M191.75 315.13L193.70 318.64L189.80 318.64Z" fill="#264478"/><path d="M196.65 316.19L198.60 319.70L194.70 319.70Z" fill="#264478"/><path d="M201.55 317.16L203.50 320.67L199.60 320.67Z" fill="#264478"/><path d="M206.45 318.06L208.40 321.57L204.50 321.57Z" fill="#264478"/><path d="M211.35 318.54L213.30 322.05L209.40 322.05Z" fill="#264478"/><path d="M216.25 319.03L218.20 322.54L214.30 322.54Z" fill="#264478"/><path d="M221.15 319.52L223.10 323.03L219.20 323.03Z" fill="#264478"/><path d="M226.05 320.09L228.00 323.60L224.10 323.60Z" fill="#264478"/><path d="M59.45 294.87L61.35 296.77L59.45 298.67L57.55 296.77Z" fill="#9E480E"/><path d="M64.35 294.87L66.25 296.77L64.35 298.67L62.45 296.77Z" fill="#9E480E"/><path d="M69.25 294.87L71.15 296.77L69.25 298.67L67.35 296.77Z" fill="#9E480E"/><path d="M74.15 294.87L76.05 296.77L74.15 298.67L72.25 296.77Z" fill="#9E480E"/><path d="M79.05 294.87L80.95 296.77L79.05 298.67L77.15 296.77Z" fill="#9E480E"/><path d="M83.95 294.87L85.85 296.77L83.95 298.67L82.05 296.77Z" fill="#9E480E"/><path d="M88.85 294.85L90.75 296.75L88.85 298.65L86.95 296.75Z" fill="#9E480E"/><path d="M93.75 294.83L95.65 296.73L93.75 298.63L91.85 296.73Z" fill="#9E480E"/><path d="M98.65 294.81L100.55 296.71L98.65 298.61L96.75 296.71Z" fill="#9E480E"/><path d="M103.55 294.79L105.45 296.69L103.55 298.59L101.65 296.69Z" fill="#9E480E"/><path d="M108.45 294.82L110.35 296.72L108.45 298.62L106.55 296.72Z" fill="#9E480E"/><path d="M113.35 295.08L115.25 296.98L113.35 298.88L111.45 296.98Z" fill="#9E480E"/><path d="M118.25 295.50L120.15 297.40L118.25 299.30L116.35 297.40Z" fill="#9E480E"/><path d="M123.15 296.01L125.05 297.91L123.15 299.81L121.25 297.91Z" fill="#9E480E"/><path d="M128.05 296.81L129.95 298.71L128.05 300.61L126.15 298.71Z" fill="#9E480E"/><path d="M132.95 297.79L134.85 299.69L132.95 301.59L131.05 299.69Z" fill="#9E480E"/><path d="M137.85 298.69L139.75 300.59L137.85 302.49L135.95 300.59Z" fill="#9E480E"/><path d="M142.75 300.23L144.65 302.13L142.75 304.03L140.85 302.13Z" fill="#9E480E"/><path d="M147.65 301.69L149.55 303.59L147.65 305.49L145.75 303.59Z" fill="#9E480E"/><path d="M152.55 303.08L154.45 304.98L152.55 306.88L150.65 304.98Z" fill="#9E480E"/><path d="M157.45 305.11L159.35 307.01L157.45 308.91L155.55 307.01Z" fill="#9E480E"/><path d="M162.35 308.03L164.25 309.93L162.35 311.83L160.45 309.93Z" fill="#9E480E"/><path d="M167.25 309.01L169.15 310.91L167.25 312.81L165.35 310.91Z" fill="#9E480E"/><path d="M172.15 311.93L174.05 313.83L172.15 315.73L170.25 313.83Z" fill="#9E480E"/><path d="M177.05 313.39L178.95 315.29L177.05 317.19L175.15 315.29Z" fill="#9E480E"/><path d="M181.95 316.24L183.85 318.14L181.95 320.04L180.05 318.14Z" fill="#9E480E"/><path d="M186.85 318.11L188.75 320.01L186.85 321.91L184.95 320.01Z" fill="#9E480E"/><path d="M191.75 320.14L193.65 322.04L191.75 323.94L189.85 322.04Z" fill="#9E480E"/><path d="M196.65 321.11L198.55 323.01L196.65 324.91L194.75 323.01Z" fill="#9E480E"/><path d="M201.55 322.98L203.45 324.88L201.55 326.78L199.65 324.88Z" fill="#9E480E"/><path d="M206.45 324.04L208.35 325.94L206.45 327.84L204.55 325.94Z" fill="#9E480E"/><path d="M211.35 325.01L213.25 326.91L211.35 328.81L209.45 326.91Z" fill="#9E480E"/><path d="M216.25 326.48L218.15 328.38L216.25 330.27L214.35 328.38Z" fill="#9E480E"/><path d="M221.15 326.96L223.05 328.86L221.15 330.76L219.25 328.86Z" fill="#9E480E"/><path d="M226.05 327.37L227.95 329.27L226.05 331.17L224.15 329.27Z" fill="#9E480E"/><circle cx="202.04" cy="331.30" r="1.70" fill="#ED7D31"/></g><rect x="237.50" y="302.50" width="12.70" height="68.00" fill="none" stroke="#e0e0e0" stroke-width="0.7"/><circle cx="241.70" cy="307.80" r="1.44" fill="#ED7D31"/><text x="244.00" y="309.50" font-size="4.6" fill="#5e5e5e">1</text><path d="M241.70 315.94L243.36 318.93L240.04 318.93Z" fill="#A5A5A5"/><text x="244.00" y="319.30" font-size="4.6" fill="#5e5e5e">2</text><path d="M241.70 325.78L243.31 327.40L241.70 329.01L240.08 327.40Z" fill="#FFC000"/><text x="244.00" y="329.10" font-size="4.6" fill="#5e5e5e">3</text><circle cx="241.70" cy="337.20" r="1.44" fill="#5B9BD5"/><text x="244.00" y="338.90" font-size="4.6" fill="#5e5e5e">4</text><rect x="240.38" y="345.68" width="2.63" height="2.63" fill="#70AD47"/><text x="244.00" y="348.70" font-size="4.6" fill="#5e5e5e">5</text><path d="M241.70 355.14L243.36 358.13L240.04 358.13Z" fill="#264478"/><text x="244.00" y="358.50" font-size="4.6" fill="#5e5e5e">6</text><path d="M241.70 364.98L243.31 366.60L241.70 368.21L240.08 366.60Z" fill="#9E480E"/><text x="244.00" y="368.30" font-size="4.6" fill="#5e5e5e">7</text><g stroke="#e6e6e6" stroke-width="0.8"><line x1="58.00" y1="423.00" x2="58.00" y2="520.00"/><line x1="82.47" y1="423.00" x2="82.47" y2="520.00"/><line x1="106.94" y1="423.00" x2="106.94" y2="520.00"/><line x1="131.41" y1="423.00" x2="131.41" y2="520.00"/><line x1="155.89" y1="423.00" x2="155.89" y2="520.00"/><line x1="180.36" y1="423.00" x2="180.36" y2="520.00"/><line x1="204.83" y1="423.00" x2="204.83" y2="520.00"/><line x1="229.30" y1="423.00" x2="229.30" y2="520.00"/><line x1="58.00" y1="520.00" x2="229.30" y2="520.00"/><line x1="58.00" y1="503.83" x2="229.30" y2="503.83"/><line x1="58.00" y1="487.67" x2="229.30" y2="487.67"/><line x1="58.00" y1="471.50" x2="229.30" y2="471.50"/><line x1="58.00" y1="455.33" x2="229.30" y2="455.33"/><line x1="58.00" y1="439.17" x2="229.30" y2="439.17"/><line x1="58.00" y1="423.00" x2="229.30" y2="423.00"/></g><line x1="58.00" y1="520.00" x2="229.30" y2="520.00" stroke="#d0d0d0" stroke-width="0.9"/><line x1="58.00" y1="423.00" x2="58.00" y2="520.00" stroke="#dadada" stroke-width="0.8"/><g font-size="5.2" fill="#555"><text x="53.40" y="522.10" text-anchor="end">0</text><text x="53.40" y="505.93" text-anchor="end">2</text><text x="53.40" y="489.77" text-anchor="end">4</text><text x="53.40" y="473.60" text-anchor="end">6</text><text x="53.40" y="457.43" text-anchor="end">8</text><text x="53.40" y="441.27" text-anchor="end">10</text><text x="53.40" y="425.10" text-anchor="end">12</text><text x="58.00" y="528.70" text-anchor="middle">0</text><text x="82.47" y="528.70" text-anchor="middle">10</text><text x="106.94" y="528.70" text-anchor="middle">20</text><text x="131.41" y="528.70" text-anchor="middle">30</text><text x="155.89" y="528.70" text-anchor="middle">40</text><text x="180.36" y="528.70" text-anchor="middle">50</text><text x="204.83" y="528.70" text-anchor="middle">60</text><text x="229.30" y="528.70" text-anchor="middle">70</text></g><g><circle cx="60.45" cy="441.87" r="1.70" fill="#ED7D31"/><circle cx="65.34" cy="441.80" r="1.70" fill="#ED7D31"/><circle cx="70.24" cy="441.73" r="1.70" fill="#ED7D31"/><circle cx="75.13" cy="441.69" r="1.70" fill="#ED7D31"/><circle cx="80.02" cy="441.65" r="1.70" fill="#ED7D31"/><circle cx="84.92" cy="441.63" r="1.70" fill="#ED7D31"/><circle cx="89.81" cy="441.61" r="1.70" fill="#ED7D31"/><circle cx="94.71" cy="441.60" r="1.70" fill="#ED7D31"/><circle cx="99.60" cy="441.59" r="1.70" fill="#ED7D31"/><circle cx="104.50" cy="441.59" r="1.70" fill="#ED7D31"/><circle cx="109.39" cy="441.59" r="1.70" fill="#ED7D31"/><circle cx="114.28" cy="442.08" r="1.70" fill="#ED7D31"/><circle cx="119.18" cy="442.60" r="1.70" fill="#ED7D31"/><circle cx="124.07" cy="443.13" r="1.70" fill="#ED7D31"/><circle cx="128.97" cy="443.61" r="1.70" fill="#ED7D31"/><circle cx="133.86" cy="444.84" r="1.70" fill="#ED7D31"/><circle cx="138.76" cy="446.44" r="1.70" fill="#ED7D31"/><circle cx="143.65" cy="447.81" r="1.70" fill="#ED7D31"/><circle cx="148.54" cy="449.27" r="1.70" fill="#ED7D31"/><circle cx="153.44" cy="451.01" r="1.70" fill="#ED7D31"/><circle cx="158.33" cy="452.91" r="1.70" fill="#ED7D31"/><circle cx="163.23" cy="454.95" r="1.70" fill="#ED7D31"/><circle cx="168.12" cy="456.87" r="1.70" fill="#ED7D31"/><circle cx="173.02" cy="458.32" r="1.70" fill="#ED7D31"/><circle cx="177.91" cy="460.26" r="1.70" fill="#ED7D31"/><circle cx="182.80" cy="461.56" r="1.70" fill="#ED7D31"/><circle cx="187.70" cy="462.61" r="1.70" fill="#ED7D31"/><circle cx="192.59" cy="464.06" r="1.70" fill="#ED7D31"/><circle cx="197.49" cy="465.03" r="1.70" fill="#ED7D31"/><circle cx="202.38" cy="466.49" r="1.70" fill="#ED7D31"/><circle cx="207.28" cy="467.46" r="1.70" fill="#ED7D31"/><circle cx="212.17" cy="469.40" r="1.70" fill="#ED7D31"/><circle cx="217.06" cy="468.91" r="1.70" fill="#ED7D31"/><circle cx="221.96" cy="470.37" r="1.70" fill="#ED7D31"/><circle cx="226.85" cy="470.85" r="1.70" fill="#ED7D31"/><path d="M60.45 435.14L62.40 438.65L58.50 438.65Z" fill="#A5A5A5"/><path d="M65.34 435.05L67.29 438.56L63.39 438.56Z" fill="#A5A5A5"/><path d="M70.24 434.97L72.19 438.48L68.29 438.48Z" fill="#A5A5A5"/><path d="M75.13 434.91L77.08 438.42L73.18 438.42Z" fill="#A5A5A5"/><path d="M80.02 434.87L81.97 438.38L78.07 438.38Z" fill="#A5A5A5"/><path d="M84.92 434.84L86.87 438.35L82.97 438.35Z" fill="#A5A5A5"/><path d="M89.81 434.81L91.76 438.32L87.86 438.32Z" fill="#A5A5A5"/><path d="M94.71 434.80L96.66 438.31L92.76 438.31Z" fill="#A5A5A5"/><path d="M99.60 434.79L101.55 438.30L97.65 438.30Z" fill="#A5A5A5"/><path d="M104.50 434.79L106.45 438.30L102.55 438.30Z" fill="#A5A5A5"/><path d="M109.39 434.79L111.34 438.30L107.44 438.30Z" fill="#A5A5A5"/><path d="M114.28 434.88L116.23 438.39L112.33 438.39Z" fill="#A5A5A5"/><path d="M119.18 435.11L121.13 438.62L117.23 438.62Z" fill="#A5A5A5"/><path d="M124.07 435.46L126.02 438.97L122.12 438.97Z" fill="#A5A5A5"/><path d="M128.97 435.91L130.92 439.42L127.02 439.42Z" fill="#A5A5A5"/><path d="M133.86 436.41L135.81 439.92L131.91 439.92Z" fill="#A5A5A5"/><path d="M138.76 437.20L140.71 440.71L136.81 440.71Z" fill="#A5A5A5"/><path d="M143.65 438.39L145.60 441.90L141.70 441.90Z" fill="#A5A5A5"/><path d="M148.54 439.81L150.49 443.32L146.59 443.32Z" fill="#A5A5A5"/><path d="M153.44 441.26L155.39 444.77L151.49 444.77Z" fill="#A5A5A5"/><path d="M158.33 442.85L160.28 446.36L156.38 446.36Z" fill="#A5A5A5"/><path d="M163.23 444.49L165.18 448.00L161.28 448.00Z" fill="#A5A5A5"/><path d="M168.12 445.85L170.07 449.36L166.17 449.36Z" fill="#A5A5A5"/><path d="M173.02 447.32L174.97 450.83L171.07 450.83Z" fill="#A5A5A5"/><path d="M177.91 449.51L179.86 453.02L175.96 453.02Z" fill="#A5A5A5"/><path d="M182.80 451.77L184.75 455.28L180.85 455.28Z" fill="#A5A5A5"/><path d="M187.70 453.54L189.65 457.05L185.75 457.05Z" fill="#A5A5A5"/><path d="M192.59 455.00L194.54 458.51L190.64 458.51Z" fill="#A5A5A5"/><path d="M197.49 456.07L199.44 459.58L195.54 459.58Z" fill="#A5A5A5"/><path d="M202.38 457.02L204.33 460.53L200.43 460.53Z" fill="#A5A5A5"/><path d="M207.28 458.09L209.23 461.60L205.33 461.60Z" fill="#A5A5A5"/><path d="M212.17 459.04L214.12 462.55L210.22 462.55Z" fill="#A5A5A5"/><path d="M217.06 459.75L219.01 463.26L215.11 463.26Z" fill="#A5A5A5"/><path d="M221.96 460.25L223.91 463.76L220.01 463.76Z" fill="#A5A5A5"/><path d="M226.85 460.57L228.80 464.08L224.90 464.08Z" fill="#A5A5A5"/><path d="M58.00 436.22L59.90 438.12L58.00 440.02L56.10 438.12Z" fill="#FFC000"/><path d="M62.89 436.22L64.79 438.12L62.89 440.02L60.99 438.12Z" fill="#FFC000"/><path d="M67.79 436.23L69.69 438.13L67.79 440.03L65.89 438.13Z" fill="#FFC000"/><path d="M72.68 436.24L74.58 438.14L72.68 440.04L70.78 438.14Z" fill="#FFC000"/><path d="M77.58 436.26L79.48 438.16L77.58 440.06L75.68 438.16Z" fill="#FFC000"/><path d="M82.47 436.30L84.37 438.20L82.47 440.10L80.57 438.20Z" fill="#FFC000"/><path d="M87.37 436.78L89.27 438.68L87.37 440.58L85.47 438.68Z" fill="#FFC000"/><path d="M92.26 437.00L94.16 438.90L92.26 440.80L90.36 438.90Z" fill="#FFC000"/><path d="M97.15 437.27L99.05 439.17L97.15 441.07L95.25 439.17Z" fill="#FFC000"/><path d="M102.05 438.32L103.95 440.22L102.05 442.12L100.15 440.22Z" fill="#FFC000"/><path d="M106.94 438.72L108.84 440.62L106.94 442.52L105.04 440.62Z" fill="#FFC000"/><path d="M111.84 439.69L113.74 441.59L111.84 443.49L109.94 441.59Z" fill="#FFC000"/><path d="M116.73 440.66L118.63 442.56L116.73 444.46L114.83 442.56Z" fill="#FFC000"/><path d="M121.63 441.23L123.53 443.13L121.63 445.03L119.73 443.13Z" fill="#FFC000"/><path d="M126.52 442.20L128.42 444.10L126.52 446.00L124.62 444.10Z" fill="#FFC000"/><path d="M131.41 443.09L133.31 444.99L131.41 446.89L129.51 444.99Z" fill="#FFC000"/><path d="M136.31 443.83L138.21 445.73L136.31 447.63L134.41 445.73Z" fill="#FFC000"/><path d="M141.20 444.54L143.10 446.44L141.20 448.34L139.30 446.44Z" fill="#FFC000"/><path d="M146.10 445.29L148.00 447.19L146.10 449.09L144.20 447.19Z" fill="#FFC000"/><path d="M150.99 446.08L152.89 447.98L150.99 449.88L149.09 447.98Z" fill="#FFC000"/><path d="M155.89 446.97L157.79 448.87L155.89 450.77L153.99 448.87Z" fill="#FFC000"/><path d="M160.78 447.99L162.68 449.89L160.78 451.79L158.88 449.89Z" fill="#FFC000"/><path d="M165.67 449.18L167.57 451.08L165.67 452.98L163.77 451.08Z" fill="#FFC000"/><path d="M170.57 450.60L172.47 452.50L170.57 454.40L168.67 452.50Z" fill="#FFC000"/><path d="M175.46 452.68L177.36 454.58L175.46 456.48L173.56 454.58Z" fill="#FFC000"/><path d="M180.36 454.81L182.26 456.71L180.36 458.61L178.46 456.71Z" fill="#FFC000"/><path d="M185.25 456.26L187.15 458.16L185.25 460.06L183.35 458.16Z" fill="#FFC000"/><path d="M190.15 457.42L192.05 459.32L190.15 461.22L188.25 459.32Z" fill="#FFC000"/><path d="M195.04 458.28L196.94 460.18L195.04 462.08L193.14 460.18Z" fill="#FFC000"/><path d="M199.93 458.80L201.83 460.70L199.93 462.60L198.03 460.70Z" fill="#FFC000"/><path d="M204.83 459.17L206.73 461.07L204.83 462.97L202.93 461.07Z" fill="#FFC000"/><path d="M209.72 459.40L211.62 461.30L209.72 463.20L207.82 461.30Z" fill="#FFC000"/><path d="M214.62 459.66L216.52 461.56L214.62 463.46L212.72 461.56Z" fill="#FFC000"/><path d="M219.51 460.22L221.41 462.12L219.51 464.02L217.61 462.12Z" fill="#FFC000"/><path d="M224.41 460.22L226.31 462.12L224.41 464.02L222.51 462.12Z" fill="#FFC000"/><path d="M229.30 460.22L231.20 462.12L229.30 464.02L227.40 462.12Z" fill="#FFC000"/><circle cx="58.00" cy="450.73" r="1.70" fill="#5B9BD5"/><circle cx="62.89" cy="450.65" r="1.70" fill="#5B9BD5"/><circle cx="67.79" cy="450.57" r="1.70" fill="#5B9BD5"/><circle cx="72.68" cy="450.47" r="1.70" fill="#5B9BD5"/><circle cx="77.58" cy="450.36" r="1.70" fill="#5B9BD5"/><circle cx="82.47" cy="450.24" r="1.70" fill="#5B9BD5"/><circle cx="87.37" cy="450.08" r="1.70" fill="#5B9BD5"/><circle cx="92.26" cy="449.87" r="1.70" fill="#5B9BD5"/><circle cx="97.15" cy="449.66" r="1.70" fill="#5B9BD5"/><circle cx="102.05" cy="449.50" r="1.70" fill="#5B9BD5"/><circle cx="106.94" cy="449.43" r="1.70" fill="#5B9BD5"/><circle cx="111.84" cy="449.51" r="1.70" fill="#5B9BD5"/><circle cx="116.73" cy="449.69" r="1.70" fill="#5B9BD5"/><circle cx="121.63" cy="449.92" r="1.70" fill="#5B9BD5"/><circle cx="126.52" cy="450.24" r="1.70" fill="#5B9BD5"/><circle cx="131.41" cy="450.40" r="1.70" fill="#5B9BD5"/><circle cx="136.31" cy="450.48" r="1.70" fill="#5B9BD5"/><circle cx="141.20" cy="451.53" r="1.70" fill="#5B9BD5"/><circle cx="146.10" cy="452.02" r="1.70" fill="#5B9BD5"/><circle cx="150.99" cy="452.99" r="1.70" fill="#5B9BD5"/><circle cx="155.89" cy="453.96" r="1.70" fill="#5B9BD5"/><circle cx="160.78" cy="454.93" r="1.70" fill="#5B9BD5"/><circle cx="165.67" cy="456.38" r="1.70" fill="#5B9BD5"/><circle cx="170.57" cy="457.35" r="1.70" fill="#5B9BD5"/><circle cx="175.46" cy="458.32" r="1.70" fill="#5B9BD5"/><circle cx="180.36" cy="459.70" r="1.70" fill="#5B9BD5"/><circle cx="185.25" cy="460.59" r="1.70" fill="#5B9BD5"/><circle cx="190.15" cy="461.56" r="1.70" fill="#5B9BD5"/><circle cx="195.04" cy="463.09" r="1.70" fill="#5B9BD5"/><circle cx="199.93" cy="463.58" r="1.70" fill="#5B9BD5"/><circle cx="204.83" cy="464.63" r="1.70" fill="#5B9BD5"/><circle cx="209.72" cy="465.03" r="1.70" fill="#5B9BD5"/><circle cx="214.62" cy="466.00" r="1.70" fill="#5B9BD5"/><circle cx="219.51" cy="466.49" r="1.70" fill="#5B9BD5"/><circle cx="224.41" cy="466.97" r="1.70" fill="#5B9BD5"/><circle cx="229.30" cy="467.46" r="1.70" fill="#5B9BD5"/><rect x="58.90" y="442.97" width="3.10" height="3.10" fill="#70AD47"/><rect x="63.79" y="442.85" width="3.10" height="3.10" fill="#70AD47"/><rect x="68.69" y="442.76" width="3.10" height="3.10" fill="#70AD47"/><rect x="73.58" y="442.69" width="3.10" height="3.10" fill="#70AD47"/><rect x="78.47" y="442.64" width="3.10" height="3.10" fill="#70AD47"/><rect x="83.37" y="442.60" width="3.10" height="3.10" fill="#70AD47"/><rect x="88.26" y="442.57" width="3.10" height="3.10" fill="#70AD47"/><rect x="93.16" y="442.56" width="3.10" height="3.10" fill="#70AD47"/><rect x="98.05" y="442.55" width="3.10" height="3.10" fill="#70AD47"/><rect x="102.95" y="442.55" width="3.10" height="3.10" fill="#70AD47"/><rect x="107.84" y="442.55" width="3.10" height="3.10" fill="#70AD47"/><rect x="112.73" y="442.88" width="3.10" height="3.10" fill="#70AD47"/><rect x="117.63" y="443.44" width="3.10" height="3.10" fill="#70AD47"/><rect x="122.52" y="443.92" width="3.10" height="3.10" fill="#70AD47"/><rect x="127.42" y="444.41" width="3.10" height="3.10" fill="#70AD47"/><rect x="132.31" y="444.57" width="3.10" height="3.10" fill="#70AD47"/><rect x="137.21" y="445.54" width="3.10" height="3.10" fill="#70AD47"/><rect x="142.10" y="446.51" width="3.10" height="3.10" fill="#70AD47"/><rect x="146.99" y="448.04" width="3.10" height="3.10" fill="#70AD47"/><rect x="151.89" y="448.93" width="3.10" height="3.10" fill="#70AD47"/><rect x="156.78" y="449.98" width="3.10" height="3.10" fill="#70AD47"/><rect x="161.68" y="450.95" width="3.10" height="3.10" fill="#70AD47"/><rect x="166.57" y="452.33" width="3.10" height="3.10" fill="#70AD47"/><rect x="171.47" y="453.38" width="3.10" height="3.10" fill="#70AD47"/><rect x="176.36" y="454.83" width="3.10" height="3.10" fill="#70AD47"/><rect x="181.25" y="455.64" width="3.10" height="3.10" fill="#70AD47"/><rect x="186.15" y="456.67" width="3.10" height="3.10" fill="#70AD47"/><rect x="191.04" y="457.66" width="3.10" height="3.10" fill="#70AD47"/><rect x="195.94" y="458.41" width="3.10" height="3.10" fill="#70AD47"/><rect x="200.83" y="459.04" width="3.10" height="3.10" fill="#70AD47"/><rect x="205.73" y="459.54" width="3.10" height="3.10" fill="#70AD47"/><rect x="210.62" y="460.01" width="3.10" height="3.10" fill="#70AD47"/><rect x="215.51" y="460.53" width="3.10" height="3.10" fill="#70AD47"/><rect x="220.41" y="461.06" width="3.10" height="3.10" fill="#70AD47"/><rect x="225.30" y="461.54" width="3.10" height="3.10" fill="#70AD47"/><path d="M60.45 434.78L62.40 438.29L58.50 438.29Z" fill="#264478"/><path d="M65.34 434.63L67.29 438.14L63.39 438.14Z" fill="#264478"/><path d="M70.24 434.51L72.19 438.02L68.29 438.02Z" fill="#264478"/><path d="M75.13 434.42L77.08 437.93L73.18 437.93Z" fill="#264478"/><path d="M80.02 434.35L81.97 437.86L78.07 437.86Z" fill="#264478"/><path d="M84.92 434.30L86.87 437.81L82.97 437.81Z" fill="#264478"/><path d="M89.81 434.26L91.76 437.77L87.86 437.77Z" fill="#264478"/><path d="M94.71 434.24L96.66 437.75L92.76 437.75Z" fill="#264478"/><path d="M99.60 434.23L101.55 437.74L97.65 437.74Z" fill="#264478"/><path d="M104.50 434.23L106.45 437.74L102.55 437.74Z" fill="#264478"/><path d="M109.39 434.23L111.34 437.74L107.44 437.74Z" fill="#264478"/><path d="M114.28 434.32L116.23 437.83L112.33 437.83Z" fill="#264478"/><path d="M119.18 434.58L121.13 438.09L117.23 438.09Z" fill="#264478"/><path d="M124.07 434.97L126.02 438.48L122.12 438.48Z" fill="#264478"/><path d="M128.97 435.46L130.92 438.97L127.02 438.97Z" fill="#264478"/><path d="M133.86 436.00L135.81 439.51L131.91 439.51Z" fill="#264478"/><path d="M138.76 436.83L140.71 440.34L136.81 440.34Z" fill="#264478"/><path d="M143.65 438.05L145.60 441.56L141.70 441.56Z" fill="#264478"/><path d="M148.54 439.46L150.49 442.97L146.59 442.97Z" fill="#264478"/><path d="M153.44 440.85L155.39 444.36L151.49 444.36Z" fill="#264478"/><path d="M158.33 442.23L160.28 445.74L156.38 445.74Z" fill="#264478"/><path d="M163.23 443.68L165.18 447.19L161.28 447.19Z" fill="#264478"/><path d="M168.12 445.12L170.07 448.63L166.17 448.63Z" fill="#264478"/><path d="M173.02 446.67L174.97 450.18L171.07 450.18Z" fill="#264478"/><path d="M177.91 448.53L179.86 452.04L175.96 452.04Z" fill="#264478"/><path d="M182.80 450.31L184.75 453.82L180.85 453.82Z" fill="#264478"/><path d="M187.70 451.85L189.65 455.36L185.75 455.36Z" fill="#264478"/><path d="M192.59 453.38L194.54 456.89L190.64 456.89Z" fill="#264478"/><path d="M197.49 454.27L199.44 457.78L195.54 457.78Z" fill="#264478"/><path d="M202.38 455.24L204.33 458.75L200.43 458.75Z" fill="#264478"/><path d="M207.28 456.21L209.23 459.72L205.33 459.72Z" fill="#264478"/><path d="M212.17 456.78L214.12 460.29L210.22 460.29Z" fill="#264478"/><path d="M217.06 457.26L219.01 460.77L215.11 460.77Z" fill="#264478"/><path d="M221.96 457.75L223.91 461.26L220.01 461.26Z" fill="#264478"/><path d="M226.85 458.23L228.80 461.74L224.90 461.74Z" fill="#264478"/><path d="M60.45 434.92L62.35 436.82L60.45 438.72L58.55 436.82Z" fill="#9E480E"/><path d="M65.34 434.91L67.24 436.81L65.34 438.71L63.44 436.81Z" fill="#9E480E"/><path d="M70.24 434.89L72.14 436.79L70.24 438.69L68.34 436.79Z" fill="#9E480E"/><path d="M75.13 434.85L77.03 436.75L75.13 438.65L73.23 436.75Z" fill="#9E480E"/><path d="M80.02 434.81L81.92 436.71L80.02 438.61L78.12 436.71Z" fill="#9E480E"/><path d="M84.92 434.76L86.82 436.66L84.92 438.56L83.02 436.66Z" fill="#9E480E"/><path d="M89.81 434.61L91.71 436.51L89.81 438.41L87.91 436.51Z" fill="#9E480E"/><path d="M94.71 434.39L96.61 436.29L94.71 438.19L92.81 436.29Z" fill="#9E480E"/><path d="M99.60 434.28L101.50 436.18L99.60 438.08L97.70 436.18Z" fill="#9E480E"/><path d="M104.50 434.28L106.40 436.18L104.50 438.08L102.60 436.18Z" fill="#9E480E"/><path d="M109.39 434.28L111.29 436.18L109.39 438.08L107.49 436.18Z" fill="#9E480E"/><path d="M114.28 434.43L116.18 436.33L114.28 438.23L112.38 436.33Z" fill="#9E480E"/><path d="M119.18 434.76L121.08 436.66L119.18 438.56L117.28 436.66Z" fill="#9E480E"/><path d="M124.07 435.33L125.97 437.23L124.07 439.13L122.17 437.23Z" fill="#9E480E"/><path d="M128.97 435.81L130.87 437.71L128.97 439.61L127.07 437.71Z" fill="#9E480E"/><path d="M133.86 436.38L135.76 438.28L133.86 440.18L131.96 438.28Z" fill="#9E480E"/><path d="M138.76 437.43L140.66 439.33L138.76 441.23L136.86 439.33Z" fill="#9E480E"/><path d="M143.65 438.88L145.55 440.78L143.65 442.68L141.75 440.78Z" fill="#9E480E"/><path d="M148.54 439.77L150.44 441.67L148.54 443.57L146.64 441.67Z" fill="#9E480E"/><path d="M153.44 441.31L155.34 443.21L153.44 445.11L151.54 443.21Z" fill="#9E480E"/><path d="M158.33 442.76L160.23 444.66L158.33 446.56L156.43 444.66Z" fill="#9E480E"/><path d="M163.23 445.19L165.13 447.09L163.23 448.99L161.33 447.09Z" fill="#9E480E"/><path d="M168.12 446.72L170.02 448.62L168.12 450.52L166.22 448.62Z" fill="#9E480E"/><path d="M173.02 448.10L174.92 450.00L173.02 451.90L171.12 450.00Z" fill="#9E480E"/><path d="M177.91 450.12L179.81 452.02L177.91 453.92L176.01 452.02Z" fill="#9E480E"/><path d="M182.80 452.87L184.70 454.77L182.80 456.67L180.90 454.77Z" fill="#9E480E"/><path d="M187.70 454.81L189.60 456.71L187.70 458.61L185.80 456.71Z" fill="#9E480E"/><path d="M192.59 456.83L194.49 458.73L192.59 460.63L190.69 458.73Z" fill="#9E480E"/><path d="M197.49 457.80L199.39 459.70L197.49 461.60L195.59 459.70Z" fill="#9E480E"/><path d="M202.38 459.17L204.28 461.07L202.38 462.97L200.48 461.07Z" fill="#9E480E"/><path d="M207.28 460.71L209.18 462.61L207.28 464.51L205.38 462.61Z" fill="#9E480E"/><path d="M212.17 461.68L214.07 463.58L212.17 465.48L210.27 463.58Z" fill="#9E480E"/><path d="M217.06 462.73L218.96 464.63L217.06 466.53L215.16 464.63Z" fill="#9E480E"/><path d="M221.96 463.13L223.86 465.03L221.96 466.93L220.06 465.03Z" fill="#9E480E"/><path d="M226.85 464.10L228.75 466.00L226.85 467.90L224.95 466.00Z" fill="#9E480E"/></g><rect x="238.20" y="440.60" width="12.00" height="68.80" fill="none" stroke="#e0e0e0" stroke-width="0.7"/><circle cx="242.40" cy="446.10" r="1.44" fill="#ED7D31"/><text x="244.70" y="447.80" font-size="4.6" fill="#5e5e5e">2</text><path d="M242.40 454.29L244.06 457.28L240.74 457.28Z" fill="#A5A5A5"/><text x="244.70" y="457.65" font-size="4.6" fill="#5e5e5e">3</text><path d="M242.40 464.18L244.01 465.80L242.40 467.41L240.78 465.80Z" fill="#FFC000"/><text x="244.70" y="467.50" font-size="4.6" fill="#5e5e5e">4</text><circle cx="242.40" cy="475.65" r="1.44" fill="#5B9BD5"/><text x="244.70" y="477.35" font-size="4.6" fill="#5e5e5e">5</text><rect x="241.08" y="484.18" width="2.63" height="2.63" fill="#70AD47"/><text x="244.70" y="487.20" font-size="4.6" fill="#5e5e5e">6</text><path d="M242.40 493.69L244.06 496.68L240.74 496.68Z" fill="#264478"/><text x="244.70" y="497.05" font-size="4.6" fill="#5e5e5e">7</text><path d="M242.40 503.58L244.01 505.20L242.40 506.81L240.78 505.20Z" fill="#9E480E"/><text x="244.70" y="506.90" font-size="4.6" fill="#5e5e5e">8</text><g stroke="#e6e6e6" stroke-width="0.8"><line x1="337.00" y1="11.90" x2="337.00" y2="109.10"/><line x1="361.04" y1="11.90" x2="361.04" y2="109.10"/><line x1="385.09" y1="11.90" x2="385.09" y2="109.10"/><line x1="409.13" y1="11.90" x2="409.13" y2="109.10"/><line x1="433.17" y1="11.90" x2="433.17" y2="109.10"/><line x1="457.21" y1="11.90" x2="457.21" y2="109.10"/><line x1="481.26" y1="11.90" x2="481.26" y2="109.10"/><line x1="505.30" y1="11.90" x2="505.30" y2="109.10"/><line x1="337.00" y1="109.10" x2="505.30" y2="109.10"/><line x1="337.00" y1="92.90" x2="505.30" y2="92.90"/><line x1="337.00" y1="76.70" x2="505.30" y2="76.70"/><line x1="337.00" y1="60.50" x2="505.30" y2="60.50"/><line x1="337.00" y1="44.30" x2="505.30" y2="44.30"/><line x1="337.00" y1="28.10" x2="505.30" y2="28.10"/><line x1="337.00" y1="11.90" x2="505.30" y2="11.90"/></g><line x1="337.00" y1="109.10" x2="505.30" y2="109.10" stroke="#d0d0d0" stroke-width="0.9"/><line x1="337.00" y1="11.90" x2="337.00" y2="109.10" stroke="#dadada" stroke-width="0.8"/><g font-size="5.2" fill="#555"><text x="332.40" y="111.20" text-anchor="end">0</text><text x="332.40" y="95.00" text-anchor="end">20</text><text x="332.40" y="78.80" text-anchor="end">40</text><text x="332.40" y="62.60" text-anchor="end">60</text><text x="332.40" y="46.40" text-anchor="end">80</text><text x="332.40" y="30.20" text-anchor="end">100</text><text x="332.40" y="14.00" text-anchor="end">120</text><text x="337.00" y="118.80" text-anchor="middle">0</text><text x="361.04" y="118.80" text-anchor="middle">10</text><text x="385.09" y="118.80" text-anchor="middle">20</text><text x="409.13" y="118.80" text-anchor="middle">30</text><text x="433.17" y="118.80" text-anchor="middle">40</text><text x="457.21" y="118.80" text-anchor="middle">50</text><text x="481.26" y="118.80" text-anchor="middle">60</text><text x="505.30" y="118.80" text-anchor="middle">70</text></g><line x1="337" y1="23.50" x2="505" y2="23.50" stroke="#858585" stroke-width="1" stroke-dasharray="1 1"/><line x1="337" y1="32.50" x2="505" y2="32.50" stroke="#858585" stroke-width="1" stroke-dasharray="1 1"/><text x="468.50" y="30.80" font-size="8.2" font-weight="bold" fill="#EC2A35" stroke="#EC2A35" stroke-width="0.35" text-anchor="middle" transform="translate(468.50 0) scale(0.9 1) translate(-468.50 0)">±5%</text><g><circle cx="339.40" cy="28.50" r="1.70" fill="#ED7D31"/><circle cx="344.21" cy="29.45" r="1.70" fill="#ED7D31"/><circle cx="349.02" cy="30.48" r="1.70" fill="#ED7D31"/><circle cx="353.83" cy="31.58" r="1.70" fill="#ED7D31"/><circle cx="358.64" cy="32.72" r="1.70" fill="#ED7D31"/><circle cx="363.45" cy="33.85" r="1.70" fill="#ED7D31"/><circle cx="368.26" cy="35.01" r="1.70" fill="#ED7D31"/><circle cx="373.06" cy="36.30" r="1.70" fill="#ED7D31"/><circle cx="377.87" cy="37.82" r="1.70" fill="#ED7D31"/><circle cx="382.68" cy="39.90" r="1.70" fill="#ED7D31"/><circle cx="387.49" cy="42.28" r="1.70" fill="#ED7D31"/><circle cx="392.30" cy="44.56" r="1.70" fill="#ED7D31"/><circle cx="397.11" cy="46.88" r="1.70" fill="#ED7D31"/><circle cx="401.92" cy="49.22" r="1.70" fill="#ED7D31"/><circle cx="406.72" cy="51.59" r="1.70" fill="#ED7D31"/><circle cx="411.53" cy="53.98" r="1.70" fill="#ED7D31"/><circle cx="416.34" cy="56.45" r="1.70" fill="#ED7D31"/><circle cx="421.15" cy="59.06" r="1.70" fill="#ED7D31"/><circle cx="425.96" cy="61.72" r="1.70" fill="#ED7D31"/><circle cx="430.77" cy="64.39" r="1.70" fill="#ED7D31"/><circle cx="435.58" cy="66.98" r="1.70" fill="#ED7D31"/><circle cx="440.38" cy="69.48" r="1.70" fill="#ED7D31"/><circle cx="445.19" cy="71.86" r="1.70" fill="#ED7D31"/><circle cx="450.00" cy="73.86" r="1.70" fill="#ED7D31"/><circle cx="454.81" cy="75.34" r="1.70" fill="#ED7D31"/><circle cx="459.62" cy="76.70" r="1.70" fill="#ED7D31"/><circle cx="464.43" cy="78.24" r="1.70" fill="#ED7D31"/><circle cx="469.24" cy="79.94" r="1.70" fill="#ED7D31"/><circle cx="474.04" cy="81.97" r="1.70" fill="#ED7D31"/><circle cx="478.85" cy="82.78" r="1.70" fill="#ED7D31"/><circle cx="483.66" cy="81.97" r="1.70" fill="#ED7D31"/><circle cx="488.47" cy="82.78" r="1.70" fill="#ED7D31"/><circle cx="493.28" cy="83.67" r="1.70" fill="#ED7D31"/><circle cx="498.09" cy="83.67" r="1.70" fill="#ED7D31"/><circle cx="502.90" cy="84.07" r="1.70" fill="#ED7D31"/><path d="M339.40 26.55L341.35 30.06L337.45 30.06Z" fill="#A5A5A5"/><path d="M344.21 27.40L346.16 30.91L342.26 30.91Z" fill="#A5A5A5"/><path d="M349.02 28.28L350.97 31.79L347.07 31.79Z" fill="#A5A5A5"/><path d="M353.83 29.20L355.78 32.71L351.88 32.71Z" fill="#A5A5A5"/><path d="M358.64 30.20L360.59 33.71L356.69 33.71Z" fill="#A5A5A5"/><path d="M363.45 31.25L365.40 34.76L361.50 34.76Z" fill="#A5A5A5"/><path d="M368.26 32.37L370.21 35.88L366.31 35.88Z" fill="#A5A5A5"/><path d="M373.06 33.62L375.01 37.13L371.11 37.13Z" fill="#A5A5A5"/><path d="M377.87 35.06L379.82 38.57L375.92 38.57Z" fill="#A5A5A5"/><path d="M382.68 36.94L384.63 40.45L380.73 40.45Z" fill="#A5A5A5"/><path d="M387.49 39.11L389.44 42.62L385.54 42.62Z" fill="#A5A5A5"/><path d="M392.30 41.33L394.25 44.84L390.35 44.84Z" fill="#A5A5A5"/><path d="M397.11 43.65L399.06 47.16L395.16 47.16Z" fill="#A5A5A5"/><path d="M401.92 46.03L403.87 49.54L399.97 49.54Z" fill="#A5A5A5"/><path d="M406.72 48.42L408.67 51.94L404.77 51.94Z" fill="#A5A5A5"/><path d="M411.53 50.87L413.48 54.38L409.58 54.38Z" fill="#A5A5A5"/><path d="M416.34 53.28L418.29 56.80L414.39 56.80Z" fill="#A5A5A5"/><path d="M421.15 55.49L423.10 59.00L419.20 59.00Z" fill="#A5A5A5"/><path d="M425.96 57.74L427.91 61.25L424.01 61.25Z" fill="#A5A5A5"/><path d="M430.77 60.40L432.72 63.91L428.82 63.91Z" fill="#A5A5A5"/><path d="M435.58 63.00L437.53 66.52L433.63 66.52Z" fill="#A5A5A5"/><path d="M440.38 65.27L442.33 68.78L438.43 68.78Z" fill="#A5A5A5"/><path d="M445.19 67.35L447.14 70.86L443.24 70.86Z" fill="#A5A5A5"/><path d="M450.00 69.08L451.95 72.59L448.05 72.59Z" fill="#A5A5A5"/><path d="M454.81 70.32L456.76 73.83L452.86 73.83Z" fill="#A5A5A5"/><path d="M459.62 71.51L461.57 75.02L457.67 75.02Z" fill="#A5A5A5"/><path d="M464.43 73.26L466.38 76.77L462.48 76.77Z" fill="#A5A5A5"/><path d="M469.24 74.75L471.19 78.26L467.29 78.26Z" fill="#A5A5A5"/><path d="M474.04 75.43L475.99 78.94L472.09 78.94Z" fill="#A5A5A5"/><path d="M478.85 75.96L480.80 79.47L476.90 79.47Z" fill="#A5A5A5"/><path d="M483.66 76.60L485.61 80.11L481.71 80.11Z" fill="#A5A5A5"/><path d="M488.47 77.18L490.42 80.69L486.52 80.69Z" fill="#A5A5A5"/><path d="M493.28 77.71L495.23 81.22L491.33 81.22Z" fill="#A5A5A5"/><path d="M498.09 77.99L500.04 81.50L496.14 81.50Z" fill="#A5A5A5"/><path d="M502.90 77.99L504.85 81.50L500.95 81.50Z" fill="#A5A5A5"/><path d="M337.00 26.20L338.90 28.10L337.00 30.00L335.10 28.10Z" fill="#FFC000"/><path d="M341.81 27.41L343.71 29.31L341.81 31.21L339.91 29.31Z" fill="#FFC000"/><path d="M346.62 29.04L348.52 30.94L346.62 32.84L344.72 30.94Z" fill="#FFC000"/><path d="M351.43 30.98L353.33 32.88L351.43 34.78L349.53 32.88Z" fill="#FFC000"/><path d="M356.23 32.11L358.13 34.01L356.23 35.91L354.33 34.01Z" fill="#FFC000"/><path d="M361.04 33.57L362.94 35.47L361.04 37.37L359.14 35.47Z" fill="#FFC000"/><path d="M365.85 35.92L367.75 37.82L365.85 39.72L363.95 37.82Z" fill="#FFC000"/><path d="M370.66 37.78L372.56 39.68L370.66 41.58L368.76 39.68Z" fill="#FFC000"/><path d="M375.47 39.32L377.37 41.22L375.47 43.12L373.57 41.22Z" fill="#FFC000"/><path d="M380.28 41.51L382.18 43.41L380.28 45.31L378.38 43.41Z" fill="#FFC000"/><path d="M385.09 43.94L386.99 45.84L385.09 47.74L383.19 45.84Z" fill="#FFC000"/><path d="M389.89 46.13L391.79 48.03L389.89 49.93L387.99 48.03Z" fill="#FFC000"/><path d="M394.70 47.58L396.60 49.48L394.70 51.38L392.80 49.48Z" fill="#FFC000"/><path d="M399.51 49.93L401.41 51.83L399.51 53.73L397.61 51.83Z" fill="#FFC000"/><path d="M404.32 52.20L406.22 54.10L404.32 56.00L402.42 54.10Z" fill="#FFC000"/><path d="M409.13 53.98L411.03 55.88L409.13 57.78L407.23 55.88Z" fill="#FFC000"/><path d="M413.94 56.33L415.84 58.23L413.94 60.13L412.04 58.23Z" fill="#FFC000"/><path d="M418.75 57.79L420.65 59.69L418.75 61.59L416.85 59.69Z" fill="#FFC000"/><path d="M423.55 59.41L425.45 61.31L423.55 63.21L421.65 61.31Z" fill="#FFC000"/><path d="M428.36 61.60L430.26 63.50L428.36 65.40L426.46 63.50Z" fill="#FFC000"/><path d="M433.17 63.86L435.07 65.76L433.17 67.66L431.27 65.76Z" fill="#FFC000"/><path d="M437.98 65.81L439.88 67.71L437.98 69.61L436.08 67.71Z" fill="#FFC000"/><path d="M442.79 67.10L444.69 69.00L442.79 70.91L440.89 69.00Z" fill="#FFC000"/><path d="M447.60 67.91L449.50 69.81L447.60 71.72L445.70 69.81Z" fill="#FFC000"/><path d="M452.41 68.72L454.31 70.62L452.41 72.53L450.51 70.62Z" fill="#FFC000"/><path d="M457.21 69.29L459.11 71.19L457.21 73.09L455.31 71.19Z" fill="#FFC000"/><path d="M462.02 69.94L463.92 71.84L462.02 73.74L460.12 71.84Z" fill="#FFC000"/><path d="M466.83 70.43L468.73 72.33L466.83 74.23L464.93 72.33Z" fill="#FFC000"/><path d="M471.64 76.42L473.54 78.32L471.64 80.22L469.74 78.32Z" fill="#FFC000"/><path d="M476.45 72.13L478.35 74.03L476.45 75.93L474.55 74.03Z" fill="#FFC000"/><path d="M481.26 72.94L483.16 74.84L481.26 76.74L479.36 74.84Z" fill="#FFC000"/><path d="M486.07 73.26L487.97 75.16L486.07 77.06L484.17 75.16Z" fill="#FFC000"/><path d="M490.87 73.58L492.77 75.48L490.87 77.39L488.97 75.48Z" fill="#FFC000"/><path d="M495.68 73.83L497.58 75.73L495.68 77.63L493.78 75.73Z" fill="#FFC000"/><path d="M500.49 73.83L502.39 75.73L500.49 77.63L498.59 75.73Z" fill="#FFC000"/><path d="M505.30 73.99L507.20 75.89L505.30 77.79L503.40 75.89Z" fill="#FFC000"/><circle cx="337.00" cy="28.10" r="1.70" fill="#5B9BD5"/><circle cx="341.81" cy="28.22" r="1.70" fill="#5B9BD5"/><circle cx="346.62" cy="28.50" r="1.70" fill="#5B9BD5"/><circle cx="351.43" cy="29.37" r="1.70" fill="#5B9BD5"/><circle cx="356.23" cy="30.29" r="1.70" fill="#5B9BD5"/><circle cx="361.04" cy="30.61" r="1.70" fill="#5B9BD5"/><circle cx="365.85" cy="31.83" r="1.70" fill="#5B9BD5"/><circle cx="370.66" cy="32.88" r="1.70" fill="#5B9BD5"/><circle cx="375.47" cy="34.01" r="1.70" fill="#5B9BD5"/><circle cx="380.28" cy="35.55" r="1.70" fill="#5B9BD5"/><circle cx="385.09" cy="37.50" r="1.70" fill="#5B9BD5"/><circle cx="389.89" cy="39.36" r="1.70" fill="#5B9BD5"/><circle cx="394.70" cy="42.03" r="1.70" fill="#5B9BD5"/><circle cx="399.51" cy="43.89" r="1.70" fill="#5B9BD5"/><circle cx="404.32" cy="46.49" r="1.70" fill="#5B9BD5"/><circle cx="409.13" cy="49.48" r="1.70" fill="#5B9BD5"/><circle cx="413.94" cy="52.16" r="1.70" fill="#5B9BD5"/><circle cx="418.75" cy="54.83" r="1.70" fill="#5B9BD5"/><circle cx="423.55" cy="57.50" r="1.70" fill="#5B9BD5"/><circle cx="428.36" cy="59.77" r="1.70" fill="#5B9BD5"/><circle cx="433.17" cy="62.36" r="1.70" fill="#5B9BD5"/><circle cx="437.98" cy="65.04" r="1.70" fill="#5B9BD5"/><circle cx="442.79" cy="66.90" r="1.70" fill="#5B9BD5"/><circle cx="447.60" cy="68.44" r="1.70" fill="#5B9BD5"/><circle cx="452.41" cy="69.90" r="1.70" fill="#5B9BD5"/><circle cx="457.21" cy="70.71" r="1.70" fill="#5B9BD5"/><circle cx="462.02" cy="73.06" r="1.70" fill="#5B9BD5"/><circle cx="466.83" cy="74.84" r="1.70" fill="#5B9BD5"/><circle cx="471.64" cy="76.46" r="1.70" fill="#5B9BD5"/><circle cx="476.45" cy="77.27" r="1.70" fill="#5B9BD5"/><circle cx="481.26" cy="78.16" r="1.70" fill="#5B9BD5"/><circle cx="486.07" cy="78.97" r="1.70" fill="#5B9BD5"/><circle cx="490.87" cy="79.45" r="1.70" fill="#5B9BD5"/><circle cx="495.68" cy="80.26" r="1.70" fill="#5B9BD5"/><circle cx="500.49" cy="80.26" r="1.70" fill="#5B9BD5"/><circle cx="505.30" cy="80.67" r="1.70" fill="#5B9BD5"/><rect x="337.85" y="26.79" width="3.10" height="3.10" fill="#70AD47"/><rect x="342.66" y="27.41" width="3.10" height="3.10" fill="#70AD47"/><rect x="347.47" y="28.17" width="3.10" height="3.10" fill="#70AD47"/><rect x="352.28" y="29.11" width="3.10" height="3.10" fill="#70AD47"/><rect x="357.09" y="30.20" width="3.10" height="3.10" fill="#70AD47"/><rect x="361.90" y="31.38" width="3.10" height="3.10" fill="#70AD47"/><rect x="366.71" y="32.63" width="3.10" height="3.10" fill="#70AD47"/><rect x="371.51" y="33.78" width="3.10" height="3.10" fill="#70AD47"/><rect x="376.32" y="35.06" width="3.10" height="3.10" fill="#70AD47"/><rect x="381.13" y="36.72" width="3.10" height="3.10" fill="#70AD47"/><rect x="385.94" y="38.70" width="3.10" height="3.10" fill="#70AD47"/><rect x="390.75" y="41.04" width="3.10" height="3.10" fill="#70AD47"/><rect x="395.56" y="43.56" width="3.10" height="3.10" fill="#70AD47"/><rect x="400.37" y="45.99" width="3.10" height="3.10" fill="#70AD47"/><rect x="405.17" y="48.42" width="3.10" height="3.10" fill="#70AD47"/><rect x="409.98" y="50.85" width="3.10" height="3.10" fill="#70AD47"/><rect x="414.79" y="53.06" width="3.10" height="3.10" fill="#70AD47"/><rect x="419.60" y="55.22" width="3.10" height="3.10" fill="#70AD47"/><rect x="424.41" y="57.49" width="3.10" height="3.10" fill="#70AD47"/><rect x="429.22" y="59.76" width="3.10" height="3.10" fill="#70AD47"/><rect x="434.03" y="61.62" width="3.10" height="3.10" fill="#70AD47"/><rect x="438.83" y="63.49" width="3.10" height="3.10" fill="#70AD47"/><rect x="443.64" y="65.35" width="3.10" height="3.10" fill="#70AD47"/><rect x="448.45" y="66.89" width="3.10" height="3.10" fill="#70AD47"/><rect x="453.26" y="68.35" width="3.10" height="3.10" fill="#70AD47"/><rect x="458.07" y="69.89" width="3.10" height="3.10" fill="#70AD47"/><rect x="462.88" y="71.10" width="3.10" height="3.10" fill="#70AD47"/><rect x="467.69" y="71.99" width="3.10" height="3.10" fill="#70AD47"/><rect x="472.49" y="72.88" width="3.10" height="3.10" fill="#70AD47"/><rect x="477.30" y="73.61" width="3.10" height="3.10" fill="#70AD47"/><rect x="482.11" y="74.18" width="3.10" height="3.10" fill="#70AD47"/><rect x="486.92" y="74.91" width="3.10" height="3.10" fill="#70AD47"/><rect x="491.73" y="75.39" width="3.10" height="3.10" fill="#70AD47"/><rect x="496.54" y="75.72" width="3.10" height="3.10" fill="#70AD47"/><rect x="501.35" y="76.28" width="3.10" height="3.10" fill="#70AD47"/><path d="M339.40 26.55L341.35 30.06L337.45 30.06Z" fill="#264478"/><path d="M344.21 27.47L346.16 30.98L342.26 30.98Z" fill="#264478"/><path d="M349.02 28.46L350.97 31.97L347.07 31.97Z" fill="#264478"/><path d="M353.83 29.51L355.78 33.02L351.88 33.02Z" fill="#264478"/><path d="M358.64 30.60L360.59 34.11L356.69 34.11Z" fill="#264478"/><path d="M363.45 31.71L365.40 35.22L361.50 35.22Z" fill="#264478"/><path d="M368.26 32.86L370.21 36.37L366.31 36.37Z" fill="#264478"/><path d="M373.06 34.13L375.01 37.64L371.11 37.64Z" fill="#264478"/><path d="M377.87 35.63L379.82 39.14L375.92 39.14Z" fill="#264478"/><path d="M382.68 37.63L384.63 41.14L380.73 41.14Z" fill="#264478"/><path d="M387.49 39.92L389.44 43.43L385.54 43.43Z" fill="#264478"/><path d="M392.30 42.18L394.25 45.69L390.35 45.69Z" fill="#264478"/><path d="M397.11 44.50L399.06 48.01L395.16 48.01Z" fill="#264478"/><path d="M401.92 46.86L403.87 50.37L399.97 50.37Z" fill="#264478"/><path d="M406.72 49.23L408.67 52.75L404.77 52.75Z" fill="#264478"/><path d="M411.53 51.68L413.48 55.19L409.58 55.19Z" fill="#264478"/><path d="M416.34 54.09L418.29 57.61L414.39 57.61Z" fill="#264478"/><path d="M421.15 56.30L423.10 59.81L419.20 59.81Z" fill="#264478"/><path d="M425.96 58.55L427.91 62.06L424.01 62.06Z" fill="#264478"/><path d="M430.77 61.12L432.72 64.63L428.82 64.63Z" fill="#264478"/><path d="M435.58 63.81L437.53 67.32L433.63 67.32Z" fill="#264478"/><path d="M440.38 66.49L442.33 70.00L438.43 70.00Z" fill="#264478"/><path d="M445.19 68.56L447.14 72.07L443.24 72.07Z" fill="#264478"/><path d="M450.00 70.21L451.95 73.72L448.05 73.72Z" fill="#264478"/><path d="M454.81 71.36L456.76 74.87L452.86 74.87Z" fill="#264478"/><path d="M459.62 72.48L461.57 75.99L457.67 75.99Z" fill="#264478"/><path d="M464.43 74.40L466.38 77.91L462.48 77.91Z" fill="#264478"/><path d="M469.24 75.88L471.19 79.39L467.29 79.39Z" fill="#264478"/><path d="M474.04 76.21L475.99 79.72L472.09 79.72Z" fill="#264478"/><path d="M478.85 77.02L480.80 80.53L476.90 80.53Z" fill="#264478"/><path d="M483.66 77.91L485.61 81.42L481.71 81.42Z" fill="#264478"/><path d="M488.47 78.31L490.42 81.82L486.52 81.82Z" fill="#264478"/><path d="M493.28 78.56L495.23 82.07L491.33 82.07Z" fill="#264478"/><path d="M498.09 78.72L500.04 82.23L496.14 82.23Z" fill="#264478"/><path d="M502.90 78.72L504.85 82.23L500.95 82.23Z" fill="#264478"/><path d="M339.40 26.60L341.30 28.50L339.40 30.40L337.50 28.50Z" fill="#9E480E"/><path d="M344.21 27.17L346.11 29.07L344.21 30.97L342.31 29.07Z" fill="#9E480E"/><path d="M349.02 27.58L350.92 29.48L349.02 31.38L347.12 29.48Z" fill="#9E480E"/><path d="M353.83 29.52L355.73 31.42L353.83 33.32L351.93 31.42Z" fill="#9E480E"/><path d="M358.64 30.98L360.54 32.88L358.64 34.78L356.74 32.88Z" fill="#9E480E"/><path d="M363.45 32.11L365.35 34.01L363.45 35.91L361.55 34.01Z" fill="#9E480E"/><path d="M368.26 33.33L370.16 35.23L368.26 37.13L366.36 35.23Z" fill="#9E480E"/><path d="M373.06 34.38L374.96 36.28L373.06 38.18L371.16 36.28Z" fill="#9E480E"/><path d="M377.87 35.92L379.77 37.82L377.87 39.72L375.97 37.82Z" fill="#9E480E"/><path d="M382.68 37.86L384.58 39.76L382.68 41.66L380.78 39.76Z" fill="#9E480E"/><path d="M387.49 40.54L389.39 42.44L387.49 44.34L385.59 42.44Z" fill="#9E480E"/><path d="M392.30 42.80L394.20 44.70L392.30 46.60L390.40 44.70Z" fill="#9E480E"/><path d="M397.11 44.99L399.01 46.89L397.11 48.79L395.21 46.89Z" fill="#9E480E"/><path d="M401.92 47.58L403.82 49.48L401.92 51.38L400.02 49.48Z" fill="#9E480E"/><path d="M406.72 49.93L408.62 51.83L406.72 53.73L404.82 51.83Z" fill="#9E480E"/><path d="M411.53 52.20L413.43 54.10L411.53 56.00L409.63 54.10Z" fill="#9E480E"/><path d="M416.34 54.79L418.24 56.69L416.34 58.59L414.44 56.69Z" fill="#9E480E"/><path d="M421.15 57.87L423.05 59.77L421.15 61.67L419.25 59.77Z" fill="#9E480E"/><path d="M425.96 60.46L427.86 62.36L425.96 64.26L424.06 62.36Z" fill="#9E480E"/><path d="M430.77 63.14L432.67 65.04L430.77 66.94L428.87 65.04Z" fill="#9E480E"/><path d="M435.58 65.81L437.48 67.71L435.58 69.61L433.68 67.71Z" fill="#9E480E"/><path d="M440.38 68.81L442.28 70.71L440.38 72.61L438.48 70.71Z" fill="#9E480E"/><path d="M445.19 70.67L447.09 72.57L445.19 74.47L443.29 72.57Z" fill="#9E480E"/><path d="M450.00 72.53L451.90 74.43L450.00 76.33L448.10 74.43Z" fill="#9E480E"/><path d="M454.81 73.99L456.71 75.89L454.81 77.79L452.91 75.89Z" fill="#9E480E"/><path d="M459.62 75.20L461.52 77.10L459.62 79.00L457.72 77.10Z" fill="#9E480E"/><path d="M464.43 77.07L466.33 78.97L464.43 80.87L462.53 78.97Z" fill="#9E480E"/><path d="M469.24 78.77L471.14 80.67L469.24 82.57L467.34 80.67Z" fill="#9E480E"/><path d="M474.04 81.36L475.94 83.26L474.04 85.16L472.14 83.26Z" fill="#9E480E"/><path d="M478.85 82.17L480.75 84.07L478.85 85.97L476.95 84.07Z" fill="#9E480E"/><path d="M483.66 81.36L485.56 83.26L483.66 85.16L481.76 83.26Z" fill="#9E480E"/><path d="M488.47 82.17L490.37 84.07L488.47 85.97L486.57 84.07Z" fill="#9E480E"/><path d="M493.28 83.06L495.18 84.96L493.28 86.86L491.38 84.96Z" fill="#9E480E"/><path d="M498.09 83.47L499.99 85.37L498.09 87.27L496.19 85.37Z" fill="#9E480E"/><path d="M502.90 83.87L504.80 85.77L502.90 87.67L501.00 85.77Z" fill="#9E480E"/></g><rect x="514.90" y="30.00" width="11.50" height="68.00" fill="none" stroke="#e0e0e0" stroke-width="0.7"/><circle cx="519.10" cy="34.80" r="1.44" fill="#ED7D31"/><text x="521.40" y="36.50" font-size="4.6" fill="#5e5e5e">1</text><path d="M519.10 43.04L520.76 46.03L517.44 46.03Z" fill="#A5A5A5"/><text x="521.40" y="46.40" font-size="4.6" fill="#5e5e5e">2</text><path d="M519.10 52.98L520.72 54.60L519.10 56.22L517.49 54.60Z" fill="#FFC000"/><text x="521.40" y="56.30" font-size="4.6" fill="#5e5e5e">3</text><circle cx="519.10" cy="64.50" r="1.44" fill="#5B9BD5"/><text x="521.40" y="66.20" font-size="4.6" fill="#5e5e5e">4</text><rect x="517.78" y="73.08" width="2.63" height="2.63" fill="#70AD47"/><text x="521.40" y="76.10" font-size="4.6" fill="#5e5e5e">5</text><path d="M519.10 82.64L520.76 85.63L517.44 85.63Z" fill="#264478"/><text x="521.40" y="86.00" font-size="4.6" fill="#5e5e5e">6</text><path d="M519.10 92.59L520.72 94.20L519.10 95.81L517.49 94.20Z" fill="#9E480E"/><text x="521.40" y="95.90" font-size="4.6" fill="#5e5e5e">7</text><g stroke="#e6e6e6" stroke-width="0.8"><line x1="337.00" y1="142.50" x2="337.00" y2="240.00"/><line x1="361.00" y1="142.50" x2="361.00" y2="240.00"/><line x1="385.00" y1="142.50" x2="385.00" y2="240.00"/><line x1="409.00" y1="142.50" x2="409.00" y2="240.00"/><line x1="433.00" y1="142.50" x2="433.00" y2="240.00"/><line x1="457.00" y1="142.50" x2="457.00" y2="240.00"/><line x1="481.00" y1="142.50" x2="481.00" y2="240.00"/><line x1="505.00" y1="142.50" x2="505.00" y2="240.00"/><line x1="337.00" y1="240.00" x2="505.00" y2="240.00"/><line x1="337.00" y1="223.75" x2="505.00" y2="223.75"/><line x1="337.00" y1="207.50" x2="505.00" y2="207.50"/><line x1="337.00" y1="191.25" x2="505.00" y2="191.25"/><line x1="337.00" y1="175.00" x2="505.00" y2="175.00"/><line x1="337.00" y1="158.75" x2="505.00" y2="158.75"/><line x1="337.00" y1="142.50" x2="505.00" y2="142.50"/></g><line x1="337.00" y1="240.00" x2="505.00" y2="240.00" stroke="#d0d0d0" stroke-width="0.9"/><line x1="337.00" y1="142.50" x2="337.00" y2="240.00" stroke="#dadada" stroke-width="0.8"/><g font-size="5.2" fill="#555"><text x="332.40" y="242.10" text-anchor="end">0</text><text x="332.40" y="225.85" text-anchor="end">20</text><text x="332.40" y="209.60" text-anchor="end">40</text><text x="332.40" y="193.35" text-anchor="end">60</text><text x="332.40" y="177.10" text-anchor="end">80</text><text x="332.40" y="160.85" text-anchor="end">100</text><text x="332.40" y="144.60" text-anchor="end">120</text><text x="337.00" y="248.70" text-anchor="middle">0</text><text x="361.00" y="248.70" text-anchor="middle">10</text><text x="385.00" y="248.70" text-anchor="middle">20</text><text x="409.00" y="248.70" text-anchor="middle">30</text><text x="433.00" y="248.70" text-anchor="middle">40</text><text x="457.00" y="248.70" text-anchor="middle">50</text><text x="481.00" y="248.70" text-anchor="middle">60</text><text x="505.00" y="248.70" text-anchor="middle">70</text></g><line x1="337" y1="154.50" x2="505" y2="154.50" stroke="#858585" stroke-width="1" stroke-dasharray="1 1"/><line x1="337" y1="162.50" x2="505" y2="162.50" stroke="#858585" stroke-width="1" stroke-dasharray="1 1"/><text x="468.40" y="161.70" font-size="8.2" font-weight="bold" fill="#EC2A35" stroke="#EC2A35" stroke-width="0.35" text-anchor="middle" transform="translate(468.40 0) scale(0.9 1) translate(-468.40 0)">±5%</text><g><circle cx="339.40" cy="159.16" r="1.70" fill="#ED7D31"/><circle cx="344.20" cy="160.10" r="1.70" fill="#ED7D31"/><circle cx="349.00" cy="161.15" r="1.70" fill="#ED7D31"/><circle cx="353.80" cy="162.25" r="1.70" fill="#ED7D31"/><circle cx="358.60" cy="163.38" r="1.70" fill="#ED7D31"/><circle cx="363.40" cy="164.49" r="1.70" fill="#ED7D31"/><circle cx="368.20" cy="165.61" r="1.70" fill="#ED7D31"/><circle cx="373.00" cy="166.84" r="1.70" fill="#ED7D31"/><circle cx="377.80" cy="168.26" r="1.70" fill="#ED7D31"/><circle cx="382.60" cy="170.08" r="1.70" fill="#ED7D31"/><circle cx="387.40" cy="172.16" r="1.70" fill="#ED7D31"/><circle cx="392.20" cy="174.20" r="1.70" fill="#ED7D31"/><circle cx="397.00" cy="176.29" r="1.70" fill="#ED7D31"/><circle cx="401.80" cy="178.45" r="1.70" fill="#ED7D31"/><circle cx="406.60" cy="180.69" r="1.70" fill="#ED7D31"/><circle cx="411.40" cy="183.04" r="1.70" fill="#ED7D31"/><circle cx="416.20" cy="185.56" r="1.70" fill="#ED7D31"/><circle cx="421.00" cy="188.41" r="1.70" fill="#ED7D31"/><circle cx="425.80" cy="191.25" r="1.70" fill="#ED7D31"/><circle cx="430.60" cy="193.77" r="1.70" fill="#ED7D31"/><circle cx="435.40" cy="196.12" r="1.70" fill="#ED7D31"/><circle cx="440.20" cy="198.49" r="1.70" fill="#ED7D31"/><circle cx="445.00" cy="200.77" r="1.70" fill="#ED7D31"/><circle cx="449.80" cy="202.62" r="1.70" fill="#ED7D31"/><circle cx="454.60" cy="203.85" r="1.70" fill="#ED7D31"/><circle cx="459.40" cy="205.06" r="1.70" fill="#ED7D31"/><circle cx="464.20" cy="207.20" r="1.70" fill="#ED7D31"/><circle cx="469.00" cy="209.12" r="1.70" fill="#ED7D31"/><circle cx="473.80" cy="209.94" r="1.70" fill="#ED7D31"/><circle cx="478.60" cy="210.75" r="1.70" fill="#ED7D31"/><circle cx="483.40" cy="213.19" r="1.70" fill="#ED7D31"/><circle cx="488.20" cy="213.19" r="1.70" fill="#ED7D31"/><circle cx="493.00" cy="213.19" r="1.70" fill="#ED7D31"/><circle cx="497.80" cy="213.59" r="1.70" fill="#ED7D31"/><circle cx="502.60" cy="213.59" r="1.70" fill="#ED7D31"/><path d="M339.40 157.21L341.35 160.72L337.45 160.72Z" fill="#A5A5A5"/><path d="M344.20 158.07L346.15 161.58L342.25 161.58Z" fill="#A5A5A5"/><path d="M349.00 158.96L350.95 162.47L347.05 162.47Z" fill="#A5A5A5"/><path d="M353.80 159.88L355.75 163.39L351.85 163.39Z" fill="#A5A5A5"/><path d="M358.60 160.86L360.55 164.37L356.65 164.37Z" fill="#A5A5A5"/><path d="M363.40 161.87L365.35 165.38L361.45 165.38Z" fill="#A5A5A5"/><path d="M368.20 162.92L370.15 166.43L366.25 166.43Z" fill="#A5A5A5"/><path d="M373.00 164.06L374.95 167.57L371.05 167.57Z" fill="#A5A5A5"/><path d="M377.80 165.33L379.75 168.84L375.85 168.84Z" fill="#A5A5A5"/><path d="M382.60 166.84L384.55 170.35L380.65 170.35Z" fill="#A5A5A5"/><path d="M387.40 168.58L389.35 172.09L385.45 172.09Z" fill="#A5A5A5"/><path d="M392.20 170.51L394.15 174.02L390.25 174.02Z" fill="#A5A5A5"/><path d="M397.00 172.61L398.95 176.12L395.05 176.12Z" fill="#A5A5A5"/><path d="M401.80 174.83L403.75 178.34L399.85 178.34Z" fill="#A5A5A5"/><path d="M406.60 177.11L408.55 180.62L404.65 180.62Z" fill="#A5A5A5"/><path d="M411.40 179.49L413.35 183.00L409.45 183.00Z" fill="#A5A5A5"/><path d="M416.20 181.99L418.15 185.50L414.25 185.50Z" fill="#A5A5A5"/><path d="M421.00 184.60L422.95 188.11L419.05 188.11Z" fill="#A5A5A5"/><path d="M425.80 187.27L427.75 190.78L423.85 190.78Z" fill="#A5A5A5"/><path d="M430.60 190.01L432.55 193.52L428.65 193.52Z" fill="#A5A5A5"/><path d="M435.40 192.55L437.35 196.06L433.45 196.06Z" fill="#A5A5A5"/><path d="M440.20 194.69L442.15 198.20L438.25 198.20Z" fill="#A5A5A5"/><path d="M445.00 196.61L446.95 200.12L443.05 200.12Z" fill="#A5A5A5"/><path d="M449.80 198.24L451.75 201.75L447.85 201.75Z" fill="#A5A5A5"/><path d="M454.60 199.52L456.55 203.03L452.65 203.03Z" fill="#A5A5A5"/><path d="M459.40 200.68L461.35 204.19L457.45 204.19Z" fill="#A5A5A5"/><path d="M464.20 201.95L466.15 205.46L462.25 205.46Z" fill="#A5A5A5"/><path d="M469.00 203.11L470.95 206.62L467.05 206.62Z" fill="#A5A5A5"/><path d="M473.80 203.99L475.75 207.50L471.85 207.50Z" fill="#A5A5A5"/><path d="M478.60 204.74L480.55 208.25L476.65 208.25Z" fill="#A5A5A5"/><path d="M483.40 205.40L485.35 208.91L481.45 208.91Z" fill="#A5A5A5"/><path d="M488.20 205.96L490.15 209.47L486.25 209.47Z" fill="#A5A5A5"/><path d="M493.00 206.48L494.95 209.99L491.05 209.99Z" fill="#A5A5A5"/><path d="M497.80 206.77L499.75 210.28L495.85 210.28Z" fill="#A5A5A5"/><path d="M502.60 206.77L504.55 210.28L500.65 210.28Z" fill="#A5A5A5"/><path d="M337.00 156.85L338.90 158.75L337.00 160.65L335.10 158.75Z" fill="#FFC000"/><path d="M341.80 158.07L343.70 159.97L341.80 161.87L339.90 159.97Z" fill="#FFC000"/><path d="M346.60 159.29L348.50 161.19L346.60 163.09L344.70 161.19Z" fill="#FFC000"/><path d="M351.40 160.91L353.30 162.81L351.40 164.71L349.50 162.81Z" fill="#FFC000"/><path d="M356.20 162.38L358.10 164.28L356.20 166.18L354.30 164.28Z" fill="#FFC000"/><path d="M361.00 163.51L362.90 165.41L361.00 167.31L359.10 165.41Z" fill="#FFC000"/><path d="M365.80 165.79L367.70 167.69L365.80 169.59L363.90 167.69Z" fill="#FFC000"/><path d="M370.60 167.33L372.50 169.23L370.60 171.13L368.70 169.23Z" fill="#FFC000"/><path d="M375.40 169.12L377.30 171.02L375.40 172.92L373.50 171.02Z" fill="#FFC000"/><path d="M380.20 171.15L382.10 173.05L380.20 174.95L378.30 173.05Z" fill="#FFC000"/><path d="M385.00 173.51L386.90 175.41L385.00 177.31L383.10 175.41Z" fill="#FFC000"/><path d="M389.80 175.38L391.70 177.28L389.80 179.18L387.90 177.28Z" fill="#FFC000"/><path d="M394.60 176.92L396.50 178.82L394.60 180.72L392.70 178.82Z" fill="#FFC000"/><path d="M399.40 179.52L401.30 181.42L399.40 183.32L397.50 181.42Z" fill="#FFC000"/><path d="M404.20 181.39L406.10 183.29L404.20 185.19L402.30 183.29Z" fill="#FFC000"/><path d="M409.00 183.66L410.90 185.56L409.00 187.46L407.10 185.56Z" fill="#FFC000"/><path d="M413.80 185.53L415.70 187.43L413.80 189.33L411.90 187.43Z" fill="#FFC000"/><path d="M418.60 186.99L420.50 188.89L418.60 190.79L416.70 188.89Z" fill="#FFC000"/><path d="M423.40 189.03L425.30 190.93L423.40 192.83L421.50 190.93Z" fill="#FFC000"/><path d="M428.20 190.89L430.10 192.79L428.20 194.69L426.30 192.79Z" fill="#FFC000"/><path d="M433.00 192.76L434.90 194.66L433.00 196.56L431.10 194.66Z" fill="#FFC000"/><path d="M437.80 194.31L439.70 196.21L437.80 198.11L435.90 196.21Z" fill="#FFC000"/><path d="M442.60 195.77L444.50 197.67L442.60 199.57L440.70 197.67Z" fill="#FFC000"/><path d="M447.40 196.91L449.30 198.81L447.40 200.71L445.50 198.81Z" fill="#FFC000"/><path d="M452.20 197.88L454.10 199.78L452.20 201.68L450.30 199.78Z" fill="#FFC000"/><path d="M457.00 198.69L458.90 200.59L457.00 202.49L455.10 200.59Z" fill="#FFC000"/><path d="M461.80 199.51L463.70 201.41L461.80 203.31L459.90 201.41Z" fill="#FFC000"/><path d="M466.60 200.32L468.50 202.22L466.60 204.12L464.70 202.22Z" fill="#FFC000"/><path d="M471.40 207.06L473.30 208.96L471.40 210.86L469.50 208.96Z" fill="#FFC000"/><path d="M476.20 208.36L478.10 210.26L476.20 212.16L474.30 210.26Z" fill="#FFC000"/><path d="M481.00 201.62L482.90 203.52L481.00 205.42L479.10 203.52Z" fill="#FFC000"/><path d="M485.80 202.51L487.70 204.41L485.80 206.31L483.90 204.41Z" fill="#FFC000"/><path d="M490.60 202.76L492.50 204.66L490.60 206.56L488.70 204.66Z" fill="#FFC000"/><path d="M495.40 203.32L497.30 205.22L495.40 207.12L493.50 205.22Z" fill="#FFC000"/><path d="M500.20 203.32L502.10 205.22L500.20 207.12L498.30 205.22Z" fill="#FFC000"/><path d="M505.00 203.57L506.90 205.47L505.00 207.37L503.10 205.47Z" fill="#FFC000"/><circle cx="337.00" cy="158.75" r="1.70" fill="#5B9BD5"/><circle cx="341.80" cy="158.90" r="1.70" fill="#5B9BD5"/><circle cx="346.60" cy="159.16" r="1.70" fill="#5B9BD5"/><circle cx="351.40" cy="159.57" r="1.70" fill="#5B9BD5"/><circle cx="356.20" cy="160.13" r="1.70" fill="#5B9BD5"/><circle cx="361.00" cy="160.86" r="1.70" fill="#5B9BD5"/><circle cx="365.80" cy="162.00" r="1.70" fill="#5B9BD5"/><circle cx="370.60" cy="163.14" r="1.70" fill="#5B9BD5"/><circle cx="375.40" cy="164.28" r="1.70" fill="#5B9BD5"/><circle cx="380.20" cy="164.93" r="1.70" fill="#5B9BD5"/><circle cx="385.00" cy="166.39" r="1.70" fill="#5B9BD5"/><circle cx="389.80" cy="168.34" r="1.70" fill="#5B9BD5"/><circle cx="394.60" cy="170.53" r="1.70" fill="#5B9BD5"/><circle cx="399.40" cy="172.40" r="1.70" fill="#5B9BD5"/><circle cx="404.20" cy="175.00" r="1.70" fill="#5B9BD5"/><circle cx="409.00" cy="178.01" r="1.70" fill="#5B9BD5"/><circle cx="413.80" cy="180.28" r="1.70" fill="#5B9BD5"/><circle cx="418.60" cy="182.88" r="1.70" fill="#5B9BD5"/><circle cx="423.40" cy="185.56" r="1.70" fill="#5B9BD5"/><circle cx="428.20" cy="188.32" r="1.70" fill="#5B9BD5"/><circle cx="433.00" cy="190.93" r="1.70" fill="#5B9BD5"/><circle cx="437.80" cy="193.53" r="1.70" fill="#5B9BD5"/><circle cx="442.60" cy="194.99" r="1.70" fill="#5B9BD5"/><circle cx="447.40" cy="196.53" r="1.70" fill="#5B9BD5"/><circle cx="452.20" cy="197.99" r="1.70" fill="#5B9BD5"/><circle cx="457.00" cy="199.86" r="1.70" fill="#5B9BD5"/><circle cx="461.80" cy="201.81" r="1.70" fill="#5B9BD5"/><circle cx="466.60" cy="203.52" r="1.70" fill="#5B9BD5"/><circle cx="471.40" cy="205.22" r="1.70" fill="#5B9BD5"/><circle cx="476.20" cy="206.12" r="1.70" fill="#5B9BD5"/><circle cx="481.00" cy="206.93" r="1.70" fill="#5B9BD5"/><circle cx="485.80" cy="207.34" r="1.70" fill="#5B9BD5"/><circle cx="490.60" cy="208.23" r="1.70" fill="#5B9BD5"/><circle cx="495.40" cy="208.23" r="1.70" fill="#5B9BD5"/><circle cx="500.20" cy="208.96" r="1.70" fill="#5B9BD5"/><circle cx="505.00" cy="209.53" r="1.70" fill="#5B9BD5"/><rect x="337.85" y="157.44" width="3.10" height="3.10" fill="#70AD47"/><rect x="342.65" y="158.00" width="3.10" height="3.10" fill="#70AD47"/><rect x="347.45" y="158.66" width="3.10" height="3.10" fill="#70AD47"/><rect x="352.25" y="159.56" width="3.10" height="3.10" fill="#70AD47"/><rect x="357.05" y="160.61" width="3.10" height="3.10" fill="#70AD47"/><rect x="361.85" y="161.72" width="3.10" height="3.10" fill="#70AD47"/><rect x="366.65" y="162.89" width="3.10" height="3.10" fill="#70AD47"/><rect x="371.45" y="164.07" width="3.10" height="3.10" fill="#70AD47"/><rect x="376.25" y="165.32" width="3.10" height="3.10" fill="#70AD47"/><rect x="381.05" y="166.64" width="3.10" height="3.10" fill="#70AD47"/><rect x="385.85" y="168.17" width="3.10" height="3.10" fill="#70AD47"/><rect x="390.65" y="170.28" width="3.10" height="3.10" fill="#70AD47"/><rect x="395.45" y="172.64" width="3.10" height="3.10" fill="#70AD47"/><rect x="400.25" y="174.84" width="3.10" height="3.10" fill="#70AD47"/><rect x="405.05" y="177.11" width="3.10" height="3.10" fill="#70AD47"/><rect x="409.85" y="179.54" width="3.10" height="3.10" fill="#70AD47"/><rect x="414.65" y="181.59" width="3.10" height="3.10" fill="#70AD47"/><rect x="419.45" y="183.77" width="3.10" height="3.10" fill="#70AD47"/><rect x="424.25" y="186.77" width="3.10" height="3.10" fill="#70AD47"/><rect x="429.05" y="188.97" width="3.10" height="3.10" fill="#70AD47"/><rect x="433.85" y="190.43" width="3.10" height="3.10" fill="#70AD47"/><rect x="438.65" y="192.38" width="3.10" height="3.10" fill="#70AD47"/><rect x="443.45" y="194.25" width="3.10" height="3.10" fill="#70AD47"/><rect x="448.25" y="195.79" width="3.10" height="3.10" fill="#70AD47"/><rect x="453.05" y="197.26" width="3.10" height="3.10" fill="#70AD47"/><rect x="457.85" y="198.72" width="3.10" height="3.10" fill="#70AD47"/><rect x="462.65" y="199.86" width="3.10" height="3.10" fill="#70AD47"/><rect x="467.45" y="200.75" width="3.10" height="3.10" fill="#70AD47"/><rect x="472.25" y="201.97" width="3.10" height="3.10" fill="#70AD47"/><rect x="477.05" y="202.86" width="3.10" height="3.10" fill="#70AD47"/><rect x="481.85" y="203.67" width="3.10" height="3.10" fill="#70AD47"/><rect x="486.65" y="204.16" width="3.10" height="3.10" fill="#70AD47"/><rect x="491.45" y="204.57" width="3.10" height="3.10" fill="#70AD47"/><rect x="496.25" y="204.57" width="3.10" height="3.10" fill="#70AD47"/><rect x="501.05" y="204.97" width="3.10" height="3.10" fill="#70AD47"/><path d="M339.40 157.21L341.35 160.72L337.45 160.72Z" fill="#264478"/><path d="M344.20 158.09L346.15 161.60L342.25 161.60Z" fill="#264478"/><path d="M349.00 159.02L350.95 162.53L347.05 162.53Z" fill="#264478"/><path d="M353.80 160.00L355.75 163.51L351.85 163.51Z" fill="#264478"/><path d="M358.60 161.03L360.55 164.53L356.65 164.53Z" fill="#264478"/><path d="M363.40 162.08L365.35 165.59L361.45 165.59Z" fill="#264478"/><path d="M368.20 163.17L370.15 166.68L366.25 166.68Z" fill="#264478"/><path d="M373.00 164.37L374.95 167.88L371.05 167.88Z" fill="#264478"/><path d="M377.80 165.74L379.75 169.25L375.85 169.25Z" fill="#264478"/><path d="M382.60 167.44L384.55 170.95L380.65 170.95Z" fill="#264478"/><path d="M387.40 169.39L389.35 172.90L385.45 172.90Z" fill="#264478"/><path d="M392.20 171.40L394.15 174.91L390.25 174.91Z" fill="#264478"/><path d="M397.00 173.49L398.95 177.00L395.05 177.00Z" fill="#264478"/><path d="M401.80 175.67L403.75 179.18L399.85 179.18Z" fill="#264478"/><path d="M406.60 177.93L408.55 181.44L404.65 181.44Z" fill="#264478"/><path d="M411.40 180.28L413.35 183.79L409.45 183.79Z" fill="#264478"/><path d="M416.20 182.80L418.15 186.31L414.25 186.31Z" fill="#264478"/><path d="M421.00 185.64L422.95 189.15L419.05 189.15Z" fill="#264478"/><path d="M425.80 188.49L427.75 192.00L423.85 192.00Z" fill="#264478"/><path d="M430.60 190.94L432.55 194.45L428.65 194.45Z" fill="#264478"/><path d="M435.40 193.36L437.35 196.87L433.45 196.87Z" fill="#264478"/><path d="M440.20 196.04L442.15 199.55L438.25 199.55Z" fill="#264478"/><path d="M445.00 197.94L446.95 201.45L443.05 201.45Z" fill="#264478"/><path d="M449.80 199.46L451.75 202.97L447.85 202.97Z" fill="#264478"/><path d="M454.60 200.64L456.55 204.15L452.65 204.15Z" fill="#264478"/><path d="M459.40 201.73L461.35 205.24L457.45 205.24Z" fill="#264478"/><path d="M464.20 202.94L466.15 206.45L462.25 206.45Z" fill="#264478"/><path d="M469.00 204.17L470.95 207.68L467.05 207.68Z" fill="#264478"/><path d="M473.80 205.39L475.75 208.90L471.85 208.90Z" fill="#264478"/><path d="M478.60 206.28L480.55 209.79L476.65 209.79Z" fill="#264478"/><path d="M483.40 207.01L485.35 210.52L481.45 210.52Z" fill="#264478"/><path d="M488.20 207.58L490.15 211.09L486.25 211.09Z" fill="#264478"/><path d="M493.00 207.99L494.95 211.50L491.05 211.50Z" fill="#264478"/><path d="M497.80 208.39L499.75 211.90L495.85 211.90Z" fill="#264478"/><path d="M502.60 208.39L504.55 211.90L500.65 211.90Z" fill="#264478"/><path d="M339.40 157.26L341.30 159.16L339.40 161.06L337.50 159.16Z" fill="#9E480E"/><path d="M344.20 157.91L346.10 159.81L344.20 161.71L342.30 159.81Z" fill="#9E480E"/><path d="M349.00 158.23L350.90 160.13L349.00 162.03L347.10 160.13Z" fill="#9E480E"/><path d="M353.80 160.10L355.70 162.00L353.80 163.90L351.90 162.00Z" fill="#9E480E"/><path d="M358.60 161.64L360.50 163.54L358.60 165.44L356.70 163.54Z" fill="#9E480E"/><path d="M363.40 162.78L365.30 164.68L363.40 166.58L361.50 164.68Z" fill="#9E480E"/><path d="M368.20 163.92L370.10 165.82L368.20 167.72L366.30 165.82Z" fill="#9E480E"/><path d="M373.00 164.97L374.90 166.88L373.00 168.78L371.10 166.88Z" fill="#9E480E"/><path d="M377.80 166.52L379.70 168.42L377.80 170.32L375.90 168.42Z" fill="#9E480E"/><path d="M382.60 168.63L384.50 170.53L382.60 172.43L380.70 170.53Z" fill="#9E480E"/><path d="M387.40 170.50L389.30 172.40L387.40 174.30L385.50 172.40Z" fill="#9E480E"/><path d="M392.20 172.78L394.10 174.68L392.20 176.58L390.30 174.68Z" fill="#9E480E"/><path d="M397.00 174.97L398.90 176.87L397.00 178.77L395.10 176.87Z" fill="#9E480E"/><path d="M401.80 177.32L403.70 179.22L401.80 181.12L399.90 179.22Z" fill="#9E480E"/><path d="M406.60 179.19L408.50 181.09L406.60 182.99L404.70 181.09Z" fill="#9E480E"/><path d="M411.40 181.79L413.30 183.69L411.40 185.59L409.50 183.69Z" fill="#9E480E"/><path d="M416.20 184.39L418.10 186.29L416.20 188.19L414.30 186.29Z" fill="#9E480E"/><path d="M421.00 187.48L422.90 189.38L421.00 191.28L419.10 189.38Z" fill="#9E480E"/><path d="M425.80 190.08L427.70 191.98L425.80 193.88L423.90 191.98Z" fill="#9E480E"/><path d="M430.60 192.44L432.50 194.34L430.60 196.24L428.70 194.34Z" fill="#9E480E"/><path d="M435.40 195.04L437.30 196.94L435.40 198.84L433.50 196.94Z" fill="#9E480E"/><path d="M440.20 197.96L442.10 199.86L440.20 201.76L438.30 199.86Z" fill="#9E480E"/><path d="M445.00 199.51L446.90 201.41L445.00 203.31L443.10 201.41Z" fill="#9E480E"/><path d="M449.80 201.38L451.70 203.28L449.80 205.18L447.90 203.28Z" fill="#9E480E"/><path d="M454.60 202.92L456.50 204.82L454.60 206.72L452.70 204.82Z" fill="#9E480E"/><path d="M459.40 203.97L461.30 205.88L459.40 207.78L457.50 205.88Z" fill="#9E480E"/><path d="M464.20 206.01L466.10 207.91L464.20 209.81L462.30 207.91Z" fill="#9E480E"/><path d="M469.00 208.04L470.90 209.94L469.00 211.84L467.10 209.94Z" fill="#9E480E"/><path d="M473.80 208.77L475.70 210.67L473.80 212.57L471.90 210.67Z" fill="#9E480E"/><path d="M478.60 209.66L480.50 211.56L478.60 213.46L476.70 211.56Z" fill="#9E480E"/><path d="M483.40 212.18L485.30 214.08L483.40 215.98L481.50 214.08Z" fill="#9E480E"/><path d="M488.20 211.78L490.10 213.68L488.20 215.58L486.30 213.68Z" fill="#9E480E"/><path d="M493.00 211.78L494.90 213.68L493.00 215.58L491.10 213.68Z" fill="#9E480E"/><path d="M497.80 212.59L499.70 214.49L497.80 216.39L495.90 214.49Z" fill="#9E480E"/><path d="M502.60 212.59L504.50 214.49L502.60 216.39L500.70 214.49Z" fill="#9E480E"/></g><rect x="514.90" y="160.50" width="11.50" height="68.80" fill="none" stroke="#e0e0e0" stroke-width="0.7"/><circle cx="519.10" cy="166.00" r="1.44" fill="#ED7D31"/><text x="521.40" y="167.70" font-size="4.6" fill="#5e5e5e">1</text><path d="M519.10 174.11L520.76 177.09L517.44 177.09Z" fill="#A5A5A5"/><text x="521.40" y="177.47" font-size="4.6" fill="#5e5e5e">2</text><path d="M519.10 183.92L520.72 185.53L519.10 187.15L517.49 185.53Z" fill="#FFC000"/><text x="521.40" y="187.23" font-size="4.6" fill="#5e5e5e">3</text><circle cx="519.10" cy="195.30" r="1.44" fill="#5B9BD5"/><text x="521.40" y="197.00" font-size="4.6" fill="#5e5e5e">4</text><rect x="517.78" y="203.75" width="2.63" height="2.63" fill="#70AD47"/><text x="521.40" y="206.77" font-size="4.6" fill="#5e5e5e">5</text><path d="M519.10 213.18L520.76 216.16L517.44 216.16Z" fill="#264478"/><text x="521.40" y="216.53" font-size="4.6" fill="#5e5e5e">6</text><path d="M519.10 222.98L520.72 224.60L519.10 226.22L517.49 224.60Z" fill="#9E480E"/><text x="521.40" y="226.30" font-size="4.6" fill="#5e5e5e">7</text><g stroke="#e6e6e6" stroke-width="0.8"><line x1="338.00" y1="287.00" x2="338.00" y2="384.50"/><line x1="362.00" y1="287.00" x2="362.00" y2="384.50"/><line x1="386.00" y1="287.00" x2="386.00" y2="384.50"/><line x1="410.00" y1="287.00" x2="410.00" y2="384.50"/><line x1="434.00" y1="287.00" x2="434.00" y2="384.50"/><line x1="458.00" y1="287.00" x2="458.00" y2="384.50"/><line x1="482.00" y1="287.00" x2="482.00" y2="384.50"/><line x1="506.00" y1="287.00" x2="506.00" y2="384.50"/><line x1="338.00" y1="384.50" x2="506.00" y2="384.50"/><line x1="338.00" y1="368.25" x2="506.00" y2="368.25"/><line x1="338.00" y1="352.00" x2="506.00" y2="352.00"/><line x1="338.00" y1="335.75" x2="506.00" y2="335.75"/><line x1="338.00" y1="319.50" x2="506.00" y2="319.50"/><line x1="338.00" y1="303.25" x2="506.00" y2="303.25"/><line x1="338.00" y1="287.00" x2="506.00" y2="287.00"/></g><line x1="338.00" y1="384.50" x2="506.00" y2="384.50" stroke="#d0d0d0" stroke-width="0.9"/><line x1="338.00" y1="287.00" x2="338.00" y2="384.50" stroke="#dadada" stroke-width="0.8"/><g font-size="5.2" fill="#555"><text x="333.40" y="386.60" text-anchor="end">0</text><text x="333.40" y="370.35" text-anchor="end">20</text><text x="333.40" y="354.10" text-anchor="end">40</text><text x="333.40" y="337.85" text-anchor="end">60</text><text x="333.40" y="321.60" text-anchor="end">80</text><text x="333.40" y="305.35" text-anchor="end">100</text><text x="333.40" y="289.10" text-anchor="end">120</text><text x="338.00" y="393.45" text-anchor="middle">0</text><text x="362.00" y="393.45" text-anchor="middle">10</text><text x="386.00" y="393.45" text-anchor="middle">20</text><text x="410.00" y="393.45" text-anchor="middle">30</text><text x="434.00" y="393.45" text-anchor="middle">40</text><text x="458.00" y="393.45" text-anchor="middle">50</text><text x="482.00" y="393.45" text-anchor="middle">60</text><text x="506.00" y="393.45" text-anchor="middle">70</text></g><line x1="338" y1="298.50" x2="506" y2="298.50" stroke="#858585" stroke-width="1" stroke-dasharray="1 1"/><line x1="338" y1="307.50" x2="506" y2="307.50" stroke="#858585" stroke-width="1" stroke-dasharray="1 1"/><text x="469.70" y="305.80" font-size="8.2" font-weight="bold" fill="#EC2A35" stroke="#EC2A35" stroke-width="0.35" text-anchor="middle" transform="translate(469.70 0) scale(0.9 1) translate(-469.70 0)">±5%</text><g><circle cx="340.40" cy="303.25" r="1.70" fill="#ED7D31"/><circle cx="345.20" cy="303.25" r="1.70" fill="#ED7D31"/><circle cx="350.00" cy="303.26" r="1.70" fill="#ED7D31"/><circle cx="354.80" cy="303.27" r="1.70" fill="#ED7D31"/><circle cx="359.60" cy="303.28" r="1.70" fill="#ED7D31"/><circle cx="364.40" cy="303.30" r="1.70" fill="#ED7D31"/><circle cx="369.20" cy="303.32" r="1.70" fill="#ED7D31"/><circle cx="374.00" cy="303.35" r="1.70" fill="#ED7D31"/><circle cx="378.80" cy="303.38" r="1.70" fill="#ED7D31"/><circle cx="383.60" cy="303.41" r="1.70" fill="#ED7D31"/><circle cx="388.40" cy="303.53" r="1.70" fill="#ED7D31"/><circle cx="393.20" cy="303.76" r="1.70" fill="#ED7D31"/><circle cx="398.00" cy="304.06" r="1.70" fill="#ED7D31"/><circle cx="402.80" cy="304.51" r="1.70" fill="#ED7D31"/><circle cx="407.60" cy="305.16" r="1.70" fill="#ED7D31"/><circle cx="412.40" cy="305.93" r="1.70" fill="#ED7D31"/><circle cx="417.20" cy="306.89" r="1.70" fill="#ED7D31"/><circle cx="422.00" cy="308.12" r="1.70" fill="#ED7D31"/><circle cx="426.80" cy="309.84" r="1.70" fill="#ED7D31"/><circle cx="431.60" cy="311.78" r="1.70" fill="#ED7D31"/><circle cx="436.40" cy="313.61" r="1.70" fill="#ED7D31"/><circle cx="441.20" cy="315.44" r="1.70" fill="#ED7D31"/><circle cx="446.00" cy="317.29" r="1.70" fill="#ED7D31"/><circle cx="450.80" cy="319.09" r="1.70" fill="#ED7D31"/><circle cx="455.60" cy="320.70" r="1.70" fill="#ED7D31"/><circle cx="460.40" cy="322.34" r="1.70" fill="#ED7D31"/><circle cx="465.20" cy="324.46" r="1.70" fill="#ED7D31"/><circle cx="470.00" cy="326.41" r="1.70" fill="#ED7D31"/><circle cx="474.80" cy="327.62" r="1.70" fill="#ED7D31"/><path d="M340.40 301.30L342.35 304.81L338.45 304.81Z" fill="#A5A5A5"/><path d="M345.20 301.30L347.15 304.81L343.25 304.81Z" fill="#A5A5A5"/><path d="M350.00 301.30L351.95 304.81L348.05 304.81Z" fill="#A5A5A5"/><path d="M354.80 301.30L356.75 304.81L352.85 304.81Z" fill="#A5A5A5"/><path d="M359.60 301.30L361.55 304.81L357.65 304.81Z" fill="#A5A5A5"/><path d="M364.40 301.30L366.35 304.81L362.45 304.81Z" fill="#A5A5A5"/><path d="M369.20 301.30L371.15 304.81L367.25 304.81Z" fill="#A5A5A5"/><path d="M374.00 301.30L375.95 304.81L372.05 304.81Z" fill="#A5A5A5"/><path d="M378.80 301.30L380.75 304.81L376.85 304.81Z" fill="#A5A5A5"/><path d="M383.60 301.30L385.55 304.81L381.65 304.81Z" fill="#A5A5A5"/><path d="M388.40 301.30L390.35 304.81L386.45 304.81Z" fill="#A5A5A5"/><path d="M393.20 301.36L395.15 304.87L391.25 304.87Z" fill="#A5A5A5"/><path d="M398.00 301.52L399.95 305.03L396.05 305.03Z" fill="#A5A5A5"/><path d="M402.80 301.78L404.75 305.29L400.85 305.29Z" fill="#A5A5A5"/><path d="M407.60 302.12L409.55 305.63L405.65 305.63Z" fill="#A5A5A5"/><path d="M412.40 302.52L414.35 306.03L410.45 306.03Z" fill="#A5A5A5"/><path d="M417.20 303.36L419.15 306.87L415.25 306.87Z" fill="#A5A5A5"/><path d="M422.00 304.73L423.95 308.24L420.05 308.24Z" fill="#A5A5A5"/><path d="M426.80 306.18L428.75 309.69L424.85 309.69Z" fill="#A5A5A5"/><path d="M431.60 307.66L433.55 311.17L429.65 311.17Z" fill="#A5A5A5"/><path d="M436.40 309.24L438.35 312.75L434.45 312.75Z" fill="#A5A5A5"/><path d="M441.20 310.64L443.15 314.15L439.25 314.15Z" fill="#A5A5A5"/><path d="M446.00 311.76L447.95 315.27L444.05 315.27Z" fill="#A5A5A5"/><path d="M450.80 312.76L452.75 316.27L448.85 316.27Z" fill="#A5A5A5"/><path d="M455.60 313.73L457.55 317.24L453.65 317.24Z" fill="#A5A5A5"/><path d="M460.40 314.71L462.35 318.22L458.45 318.22Z" fill="#A5A5A5"/><path d="M465.20 315.37L467.15 318.88L463.25 318.88Z" fill="#A5A5A5"/><path d="M470.00 316.09L471.95 319.60L468.05 319.60Z" fill="#A5A5A5"/><path d="M474.80 317.39L476.75 320.90L472.85 320.90Z" fill="#A5A5A5"/><path d="M479.60 318.28L481.55 321.79L477.65 321.79Z" fill="#A5A5A5"/><path d="M484.40 319.01L486.35 322.52L482.45 322.52Z" fill="#A5A5A5"/><path d="M489.20 319.82L491.15 323.33L487.25 323.33Z" fill="#A5A5A5"/><path d="M494.00 320.31L495.95 323.82L492.05 323.82Z" fill="#A5A5A5"/><path d="M498.80 320.72L500.75 324.23L496.85 324.23Z" fill="#A5A5A5"/><path d="M503.60 321.12L505.55 324.63L501.65 324.63Z" fill="#A5A5A5"/><path d="M338.00 301.35L339.90 303.25L338.00 305.15L336.10 303.25Z" fill="#FFC000"/><path d="M342.80 301.36L344.70 303.26L342.80 305.16L340.90 303.26Z" fill="#FFC000"/><path d="M347.60 301.40L349.50 303.30L347.60 305.20L345.70 303.30Z" fill="#FFC000"/><path d="M352.40 301.46L354.30 303.36L352.40 305.26L350.50 303.36Z" fill="#FFC000"/><path d="M357.20 301.55L359.10 303.45L357.20 305.35L355.30 303.45Z" fill="#FFC000"/><path d="M362.00 301.68L363.90 303.57L362.00 305.47L360.10 303.57Z" fill="#FFC000"/><path d="M366.80 302.16L368.70 304.06L366.80 305.96L364.90 304.06Z" fill="#FFC000"/><path d="M371.60 302.73L373.50 304.63L371.60 306.53L369.70 304.63Z" fill="#FFC000"/><path d="M376.40 303.38L378.30 305.28L376.40 307.18L374.50 305.28Z" fill="#FFC000"/><path d="M381.20 304.44L383.10 306.34L381.20 308.24L379.30 306.34Z" fill="#FFC000"/><path d="M386.00 305.09L387.90 306.99L386.00 308.89L384.10 306.99Z" fill="#FFC000"/><path d="M390.80 306.31L392.70 308.21L390.80 310.11L388.90 308.21Z" fill="#FFC000"/><path d="M395.60 307.04L397.50 308.94L395.60 310.84L393.70 308.94Z" fill="#FFC000"/><path d="M400.40 307.77L402.30 309.67L400.40 311.57L398.50 309.67Z" fill="#FFC000"/><path d="M405.20 308.91L407.10 310.81L405.20 312.71L403.30 310.81Z" fill="#FFC000"/><path d="M410.00 309.96L411.90 311.86L410.00 313.76L408.10 311.86Z" fill="#FFC000"/><path d="M414.80 311.10L416.70 313.00L414.80 314.90L412.90 313.00Z" fill="#FFC000"/><path d="M419.60 312.16L421.50 314.06L419.60 315.96L417.70 314.06Z" fill="#FFC000"/><path d="M424.40 313.78L426.30 315.68L424.40 317.58L422.50 315.68Z" fill="#FFC000"/><path d="M429.20 315.00L431.10 316.90L429.20 318.80L427.30 316.90Z" fill="#FFC000"/><path d="M434.00 316.30L435.90 318.20L434.00 320.10L432.10 318.20Z" fill="#FFC000"/><path d="M438.80 317.60L440.70 319.50L438.80 321.40L436.90 319.50Z" fill="#FFC000"/><path d="M443.60 318.82L445.50 320.72L443.60 322.62L441.70 320.72Z" fill="#FFC000"/><path d="M448.40 319.71L450.30 321.61L448.40 323.51L446.50 321.61Z" fill="#FFC000"/><path d="M453.20 321.26L455.10 323.16L453.20 325.06L451.30 323.16Z" fill="#FFC000"/><path d="M458.00 322.23L459.90 324.13L458.00 326.03L456.10 324.13Z" fill="#FFC000"/><path d="M462.80 322.64L464.70 324.54L462.80 326.44L460.90 324.54Z" fill="#FFC000"/><path d="M467.60 323.78L469.50 325.68L467.60 327.57L465.70 325.68Z" fill="#FFC000"/><path d="M472.40 324.59L474.30 326.49L472.40 328.39L470.50 326.49Z" fill="#FFC000"/><path d="M477.20 325.08L479.10 326.98L477.20 328.88L475.30 326.98Z" fill="#FFC000"/><path d="M482.00 325.89L483.90 327.79L482.00 329.69L480.10 327.79Z" fill="#FFC000"/><path d="M486.80 326.13L488.70 328.03L486.80 329.93L484.90 328.03Z" fill="#FFC000"/><path d="M491.60 326.70L493.50 328.60L491.60 330.50L489.70 328.60Z" fill="#FFC000"/><path d="M496.40 327.11L498.30 329.01L496.40 330.91L494.50 329.01Z" fill="#FFC000"/><path d="M501.20 327.11L503.10 329.01L501.20 330.91L499.30 329.01Z" fill="#FFC000"/><path d="M506.00 327.35L507.90 329.25L506.00 331.15L504.10 329.25Z" fill="#FFC000"/><circle cx="338.00" cy="303.25" r="1.70" fill="#5B9BD5"/><circle cx="342.80" cy="303.22" r="1.70" fill="#5B9BD5"/><circle cx="347.60" cy="303.19" r="1.70" fill="#5B9BD5"/><circle cx="352.40" cy="303.16" r="1.70" fill="#5B9BD5"/><circle cx="357.20" cy="303.14" r="1.70" fill="#5B9BD5"/><circle cx="362.00" cy="303.13" r="1.70" fill="#5B9BD5"/><circle cx="366.80" cy="303.11" r="1.70" fill="#5B9BD5"/><circle cx="371.60" cy="303.10" r="1.70" fill="#5B9BD5"/><circle cx="376.40" cy="303.10" r="1.70" fill="#5B9BD5"/><circle cx="381.20" cy="303.09" r="1.70" fill="#5B9BD5"/><circle cx="386.00" cy="303.09" r="1.70" fill="#5B9BD5"/><circle cx="390.80" cy="303.09" r="1.70" fill="#5B9BD5"/><circle cx="395.60" cy="303.09" r="1.70" fill="#5B9BD5"/><circle cx="400.40" cy="303.09" r="1.70" fill="#5B9BD5"/><circle cx="405.20" cy="303.25" r="1.70" fill="#5B9BD5"/><circle cx="410.00" cy="303.98" r="1.70" fill="#5B9BD5"/><circle cx="414.80" cy="304.79" r="1.70" fill="#5B9BD5"/><circle cx="419.60" cy="305.93" r="1.70" fill="#5B9BD5"/><circle cx="424.40" cy="306.82" r="1.70" fill="#5B9BD5"/><circle cx="429.20" cy="307.96" r="1.70" fill="#5B9BD5"/><circle cx="434.00" cy="309.67" r="1.70" fill="#5B9BD5"/><circle cx="438.80" cy="310.97" r="1.70" fill="#5B9BD5"/><circle cx="443.60" cy="312.68" r="1.70" fill="#5B9BD5"/><circle cx="448.40" cy="313.49" r="1.70" fill="#5B9BD5"/><circle cx="453.20" cy="315.19" r="1.70" fill="#5B9BD5"/><circle cx="458.00" cy="316.49" r="1.70" fill="#5B9BD5"/><circle cx="462.80" cy="317.79" r="1.70" fill="#5B9BD5"/><circle cx="467.60" cy="319.91" r="1.70" fill="#5B9BD5"/><circle cx="472.40" cy="321.53" r="1.70" fill="#5B9BD5"/><circle cx="477.20" cy="322.67" r="1.70" fill="#5B9BD5"/><circle cx="482.00" cy="323.97" r="1.70" fill="#5B9BD5"/><circle cx="486.80" cy="324.78" r="1.70" fill="#5B9BD5"/><circle cx="491.60" cy="325.19" r="1.70" fill="#5B9BD5"/><circle cx="496.40" cy="326.08" r="1.70" fill="#5B9BD5"/><circle cx="501.20" cy="326.49" r="1.70" fill="#5B9BD5"/><circle cx="506.00" cy="326.89" r="1.70" fill="#5B9BD5"/><rect x="338.85" y="301.70" width="3.10" height="3.10" fill="#70AD47"/><rect x="343.65" y="301.70" width="3.10" height="3.10" fill="#70AD47"/><rect x="348.45" y="301.70" width="3.10" height="3.10" fill="#70AD47"/><rect x="353.25" y="301.70" width="3.10" height="3.10" fill="#70AD47"/><rect x="358.05" y="301.70" width="3.10" height="3.10" fill="#70AD47"/><rect x="362.85" y="301.70" width="3.10" height="3.10" fill="#70AD47"/><rect x="367.65" y="301.70" width="3.10" height="3.10" fill="#70AD47"/><rect x="372.45" y="301.70" width="3.10" height="3.10" fill="#70AD47"/><rect x="377.25" y="301.70" width="3.10" height="3.10" fill="#70AD47"/><rect x="382.05" y="301.70" width="3.10" height="3.10" fill="#70AD47"/><rect x="386.85" y="301.70" width="3.10" height="3.10" fill="#70AD47"/><rect x="391.65" y="301.78" width="3.10" height="3.10" fill="#70AD47"/><rect x="396.45" y="302.01" width="3.10" height="3.10" fill="#70AD47"/><rect x="401.25" y="302.36" width="3.10" height="3.10" fill="#70AD47"/><rect x="406.05" y="302.81" width="3.10" height="3.10" fill="#70AD47"/><rect x="410.85" y="303.32" width="3.10" height="3.10" fill="#70AD47"/><rect x="415.65" y="304.19" width="3.10" height="3.10" fill="#70AD47"/><rect x="420.45" y="305.51" width="3.10" height="3.10" fill="#70AD47"/><rect x="425.25" y="306.98" width="3.10" height="3.10" fill="#70AD47"/><rect x="430.05" y="308.68" width="3.10" height="3.10" fill="#70AD47"/><rect x="434.85" y="310.63" width="3.10" height="3.10" fill="#70AD47"/><rect x="439.65" y="312.43" width="3.10" height="3.10" fill="#70AD47"/><rect x="444.45" y="313.97" width="3.10" height="3.10" fill="#70AD47"/><rect x="449.25" y="315.40" width="3.10" height="3.10" fill="#70AD47"/><rect x="454.05" y="316.73" width="3.10" height="3.10" fill="#70AD47"/><rect x="458.85" y="317.96" width="3.10" height="3.10" fill="#70AD47"/><rect x="463.65" y="319.09" width="3.10" height="3.10" fill="#70AD47"/><rect x="468.45" y="320.24" width="3.10" height="3.10" fill="#70AD47"/><rect x="473.25" y="321.12" width="3.10" height="3.10" fill="#70AD47"/><rect x="478.05" y="321.52" width="3.10" height="3.10" fill="#70AD47"/><rect x="482.85" y="322.18" width="3.10" height="3.10" fill="#70AD47"/><rect x="487.65" y="322.82" width="3.10" height="3.10" fill="#70AD47"/><rect x="492.45" y="323.64" width="3.10" height="3.10" fill="#70AD47"/><rect x="497.25" y="323.64" width="3.10" height="3.10" fill="#70AD47"/><rect x="502.05" y="324.12" width="3.10" height="3.10" fill="#70AD47"/><path d="M340.40 301.30L342.35 304.81L338.45 304.81Z" fill="#264478"/><path d="M345.20 301.30L347.15 304.81L343.25 304.81Z" fill="#264478"/><path d="M350.00 301.31L351.95 304.82L348.05 304.82Z" fill="#264478"/><path d="M354.80 301.32L356.75 304.83L352.85 304.83Z" fill="#264478"/><path d="M359.60 301.33L361.55 304.84L357.65 304.84Z" fill="#264478"/><path d="M364.40 301.34L366.35 304.85L362.45 304.85Z" fill="#264478"/><path d="M369.20 301.36L371.15 304.87L367.25 304.87Z" fill="#264478"/><path d="M374.00 301.38L375.95 304.89L372.05 304.89Z" fill="#264478"/><path d="M378.80 301.40L380.75 304.91L376.85 304.91Z" fill="#264478"/><path d="M383.60 301.43L385.55 304.94L381.65 304.94Z" fill="#264478"/><path d="M388.40 301.46L390.35 304.97L386.45 304.97Z" fill="#264478"/><path d="M393.20 301.58L395.15 305.09L391.25 305.09Z" fill="#264478"/><path d="M398.00 301.85L399.95 305.36L396.05 305.36Z" fill="#264478"/><path d="M402.80 302.25L404.75 305.76L400.85 305.76Z" fill="#264478"/><path d="M407.60 302.75L409.55 306.26L405.65 306.26Z" fill="#264478"/><path d="M412.40 303.33L414.35 306.84L410.45 306.84Z" fill="#264478"/><path d="M417.20 304.32L419.15 307.83L415.25 307.83Z" fill="#264478"/><path d="M422.00 305.80L423.95 309.31L420.05 309.31Z" fill="#264478"/><path d="M426.80 307.39L428.75 310.90L424.85 310.90Z" fill="#264478"/><path d="M431.60 309.07L433.55 312.58L429.65 312.58Z" fill="#264478"/><path d="M436.40 310.91L438.35 314.42L434.45 314.42Z" fill="#264478"/><path d="M441.20 312.68L443.15 316.19L439.25 316.19Z" fill="#264478"/><path d="M446.00 314.32L447.95 317.83L444.05 317.83Z" fill="#264478"/><path d="M450.80 315.84L452.75 319.35L448.85 319.35Z" fill="#264478"/><path d="M455.60 317.06L457.55 320.57L453.65 320.57Z" fill="#264478"/><path d="M460.40 318.36L462.35 321.87L458.45 321.87Z" fill="#264478"/><path d="M465.20 320.31L467.15 323.82L463.25 323.82Z" fill="#264478"/><path d="M470.00 321.53L471.95 325.04L468.05 325.04Z" fill="#264478"/><path d="M474.80 322.43L476.75 325.94L472.85 325.94Z" fill="#264478"/><path d="M479.60 323.73L481.55 327.24L477.65 327.24Z" fill="#264478"/><path d="M484.40 324.13L486.35 327.64L482.45 327.64Z" fill="#264478"/><path d="M489.20 324.94L491.15 328.45L487.25 328.45Z" fill="#264478"/><path d="M494.00 325.35L495.95 328.86L492.05 328.86Z" fill="#264478"/><path d="M498.80 325.84L500.75 329.35L496.85 329.35Z" fill="#264478"/><path d="M503.60 326.24L505.55 329.75L501.65 329.75Z" fill="#264478"/><path d="M340.40 301.35L342.30 303.25L340.40 305.15L338.50 303.25Z" fill="#9E480E"/><path d="M345.20 301.36L347.10 303.26L345.20 305.16L343.30 303.26Z" fill="#9E480E"/><path d="M350.00 301.37L351.90 303.27L350.00 305.17L348.10 303.27Z" fill="#9E480E"/><path d="M354.80 301.39L356.70 303.29L354.80 305.19L352.90 303.29Z" fill="#9E480E"/><path d="M359.60 301.42L361.50 303.32L359.60 305.22L357.70 303.32Z" fill="#9E480E"/><path d="M364.40 301.46L366.30 303.36L364.40 305.26L362.50 303.36Z" fill="#9E480E"/><path d="M369.20 301.50L371.10 303.40L369.20 305.30L367.30 303.40Z" fill="#9E480E"/><path d="M374.00 301.55L375.90 303.45L374.00 305.35L372.10 303.45Z" fill="#9E480E"/><path d="M378.80 301.61L380.70 303.51L378.80 305.41L376.90 303.51Z" fill="#9E480E"/><path d="M383.60 301.68L385.50 303.57L383.60 305.47L381.70 303.57Z" fill="#9E480E"/><path d="M388.40 301.83L390.30 303.73L388.40 305.63L386.50 303.73Z" fill="#9E480E"/><path d="M393.20 302.08L395.10 303.98L393.20 305.88L391.30 303.98Z" fill="#9E480E"/><path d="M398.00 302.49L399.90 304.39L398.00 306.29L396.10 304.39Z" fill="#9E480E"/><path d="M402.80 302.89L404.70 304.79L402.80 306.69L400.90 304.79Z" fill="#9E480E"/><path d="M407.60 303.62L409.50 305.52L407.60 307.42L405.70 305.52Z" fill="#9E480E"/><path d="M412.40 304.44L414.30 306.34L412.40 308.24L410.50 306.34Z" fill="#9E480E"/><path d="M417.20 305.90L419.10 307.80L417.20 309.70L415.30 307.80Z" fill="#9E480E"/><path d="M422.00 306.63L423.90 308.53L422.00 310.43L420.10 308.53Z" fill="#9E480E"/><path d="M426.80 308.34L428.70 310.24L426.80 312.14L424.90 310.24Z" fill="#9E480E"/><path d="M431.60 310.37L433.50 312.27L431.60 314.17L429.70 312.27Z" fill="#9E480E"/><path d="M436.40 311.59L438.30 313.49L436.40 315.39L434.50 313.49Z" fill="#9E480E"/><path d="M441.20 314.19L443.10 316.09L441.20 317.99L439.30 316.09Z" fill="#9E480E"/><path d="M446.00 315.89L447.90 317.79L446.00 319.69L444.10 317.79Z" fill="#9E480E"/><path d="M450.80 317.60L452.70 319.50L450.80 321.40L448.90 319.50Z" fill="#9E480E"/><path d="M455.60 319.31L457.50 321.21L455.60 323.11L453.70 321.21Z" fill="#9E480E"/><path d="M460.40 320.93L462.30 322.83L460.40 324.73L458.50 322.83Z" fill="#9E480E"/><path d="M465.20 323.29L467.10 325.19L465.20 327.09L463.30 325.19Z" fill="#9E480E"/><path d="M470.00 324.99L471.90 326.89L470.00 328.79L468.10 326.89Z" fill="#9E480E"/><path d="M474.80 326.29L476.70 328.19L474.80 330.09L472.90 328.19Z" fill="#9E480E"/><path d="M479.60 328.00L481.50 329.90L479.60 331.80L477.70 329.90Z" fill="#9E480E"/><path d="M484.40 328.81L486.30 330.71L484.40 332.61L482.50 330.71Z" fill="#9E480E"/><path d="M489.20 329.71L491.10 331.61L489.20 333.51L487.30 331.61Z" fill="#9E480E"/><path d="M494.00 330.52L495.90 332.42L494.00 334.32L492.10 332.42Z" fill="#9E480E"/><path d="M498.80 330.93L500.70 332.82L498.80 334.72L496.90 332.82Z" fill="#9E480E"/><path d="M503.60 331.82L505.50 333.72L503.60 335.62L501.70 333.72Z" fill="#9E480E"/><circle cx="479.60" cy="338.27" r="1.70" fill="#ED7D31"/></g><rect x="515.70" y="305.00" width="11.20" height="69.40" fill="none" stroke="#e0e0e0" stroke-width="0.7"/><circle cx="519.90" cy="310.30" r="1.44" fill="#ED7D31"/><text x="522.20" y="312.00" font-size="4.6" fill="#5e5e5e">1</text><path d="M519.90 318.54L521.56 321.53L518.24 321.53Z" fill="#A5A5A5"/><text x="522.20" y="321.90" font-size="4.6" fill="#5e5e5e">2</text><path d="M519.90 328.48L521.52 330.10L519.90 331.71L518.29 330.10Z" fill="#FFC000"/><text x="522.20" y="331.80" font-size="4.6" fill="#5e5e5e">3</text><circle cx="519.90" cy="340.00" r="1.44" fill="#5B9BD5"/><text x="522.20" y="341.70" font-size="4.6" fill="#5e5e5e">4</text><rect x="518.58" y="348.58" width="2.63" height="2.63" fill="#70AD47"/><text x="522.20" y="351.60" font-size="4.6" fill="#5e5e5e">5</text><path d="M519.90 358.14L521.56 361.13L518.24 361.13Z" fill="#264478"/><text x="522.20" y="361.50" font-size="4.6" fill="#5e5e5e">6</text><path d="M519.90 368.08L521.52 369.70L519.90 371.31L518.29 369.70Z" fill="#9E480E"/><text x="522.20" y="371.40" font-size="4.6" fill="#5e5e5e">7</text><g stroke="#e6e6e6" stroke-width="0.8"><line x1="337.00" y1="422.00" x2="337.00" y2="519.50"/><line x1="361.00" y1="422.00" x2="361.00" y2="519.50"/><line x1="385.00" y1="422.00" x2="385.00" y2="519.50"/><line x1="409.00" y1="422.00" x2="409.00" y2="519.50"/><line x1="433.00" y1="422.00" x2="433.00" y2="519.50"/><line x1="457.00" y1="422.00" x2="457.00" y2="519.50"/><line x1="481.00" y1="422.00" x2="481.00" y2="519.50"/><line x1="505.00" y1="422.00" x2="505.00" y2="519.50"/><line x1="337.00" y1="519.50" x2="505.00" y2="519.50"/><line x1="337.00" y1="503.25" x2="505.00" y2="503.25"/><line x1="337.00" y1="487.00" x2="505.00" y2="487.00"/><line x1="337.00" y1="470.75" x2="505.00" y2="470.75"/><line x1="337.00" y1="454.50" x2="505.00" y2="454.50"/><line x1="337.00" y1="438.25" x2="505.00" y2="438.25"/><line x1="337.00" y1="422.00" x2="505.00" y2="422.00"/></g><line x1="337.00" y1="519.50" x2="505.00" y2="519.50" stroke="#d0d0d0" stroke-width="0.9"/><line x1="337.00" y1="422.00" x2="337.00" y2="519.50" stroke="#dadada" stroke-width="0.8"/><g font-size="5.2" fill="#555"><text x="332.40" y="521.60" text-anchor="end">0</text><text x="332.40" y="505.35" text-anchor="end">20</text><text x="332.40" y="489.10" text-anchor="end">40</text><text x="332.40" y="472.85" text-anchor="end">60</text><text x="332.40" y="456.60" text-anchor="end">80</text><text x="332.40" y="440.35" text-anchor="end">100</text><text x="332.40" y="424.10" text-anchor="end">120</text><text x="337.00" y="527.95" text-anchor="middle">0</text><text x="361.00" y="527.95" text-anchor="middle">10</text><text x="385.00" y="527.95" text-anchor="middle">20</text><text x="409.00" y="527.95" text-anchor="middle">30</text><text x="433.00" y="527.95" text-anchor="middle">40</text><text x="457.00" y="527.95" text-anchor="middle">50</text><text x="481.00" y="527.95" text-anchor="middle">60</text><text x="505.00" y="527.95" text-anchor="middle">70</text></g><line x1="337" y1="434.50" x2="505" y2="434.50" stroke="#858585" stroke-width="1" stroke-dasharray="1 1"/><line x1="337" y1="442.50" x2="505" y2="442.50" stroke="#858585" stroke-width="1" stroke-dasharray="1 1"/><text x="468.90" y="441.30" font-size="8.2" font-weight="bold" fill="#EC2A35" stroke="#EC2A35" stroke-width="0.35" text-anchor="middle" transform="translate(468.90 0) scale(0.9 1) translate(-468.90 0)">±5%</text><g><circle cx="339.40" cy="438.25" r="1.70" fill="#ED7D31"/><circle cx="344.20" cy="438.26" r="1.70" fill="#ED7D31"/><circle cx="349.00" cy="438.28" r="1.70" fill="#ED7D31"/><circle cx="353.80" cy="438.31" r="1.70" fill="#ED7D31"/><circle cx="358.60" cy="438.34" r="1.70" fill="#ED7D31"/><circle cx="363.40" cy="438.39" r="1.70" fill="#ED7D31"/><circle cx="368.20" cy="438.44" r="1.70" fill="#ED7D31"/><circle cx="373.00" cy="438.50" r="1.70" fill="#ED7D31"/><circle cx="377.80" cy="438.58" r="1.70" fill="#ED7D31"/><circle cx="382.60" cy="438.66" r="1.70" fill="#ED7D31"/><circle cx="387.40" cy="438.81" r="1.70" fill="#ED7D31"/><circle cx="392.20" cy="439.10" r="1.70" fill="#ED7D31"/><circle cx="397.00" cy="439.47" r="1.70" fill="#ED7D31"/><circle cx="401.80" cy="440.03" r="1.70" fill="#ED7D31"/><circle cx="406.60" cy="440.85" r="1.70" fill="#ED7D31"/><circle cx="411.40" cy="441.91" r="1.70" fill="#ED7D31"/><circle cx="416.20" cy="443.53" r="1.70" fill="#ED7D31"/><circle cx="421.00" cy="445.24" r="1.70" fill="#ED7D31"/><circle cx="425.80" cy="446.38" r="1.70" fill="#ED7D31"/><circle cx="430.60" cy="447.68" r="1.70" fill="#ED7D31"/><circle cx="435.40" cy="449.38" r="1.70" fill="#ED7D31"/><circle cx="440.20" cy="451.09" r="1.70" fill="#ED7D31"/><circle cx="445.00" cy="453.20" r="1.70" fill="#ED7D31"/><circle cx="449.80" cy="455.31" r="1.70" fill="#ED7D31"/><circle cx="454.60" cy="457.02" r="1.70" fill="#ED7D31"/><circle cx="459.40" cy="458.32" r="1.70" fill="#ED7D31"/><circle cx="464.20" cy="459.54" r="1.70" fill="#ED7D31"/><circle cx="469.00" cy="460.68" r="1.70" fill="#ED7D31"/><circle cx="473.80" cy="461.89" r="1.70" fill="#ED7D31"/><circle cx="478.60" cy="463.19" r="1.70" fill="#ED7D31"/><circle cx="483.40" cy="464.49" r="1.70" fill="#ED7D31"/><circle cx="488.20" cy="466.28" r="1.70" fill="#ED7D31"/><circle cx="493.00" cy="466.61" r="1.70" fill="#ED7D31"/><circle cx="497.80" cy="467.01" r="1.70" fill="#ED7D31"/><circle cx="502.60" cy="467.42" r="1.70" fill="#ED7D31"/><path d="M339.40 436.28L341.35 439.79L337.45 439.79Z" fill="#A5A5A5"/><path d="M344.20 436.24L346.15 439.75L342.25 439.75Z" fill="#A5A5A5"/><path d="M349.00 436.21L350.95 439.72L347.05 439.72Z" fill="#A5A5A5"/><path d="M353.80 436.19L355.75 439.70L351.85 439.70Z" fill="#A5A5A5"/><path d="M358.60 436.17L360.55 439.68L356.65 439.68Z" fill="#A5A5A5"/><path d="M363.40 436.16L365.35 439.67L361.45 439.67Z" fill="#A5A5A5"/><path d="M368.20 436.15L370.15 439.66L366.25 439.66Z" fill="#A5A5A5"/><path d="M373.00 436.14L374.95 439.65L371.05 439.65Z" fill="#A5A5A5"/><path d="M377.80 436.14L379.75 439.65L375.85 439.65Z" fill="#A5A5A5"/><path d="M382.60 436.14L384.55 439.65L380.65 439.65Z" fill="#A5A5A5"/><path d="M387.40 436.14L389.35 439.65L385.45 439.65Z" fill="#A5A5A5"/><path d="M392.20 436.23L394.15 439.74L390.25 439.74Z" fill="#A5A5A5"/><path d="M397.00 436.50L398.95 440.01L395.05 440.01Z" fill="#A5A5A5"/><path d="M401.80 436.89L403.75 440.40L399.85 440.40Z" fill="#A5A5A5"/><path d="M406.60 437.38L408.55 440.89L404.65 440.89Z" fill="#A5A5A5"/><path d="M411.40 437.93L413.35 441.44L409.45 441.44Z" fill="#A5A5A5"/><path d="M416.20 438.75L418.15 442.26L414.25 442.26Z" fill="#A5A5A5"/><path d="M421.00 439.92L422.95 443.43L419.05 443.43Z" fill="#A5A5A5"/><path d="M425.80 441.18L427.75 444.69L423.85 444.69Z" fill="#A5A5A5"/><path d="M430.60 442.48L432.55 445.99L428.65 445.99Z" fill="#A5A5A5"/><path d="M435.40 443.88L437.35 447.39L433.45 447.39Z" fill="#A5A5A5"/><path d="M440.20 445.24L442.15 448.75L438.25 448.75Z" fill="#A5A5A5"/><path d="M445.00 446.45L446.95 449.96L443.05 449.96Z" fill="#A5A5A5"/><path d="M449.80 447.68L451.75 451.19L447.85 451.19Z" fill="#A5A5A5"/><path d="M454.60 449.10L456.55 452.61L452.65 452.61Z" fill="#A5A5A5"/><path d="M459.40 450.52L461.35 454.03L457.45 454.03Z" fill="#A5A5A5"/><path d="M464.20 451.79L466.15 455.30L462.25 455.30Z" fill="#A5A5A5"/><path d="M469.00 452.96L470.95 456.47L467.05 456.47Z" fill="#A5A5A5"/><path d="M473.80 454.02L475.75 457.53L471.85 457.53Z" fill="#A5A5A5"/><path d="M478.60 454.99L480.55 458.50L476.65 458.50Z" fill="#A5A5A5"/><path d="M483.40 455.89L485.35 459.40L481.45 459.40Z" fill="#A5A5A5"/><path d="M488.20 456.61L490.15 460.12L486.25 460.12Z" fill="#A5A5A5"/><path d="M493.00 457.05L494.95 460.56L491.05 460.56Z" fill="#A5A5A5"/><path d="M497.80 457.43L499.75 460.94L495.85 460.94Z" fill="#A5A5A5"/><path d="M502.60 457.83L504.55 461.34L500.65 461.34Z" fill="#A5A5A5"/><path d="M337.00 436.35L338.90 438.25L337.00 440.15L335.10 438.25Z" fill="#FFC000"/><path d="M341.80 436.54L343.70 438.44L341.80 440.34L339.90 438.44Z" fill="#FFC000"/><path d="M346.60 436.76L348.50 438.66L346.60 440.56L344.70 438.66Z" fill="#FFC000"/><path d="M351.40 437.02L353.30 438.92L351.40 440.82L349.50 438.92Z" fill="#FFC000"/><path d="M356.20 437.31L358.10 439.21L356.20 441.11L354.30 439.21Z" fill="#FFC000"/><path d="M361.00 437.57L362.90 439.47L361.00 441.37L359.10 439.47Z" fill="#FFC000"/><path d="M365.80 437.78L367.70 439.68L365.80 441.58L363.90 439.68Z" fill="#FFC000"/><path d="M370.60 437.98L372.50 439.88L370.60 441.77L368.70 439.88Z" fill="#FFC000"/><path d="M375.40 438.11L377.30 440.01L375.40 441.91L373.50 440.01Z" fill="#FFC000"/><path d="M380.20 438.30L382.10 440.20L380.20 442.10L378.30 440.20Z" fill="#FFC000"/><path d="M385.00 439.44L386.90 441.34L385.00 443.24L383.10 441.34Z" fill="#FFC000"/><path d="M389.80 439.76L391.70 441.66L389.80 443.56L387.90 441.66Z" fill="#FFC000"/><path d="M394.60 440.90L396.50 442.80L394.60 444.70L392.70 442.80Z" fill="#FFC000"/><path d="M399.40 442.04L401.30 443.94L399.40 445.84L397.50 443.94Z" fill="#FFC000"/><path d="M404.20 442.77L406.10 444.67L404.20 446.57L402.30 444.67Z" fill="#FFC000"/><path d="M409.00 443.91L410.90 445.81L409.00 447.71L407.10 445.81Z" fill="#FFC000"/><path d="M413.80 444.96L415.70 446.86L413.80 448.76L411.90 446.86Z" fill="#FFC000"/><path d="M418.60 446.10L420.50 448.00L418.60 449.90L416.70 448.00Z" fill="#FFC000"/><path d="M423.40 447.08L425.30 448.98L423.40 450.88L421.50 448.98Z" fill="#FFC000"/><path d="M428.20 448.78L430.10 450.68L428.20 452.58L426.30 450.68Z" fill="#FFC000"/><path d="M433.00 450.00L434.90 451.90L433.00 453.80L431.10 451.90Z" fill="#FFC000"/><path d="M437.80 450.89L439.70 452.79L437.80 454.69L435.90 452.79Z" fill="#FFC000"/><path d="M442.60 452.11L444.50 454.01L442.60 455.91L440.70 454.01Z" fill="#FFC000"/><path d="M447.40 453.41L449.30 455.31L447.40 457.21L445.50 455.31Z" fill="#FFC000"/><path d="M452.20 454.71L454.10 456.61L452.20 458.51L450.30 456.61Z" fill="#FFC000"/><path d="M457.00 455.53L458.90 457.43L457.00 459.32L455.10 457.43Z" fill="#FFC000"/><path d="M461.80 456.83L463.70 458.73L461.80 460.62L459.90 458.73Z" fill="#FFC000"/><path d="M466.60 457.48L468.50 459.38L466.60 461.27L464.70 459.38Z" fill="#FFC000"/><path d="M471.40 458.29L473.30 460.19L471.40 462.09L469.50 460.19Z" fill="#FFC000"/><path d="M476.20 458.78L478.10 460.68L476.20 462.57L474.30 460.68Z" fill="#FFC000"/><path d="M481.00 459.18L482.90 461.08L481.00 462.98L479.10 461.08Z" fill="#FFC000"/><path d="M485.80 459.59L487.70 461.49L485.80 463.39L483.90 461.49Z" fill="#FFC000"/><path d="M490.60 459.99L492.50 461.89L490.60 463.79L488.70 461.89Z" fill="#FFC000"/><path d="M495.40 460.40L497.30 462.30L495.40 464.20L493.50 462.30Z" fill="#FFC000"/><path d="M500.20 460.40L502.10 462.30L500.20 464.20L498.30 462.30Z" fill="#FFC000"/><path d="M505.00 460.73L506.90 462.62L505.00 464.52L503.10 462.62Z" fill="#FFC000"/><circle cx="337.00" cy="438.25" r="1.70" fill="#5B9BD5"/><circle cx="341.80" cy="438.21" r="1.70" fill="#5B9BD5"/><circle cx="346.60" cy="438.14" r="1.70" fill="#5B9BD5"/><circle cx="351.40" cy="438.06" r="1.70" fill="#5B9BD5"/><circle cx="356.20" cy="437.96" r="1.70" fill="#5B9BD5"/><circle cx="361.00" cy="437.84" r="1.70" fill="#5B9BD5"/><circle cx="365.80" cy="437.71" r="1.70" fill="#5B9BD5"/><circle cx="370.60" cy="437.55" r="1.70" fill="#5B9BD5"/><circle cx="375.40" cy="437.34" r="1.70" fill="#5B9BD5"/><circle cx="380.20" cy="437.11" r="1.70" fill="#5B9BD5"/><circle cx="385.00" cy="436.79" r="1.70" fill="#5B9BD5"/><circle cx="389.80" cy="436.38" r="1.70" fill="#5B9BD5"/><circle cx="394.60" cy="436.38" r="1.70" fill="#5B9BD5"/><circle cx="399.40" cy="436.79" r="1.70" fill="#5B9BD5"/><circle cx="404.20" cy="437.11" r="1.70" fill="#5B9BD5"/><circle cx="409.00" cy="437.52" r="1.70" fill="#5B9BD5"/><circle cx="413.80" cy="438.33" r="1.70" fill="#5B9BD5"/><circle cx="418.60" cy="438.98" r="1.70" fill="#5B9BD5"/><circle cx="423.40" cy="439.23" r="1.70" fill="#5B9BD5"/><circle cx="428.20" cy="440.52" r="1.70" fill="#5B9BD5"/><circle cx="433.00" cy="441.82" r="1.70" fill="#5B9BD5"/><circle cx="437.80" cy="443.53" r="1.70" fill="#5B9BD5"/><circle cx="442.60" cy="444.26" r="1.70" fill="#5B9BD5"/><circle cx="447.40" cy="445.56" r="1.70" fill="#5B9BD5"/><circle cx="452.20" cy="446.78" r="1.70" fill="#5B9BD5"/><circle cx="457.00" cy="448.08" r="1.70" fill="#5B9BD5"/><circle cx="461.80" cy="449.38" r="1.70" fill="#5B9BD5"/><circle cx="466.60" cy="450.93" r="1.70" fill="#5B9BD5"/><circle cx="471.40" cy="451.82" r="1.70" fill="#5B9BD5"/><circle cx="476.20" cy="453.04" r="1.70" fill="#5B9BD5"/><circle cx="481.00" cy="453.85" r="1.70" fill="#5B9BD5"/><circle cx="485.80" cy="455.23" r="1.70" fill="#5B9BD5"/><circle cx="490.60" cy="455.96" r="1.70" fill="#5B9BD5"/><circle cx="495.40" cy="456.77" r="1.70" fill="#5B9BD5"/><circle cx="500.20" cy="457.26" r="1.70" fill="#5B9BD5"/><circle cx="505.00" cy="457.67" r="1.70" fill="#5B9BD5"/><rect x="337.85" y="436.68" width="3.10" height="3.10" fill="#70AD47"/><rect x="342.65" y="436.64" width="3.10" height="3.10" fill="#70AD47"/><rect x="347.45" y="436.61" width="3.10" height="3.10" fill="#70AD47"/><rect x="352.25" y="436.59" width="3.10" height="3.10" fill="#70AD47"/><rect x="357.05" y="436.57" width="3.10" height="3.10" fill="#70AD47"/><rect x="361.85" y="436.56" width="3.10" height="3.10" fill="#70AD47"/><rect x="366.65" y="436.55" width="3.10" height="3.10" fill="#70AD47"/><rect x="371.45" y="436.54" width="3.10" height="3.10" fill="#70AD47"/><rect x="376.25" y="436.54" width="3.10" height="3.10" fill="#70AD47"/><rect x="381.05" y="436.54" width="3.10" height="3.10" fill="#70AD47"/><rect x="385.85" y="436.54" width="3.10" height="3.10" fill="#70AD47"/><rect x="390.65" y="436.68" width="3.10" height="3.10" fill="#70AD47"/><rect x="395.45" y="437.07" width="3.10" height="3.10" fill="#70AD47"/><rect x="400.25" y="437.62" width="3.10" height="3.10" fill="#70AD47"/><rect x="405.05" y="438.28" width="3.10" height="3.10" fill="#70AD47"/><rect x="409.85" y="438.97" width="3.10" height="3.10" fill="#70AD47"/><rect x="414.65" y="439.88" width="3.10" height="3.10" fill="#70AD47"/><rect x="419.45" y="441.04" width="3.10" height="3.10" fill="#70AD47"/><rect x="424.25" y="442.14" width="3.10" height="3.10" fill="#70AD47"/><rect x="429.05" y="443.11" width="3.10" height="3.10" fill="#70AD47"/><rect x="433.85" y="444.01" width="3.10" height="3.10" fill="#70AD47"/><rect x="438.65" y="444.82" width="3.10" height="3.10" fill="#70AD47"/><rect x="443.45" y="446.53" width="3.10" height="3.10" fill="#70AD47"/><rect x="448.25" y="447.83" width="3.10" height="3.10" fill="#70AD47"/><rect x="453.05" y="449.13" width="3.10" height="3.10" fill="#70AD47"/><rect x="457.85" y="449.94" width="3.10" height="3.10" fill="#70AD47"/><rect x="462.65" y="451.24" width="3.10" height="3.10" fill="#70AD47"/><rect x="467.45" y="452.30" width="3.10" height="3.10" fill="#70AD47"/><rect x="472.25" y="453.68" width="3.10" height="3.10" fill="#70AD47"/><rect x="477.05" y="454.41" width="3.10" height="3.10" fill="#70AD47"/><rect x="481.85" y="454.82" width="3.10" height="3.10" fill="#70AD47"/><rect x="486.65" y="455.71" width="3.10" height="3.10" fill="#70AD47"/><rect x="491.45" y="455.71" width="3.10" height="3.10" fill="#70AD47"/><rect x="496.25" y="456.12" width="3.10" height="3.10" fill="#70AD47"/><rect x="501.05" y="456.52" width="3.10" height="3.10" fill="#70AD47"/><path d="M339.40 436.30L341.35 439.81L337.45 439.81Z" fill="#264478"/><path d="M344.20 436.30L346.15 439.81L342.25 439.81Z" fill="#264478"/><path d="M349.00 436.30L350.95 439.81L347.05 439.81Z" fill="#264478"/><path d="M353.80 436.30L355.75 439.81L351.85 439.81Z" fill="#264478"/><path d="M358.60 436.30L360.55 439.81L356.65 439.81Z" fill="#264478"/><path d="M363.40 436.30L365.35 439.81L361.45 439.81Z" fill="#264478"/><path d="M368.20 436.30L370.15 439.81L366.25 439.81Z" fill="#264478"/><path d="M373.00 436.30L374.95 439.81L371.05 439.81Z" fill="#264478"/><path d="M377.80 436.30L379.75 439.81L375.85 439.81Z" fill="#264478"/><path d="M382.60 436.30L384.55 439.81L380.65 439.81Z" fill="#264478"/><path d="M387.40 436.30L389.35 439.81L385.45 439.81Z" fill="#264478"/><path d="M392.20 436.41L394.15 439.92L390.25 439.92Z" fill="#264478"/><path d="M397.00 436.71L398.95 440.22L395.05 440.22Z" fill="#264478"/><path d="M401.80 437.16L403.75 440.67L399.85 440.67Z" fill="#264478"/><path d="M406.60 437.71L408.55 441.22L404.65 441.22Z" fill="#264478"/><path d="M411.40 438.33L413.35 441.84L409.45 441.84Z" fill="#264478"/><path d="M416.20 439.28L418.15 442.79L414.25 442.79Z" fill="#264478"/><path d="M421.00 440.61L422.95 444.12L419.05 444.12Z" fill="#264478"/><path d="M425.80 441.99L427.75 445.50L423.85 445.50Z" fill="#264478"/><path d="M430.60 443.33L432.55 446.84L428.65 446.84Z" fill="#264478"/><path d="M435.40 444.71L437.35 448.22L433.45 448.22Z" fill="#264478"/><path d="M440.20 446.05L442.15 449.56L438.25 449.56Z" fill="#264478"/><path d="M445.00 447.23L446.95 450.74L443.05 450.74Z" fill="#264478"/><path d="M449.80 448.49L451.75 452.00L447.85 452.00Z" fill="#264478"/><path d="M454.60 450.32L456.55 453.83L452.65 453.83Z" fill="#264478"/><path d="M459.40 452.06L461.35 455.57L457.45 455.57Z" fill="#264478"/><path d="M464.20 453.07L466.15 456.58L462.25 456.58Z" fill="#264478"/><path d="M469.00 454.01L470.95 457.52L467.05 457.52Z" fill="#264478"/><path d="M473.80 455.31L475.75 458.82L471.85 458.82Z" fill="#264478"/><path d="M478.60 456.53L480.55 460.04L476.65 460.04Z" fill="#264478"/><path d="M483.40 457.43L485.35 460.94L481.45 460.94Z" fill="#264478"/><path d="M488.20 458.24L490.15 461.75L486.25 461.75Z" fill="#264478"/><path d="M493.00 458.24L494.95 461.75L491.05 461.75Z" fill="#264478"/><path d="M497.80 458.73L499.75 462.24L495.85 462.24Z" fill="#264478"/><path d="M502.60 459.13L504.55 462.64L500.65 462.64Z" fill="#264478"/><path d="M339.40 436.36L341.30 438.26L339.40 440.16L337.50 438.26Z" fill="#9E480E"/><path d="M344.20 436.37L346.10 438.27L344.20 440.17L342.30 438.27Z" fill="#9E480E"/><path d="M349.00 436.39L350.90 438.29L349.00 440.19L347.10 438.29Z" fill="#9E480E"/><path d="M353.80 436.40L355.70 438.30L353.80 440.20L351.90 438.30Z" fill="#9E480E"/><path d="M358.60 436.41L360.50 438.31L358.60 440.21L356.70 438.31Z" fill="#9E480E"/><path d="M363.40 436.42L365.30 438.32L363.40 440.22L361.50 438.32Z" fill="#9E480E"/><path d="M368.20 436.42L370.10 438.32L368.20 440.22L366.30 438.32Z" fill="#9E480E"/><path d="M373.00 436.43L374.90 438.33L373.00 440.23L371.10 438.33Z" fill="#9E480E"/><path d="M377.80 436.43L379.70 438.33L377.80 440.23L375.90 438.33Z" fill="#9E480E"/><path d="M382.60 436.43L384.50 438.33L382.60 440.23L380.70 438.33Z" fill="#9E480E"/><path d="M387.40 436.43L389.30 438.33L387.40 440.23L385.50 438.33Z" fill="#9E480E"/><path d="M392.20 436.68L394.10 438.57L392.20 440.47L390.30 438.57Z" fill="#9E480E"/><path d="M397.00 437.08L398.90 438.98L397.00 440.88L395.10 438.98Z" fill="#9E480E"/><path d="M401.80 437.49L403.70 439.39L401.80 441.29L399.90 439.39Z" fill="#9E480E"/><path d="M406.60 437.89L408.50 439.79L406.60 441.69L404.70 439.79Z" fill="#9E480E"/><path d="M411.40 439.03L413.30 440.93L411.40 442.83L409.50 440.93Z" fill="#9E480E"/><path d="M416.20 439.76L418.10 441.66L416.20 443.56L414.30 441.66Z" fill="#9E480E"/><path d="M421.00 440.33L422.90 442.23L421.00 444.13L419.10 442.23Z" fill="#9E480E"/><path d="M425.80 441.63L427.70 443.53L425.80 445.43L423.90 443.53Z" fill="#9E480E"/><path d="M430.60 443.34L432.50 445.24L430.60 447.14L428.70 445.24Z" fill="#9E480E"/><path d="M435.40 444.48L437.30 446.38L435.40 448.27L433.50 446.38Z" fill="#9E480E"/><path d="M440.20 447.08L442.10 448.98L440.20 450.88L438.30 448.98Z" fill="#9E480E"/><path d="M445.00 448.29L446.90 450.19L445.00 452.09L443.10 450.19Z" fill="#9E480E"/><path d="M449.80 449.59L451.70 451.49L449.80 453.39L447.90 451.49Z" fill="#9E480E"/><path d="M454.60 451.30L456.50 453.20L454.60 455.10L452.70 453.20Z" fill="#9E480E"/><path d="M459.40 452.60L461.30 454.50L459.40 456.40L457.50 454.50Z" fill="#9E480E"/><path d="M464.20 454.31L466.10 456.21L464.20 458.11L462.30 456.21Z" fill="#9E480E"/><path d="M469.00 456.66L470.90 458.56L469.00 460.46L467.10 458.56Z" fill="#9E480E"/><path d="M473.80 459.10L475.70 461.00L473.80 462.90L471.90 461.00Z" fill="#9E480E"/><path d="M478.60 460.73L480.50 462.62L478.60 464.52L476.70 462.62Z" fill="#9E480E"/><path d="M483.40 461.94L485.30 463.84L483.40 465.74L481.50 463.84Z" fill="#9E480E"/><path d="M488.20 463.16L490.10 465.06L488.20 466.96L486.30 465.06Z" fill="#9E480E"/><path d="M493.00 463.98L494.90 465.88L493.00 467.77L491.10 465.88Z" fill="#9E480E"/><path d="M497.80 464.38L499.70 466.28L497.80 468.18L495.90 466.28Z" fill="#9E480E"/><path d="M502.60 465.19L504.50 467.09L502.60 468.99L500.70 467.09Z" fill="#9E480E"/></g><rect x="514.90" y="440.00" width="11.50" height="69.40" fill="none" stroke="#e0e0e0" stroke-width="0.7"/><circle cx="519.10" cy="444.80" r="1.44" fill="#ED7D31"/><text x="521.40" y="446.50" font-size="4.6" fill="#5e5e5e">2</text><path d="M519.10 453.13L520.76 456.11L517.44 456.11Z" fill="#A5A5A5"/><text x="521.40" y="456.48" font-size="4.6" fill="#5e5e5e">3</text><path d="M519.10 463.15L520.72 464.77L519.10 466.38L517.49 464.77Z" fill="#FFC000"/><text x="521.40" y="466.47" font-size="4.6" fill="#5e5e5e">4</text><circle cx="519.10" cy="474.75" r="1.44" fill="#5B9BD5"/><text x="521.40" y="476.45" font-size="4.6" fill="#5e5e5e">5</text><rect x="517.78" y="483.42" width="2.63" height="2.63" fill="#70AD47"/><text x="521.40" y="486.43" font-size="4.6" fill="#5e5e5e">6</text><path d="M519.10 493.06L520.76 496.04L517.44 496.04Z" fill="#264478"/><text x="521.40" y="496.42" font-size="4.6" fill="#5e5e5e">7</text><path d="M519.10 503.08L520.72 504.70L519.10 506.31L517.49 504.70Z" fill="#9E480E"/><text x="521.40" y="506.40" font-size="4.6" fill="#5e5e5e">8</text></svg>
<div class="yt" style="color:#141414;transform:translate(8.93px,101.09px) rotate(-90deg) scaleX(0.973)">MMF (%)</div><div class="yt" style="color:#1E3A78;transform:translate(21.83px,101.03px) rotate(-90deg) scaleX(0.876)">Constant T1</div><div class="yt" style="color:#1E3A78;transform:translate(34.08px,101.05px) rotate(-90deg) scaleX(0.909)">No B1 correction</div><div class="lab" style="transform:translate(39.35px,119.22px) scaleX(0.95)">(A)</div><div class="ff" style="transform:translate(108.76px,123.15px) scaleX(0.97)">Fat fraction (%)</div><div class="yt" style="color:#141414;transform:translate(9.48px,230.69px) rotate(-90deg) scaleX(0.973)">MMF (%)</div><div class="yt" style="color:#1E3A78;transform:translate(20.73px,230.63px) rotate(-90deg) scaleX(0.876)">Constant T1</div><div class="yt" style="color:#1E3A78;transform:translate(33.73px,230.65px) rotate(-90deg) scaleX(0.909)">B1 correction</div><div class="lab" style="transform:translate(39.15px,251.82px) scaleX(0.95)">(C)</div><div class="ff" style="transform:translate(108.66px,253.35px) scaleX(0.97)">Fat fraction (%)</div><div class="yt" style="color:#141414;transform:translate(9.53px,373.39px) rotate(-90deg) scaleX(0.973)">MMF (%)</div><div class="yt" style="color:#1E3A78;transform:translate(21.73px,373.35px) rotate(-90deg) scaleX(0.907)">Measured T1</div><div class="yt" style="color:#1E3A78;transform:translate(33.93px,373.35px) rotate(-90deg) scaleX(0.909)">No B1 correction</div><div class="lab" style="transform:translate(41.76px,394.77px) scaleX(0.95)">(E)</div><div class="ff" style="transform:translate(109.86px,397.55px) scaleX(0.97)">Fat fraction (%)</div><div class="yt" style="color:#141414;transform:translate(8.73px,509.44px) rotate(-90deg) scaleX(0.973)">MMF (%)</div><div class="yt" style="color:#1E3A78;transform:translate(21.23px,509.40px) rotate(-90deg) scaleX(0.907)">Measured T1</div><div class="yt" style="color:#1E3A78;transform:translate(33.73px,509.40px) rotate(-90deg) scaleX(0.909)">B1 correction</div><div class="lab" style="transform:translate(38.79px,531.02px) scaleX(0.95)">(G)</div><div class="ff" style="transform:translate(108.66px,532.35px) scaleX(0.97)">Fat fraction (%)</div><div class="yt" style="color:#141414;transform:translate(282.83px,100.56px) rotate(-90deg) scaleX(0.924)">Normalized MMF (%)</div><div class="yt" style="color:#1E3A78;transform:translate(295.63px,100.53px) rotate(-90deg) scaleX(0.876)">Constant T1</div><div class="yt" style="color:#1E3A78;transform:translate(307.83px,100.55px) rotate(-90deg) scaleX(0.909)">No B1 correction</div><div class="lab" style="transform:translate(318.15px,122.07px) scaleX(0.95)">(B)</div><div class="ff" style="transform:translate(387.66px,123.75px) scaleX(0.97)">Fat fraction (%)</div><div class="yt" style="color:#141414;transform:translate(283.43px,230.66px) rotate(-90deg) scaleX(0.924)">Normalized MMF (%)</div><div class="yt" style="color:#1E3A78;transform:translate(295.48px,230.63px) rotate(-90deg) scaleX(0.876)">Constant T1</div><div class="yt" style="color:#1E3A78;transform:translate(307.98px,230.65px) rotate(-90deg) scaleX(0.909)">B1 correction</div><div class="lab" style="transform:translate(318.15px,252.37px) scaleX(0.95)">(D)</div><div class="ff" style="transform:translate(387.66px,254.05px) scaleX(0.97)">Fat fraction (%)</div><div class="yt" style="color:#141414;transform:translate(282.23px,373.66px) rotate(-90deg) scaleX(0.924)">Normalized MMF (%)</div><div class="yt" style="color:#1E3A78;transform:translate(295.48px,373.65px) rotate(-90deg) scaleX(0.907)">Measured T1</div><div class="yt" style="color:#1E3A78;transform:translate(307.98px,373.65px) rotate(-90deg) scaleX(0.909)">No B1 correction</div><div class="lab" style="transform:translate(320.72px,395.22px) scaleX(0.95)">(F)</div><div class="ff" style="transform:translate(388.66px,397.75px) scaleX(0.97)">Fat fraction (%)</div><div class="yt" style="color:#141414;transform:translate(282.23px,509.41px) rotate(-90deg) scaleX(0.924)">Normalized MMF (%)</div><div class="yt" style="color:#1E3A78;transform:translate(295.48px,509.40px) rotate(-90deg) scaleX(0.907)">Measured T1</div><div class="yt" style="color:#1E3A78;transform:translate(307.98px,509.40px) rotate(-90deg) scaleX(0.909)">B1 correction</div><div class="lab" style="transform:translate(317.90px,531.47px) scaleX(0.95)">(H)</div><div class="ff" style="transform:translate(387.66px,532.85px) scaleX(0.97)">Fat fraction (%)</div>
</body></html>
